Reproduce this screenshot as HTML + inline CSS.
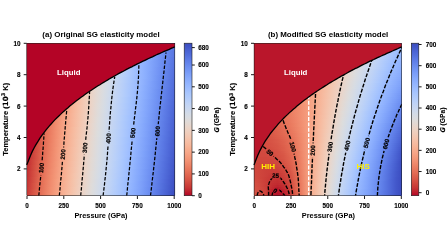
<!DOCTYPE html>
<html><head><meta charset="utf-8"><title>SG elasticity model</title>
<style>html,body{margin:0;padding:0;background:#fff}svg{display:block}</style></head>
<body>
<svg width="448" height="252" viewBox="0 0 448 252">
<defs>
<linearGradient id="ga0" gradientUnits="userSpaceOnUse" x1="26.7" x2="174.9" y1="0" y2="0"><stop offset="0.000" stop-color="#b40426"/><stop offset="0.040" stop-color="#bd1f2d"/><stop offset="0.080" stop-color="#cb3e38"/><stop offset="0.120" stop-color="#d75445"/><stop offset="0.160" stop-color="#e26952"/><stop offset="0.200" stop-color="#ea7b60"/><stop offset="0.240" stop-color="#f08b6e"/><stop offset="0.280" stop-color="#f59c7d"/><stop offset="0.320" stop-color="#f7aa8c"/><stop offset="0.360" stop-color="#f7b99e"/><stop offset="0.400" stop-color="#f4c6af"/><stop offset="0.440" stop-color="#efcfbf"/><stop offset="0.480" stop-color="#e8d6cc"/><stop offset="0.520" stop-color="#e0dbd8"/><stop offset="0.560" stop-color="#d8dce2"/><stop offset="0.600" stop-color="#cfdaea"/><stop offset="0.640" stop-color="#c5d6f2"/><stop offset="0.680" stop-color="#b7cff9"/><stop offset="0.720" stop-color="#a9c6fd"/><stop offset="0.760" stop-color="#9abbff"/><stop offset="0.800" stop-color="#8fb1fe"/><stop offset="0.840" stop-color="#84a7fc"/><stop offset="0.880" stop-color="#799cf8"/><stop offset="0.920" stop-color="#6e90f2"/><stop offset="0.960" stop-color="#6384eb"/><stop offset="1.000" stop-color="#5a78e4"/></linearGradient>
<linearGradient id="ga1" gradientUnits="userSpaceOnUse" x1="26.7" x2="174.9" y1="0" y2="0"><stop offset="0.000" stop-color="#b40426"/><stop offset="0.040" stop-color="#bd1f2d"/><stop offset="0.080" stop-color="#cb3e38"/><stop offset="0.120" stop-color="#d75445"/><stop offset="0.160" stop-color="#e26952"/><stop offset="0.200" stop-color="#ea7b60"/><stop offset="0.240" stop-color="#f18d6f"/><stop offset="0.280" stop-color="#f59c7d"/><stop offset="0.320" stop-color="#f7ac8e"/><stop offset="0.360" stop-color="#f7b99e"/><stop offset="0.400" stop-color="#f4c6af"/><stop offset="0.440" stop-color="#eed0c0"/><stop offset="0.480" stop-color="#e8d6cc"/><stop offset="0.520" stop-color="#e0dbd8"/><stop offset="0.560" stop-color="#d8dce2"/><stop offset="0.600" stop-color="#cfdaea"/><stop offset="0.640" stop-color="#c5d6f2"/><stop offset="0.680" stop-color="#b7cff9"/><stop offset="0.720" stop-color="#a9c6fd"/><stop offset="0.760" stop-color="#9abbff"/><stop offset="0.800" stop-color="#8fb1fe"/><stop offset="0.840" stop-color="#84a7fc"/><stop offset="0.880" stop-color="#799cf8"/><stop offset="0.920" stop-color="#6e90f2"/><stop offset="0.960" stop-color="#6384eb"/><stop offset="1.000" stop-color="#5977e3"/></linearGradient>
<linearGradient id="ga2" gradientUnits="userSpaceOnUse" x1="26.7" x2="174.9" y1="0" y2="0"><stop offset="0.000" stop-color="#b40426"/><stop offset="0.040" stop-color="#bd1f2d"/><stop offset="0.080" stop-color="#cb3e38"/><stop offset="0.120" stop-color="#d75445"/><stop offset="0.160" stop-color="#e26952"/><stop offset="0.200" stop-color="#ea7b60"/><stop offset="0.240" stop-color="#f18d6f"/><stop offset="0.280" stop-color="#f59d7e"/><stop offset="0.320" stop-color="#f7ac8e"/><stop offset="0.360" stop-color="#f7ba9f"/><stop offset="0.400" stop-color="#f4c6af"/><stop offset="0.440" stop-color="#eed0c0"/><stop offset="0.480" stop-color="#e8d6cc"/><stop offset="0.520" stop-color="#e0dbd8"/><stop offset="0.560" stop-color="#d7dce3"/><stop offset="0.600" stop-color="#cedaeb"/><stop offset="0.640" stop-color="#c4d5f3"/><stop offset="0.680" stop-color="#b6cefa"/><stop offset="0.720" stop-color="#a9c6fd"/><stop offset="0.760" stop-color="#9abbff"/><stop offset="0.800" stop-color="#8fb1fe"/><stop offset="0.840" stop-color="#84a7fc"/><stop offset="0.880" stop-color="#799cf8"/><stop offset="0.920" stop-color="#6e90f2"/><stop offset="0.960" stop-color="#6384eb"/><stop offset="1.000" stop-color="#5977e3"/></linearGradient>
<linearGradient id="ga3" gradientUnits="userSpaceOnUse" x1="26.7" x2="174.9" y1="0" y2="0"><stop offset="0.000" stop-color="#b40426"/><stop offset="0.040" stop-color="#bd1f2d"/><stop offset="0.080" stop-color="#cb3e38"/><stop offset="0.120" stop-color="#d75445"/><stop offset="0.160" stop-color="#e36b54"/><stop offset="0.200" stop-color="#ea7b60"/><stop offset="0.240" stop-color="#f18d6f"/><stop offset="0.280" stop-color="#f59d7e"/><stop offset="0.320" stop-color="#f7ac8e"/><stop offset="0.360" stop-color="#f7ba9f"/><stop offset="0.400" stop-color="#f4c6af"/><stop offset="0.440" stop-color="#eed0c0"/><stop offset="0.480" stop-color="#e7d7ce"/><stop offset="0.520" stop-color="#dfdbd9"/><stop offset="0.560" stop-color="#d7dce3"/><stop offset="0.600" stop-color="#cedaeb"/><stop offset="0.640" stop-color="#c4d5f3"/><stop offset="0.680" stop-color="#b6cefa"/><stop offset="0.720" stop-color="#a7c5fe"/><stop offset="0.760" stop-color="#9abbff"/><stop offset="0.800" stop-color="#8fb1fe"/><stop offset="0.840" stop-color="#84a7fc"/><stop offset="0.880" stop-color="#799cf8"/><stop offset="0.920" stop-color="#6c8ff1"/><stop offset="0.960" stop-color="#6384eb"/><stop offset="1.000" stop-color="#5977e3"/></linearGradient>
<linearGradient id="ga4" gradientUnits="userSpaceOnUse" x1="26.7" x2="174.9" y1="0" y2="0"><stop offset="0.000" stop-color="#b40426"/><stop offset="0.040" stop-color="#bd1f2d"/><stop offset="0.080" stop-color="#cc403a"/><stop offset="0.120" stop-color="#d85646"/><stop offset="0.160" stop-color="#e36b54"/><stop offset="0.200" stop-color="#eb7d62"/><stop offset="0.240" stop-color="#f18d6f"/><stop offset="0.280" stop-color="#f59d7e"/><stop offset="0.320" stop-color="#f7ac8e"/><stop offset="0.360" stop-color="#f7ba9f"/><stop offset="0.400" stop-color="#f3c7b1"/><stop offset="0.440" stop-color="#eed0c0"/><stop offset="0.480" stop-color="#e7d7ce"/><stop offset="0.520" stop-color="#dfdbd9"/><stop offset="0.560" stop-color="#d7dce3"/><stop offset="0.600" stop-color="#cedaeb"/><stop offset="0.640" stop-color="#c3d5f4"/><stop offset="0.680" stop-color="#b6cefa"/><stop offset="0.720" stop-color="#a7c5fe"/><stop offset="0.760" stop-color="#9abbff"/><stop offset="0.800" stop-color="#8db0fe"/><stop offset="0.840" stop-color="#82a6fb"/><stop offset="0.880" stop-color="#779af7"/><stop offset="0.920" stop-color="#6c8ff1"/><stop offset="0.960" stop-color="#6282ea"/><stop offset="1.000" stop-color="#5875e1"/></linearGradient>
<linearGradient id="ga5" gradientUnits="userSpaceOnUse" x1="26.7" x2="174.9" y1="0" y2="0"><stop offset="0.000" stop-color="#b40426"/><stop offset="0.040" stop-color="#be242e"/><stop offset="0.080" stop-color="#cc403a"/><stop offset="0.120" stop-color="#d85646"/><stop offset="0.160" stop-color="#e36b54"/><stop offset="0.200" stop-color="#eb7d62"/><stop offset="0.240" stop-color="#f18f71"/><stop offset="0.280" stop-color="#f59f80"/><stop offset="0.320" stop-color="#f7ad90"/><stop offset="0.360" stop-color="#f7ba9f"/><stop offset="0.400" stop-color="#f3c7b1"/><stop offset="0.440" stop-color="#edd1c2"/><stop offset="0.480" stop-color="#e7d7ce"/><stop offset="0.520" stop-color="#dfdbd9"/><stop offset="0.560" stop-color="#d6dce4"/><stop offset="0.600" stop-color="#cdd9ec"/><stop offset="0.640" stop-color="#c3d5f4"/><stop offset="0.680" stop-color="#b5cdfa"/><stop offset="0.720" stop-color="#a7c5fe"/><stop offset="0.760" stop-color="#9abbff"/><stop offset="0.800" stop-color="#8db0fe"/><stop offset="0.840" stop-color="#82a6fb"/><stop offset="0.880" stop-color="#779af7"/><stop offset="0.920" stop-color="#6c8ff1"/><stop offset="0.960" stop-color="#6282ea"/><stop offset="1.000" stop-color="#5875e1"/></linearGradient>
<linearGradient id="ga6" gradientUnits="userSpaceOnUse" x1="26.7" x2="174.9" y1="0" y2="0"><stop offset="0.000" stop-color="#b40426"/><stop offset="0.040" stop-color="#be242e"/><stop offset="0.080" stop-color="#cc403a"/><stop offset="0.120" stop-color="#d85646"/><stop offset="0.160" stop-color="#e36b54"/><stop offset="0.200" stop-color="#eb7d62"/><stop offset="0.240" stop-color="#f18f71"/><stop offset="0.280" stop-color="#f59f80"/><stop offset="0.320" stop-color="#f7ad90"/><stop offset="0.360" stop-color="#f7bca1"/><stop offset="0.400" stop-color="#f3c7b1"/><stop offset="0.440" stop-color="#edd1c2"/><stop offset="0.480" stop-color="#e7d7ce"/><stop offset="0.520" stop-color="#dedcdb"/><stop offset="0.560" stop-color="#d6dce4"/><stop offset="0.600" stop-color="#cdd9ec"/><stop offset="0.640" stop-color="#c1d4f4"/><stop offset="0.680" stop-color="#b5cdfa"/><stop offset="0.720" stop-color="#a7c5fe"/><stop offset="0.760" stop-color="#98b9ff"/><stop offset="0.800" stop-color="#8db0fe"/><stop offset="0.840" stop-color="#82a6fb"/><stop offset="0.880" stop-color="#779af7"/><stop offset="0.920" stop-color="#6c8ff1"/><stop offset="0.960" stop-color="#6282ea"/><stop offset="1.000" stop-color="#5875e1"/></linearGradient>
<linearGradient id="ga7" gradientUnits="userSpaceOnUse" x1="26.7" x2="174.9" y1="0" y2="0"><stop offset="0.000" stop-color="#b40426"/><stop offset="0.040" stop-color="#be242e"/><stop offset="0.080" stop-color="#cc403a"/><stop offset="0.120" stop-color="#d85646"/><stop offset="0.160" stop-color="#e36c55"/><stop offset="0.200" stop-color="#eb7d62"/><stop offset="0.240" stop-color="#f18f71"/><stop offset="0.280" stop-color="#f59f80"/><stop offset="0.320" stop-color="#f7ad90"/><stop offset="0.360" stop-color="#f7bca1"/><stop offset="0.400" stop-color="#f3c8b2"/><stop offset="0.440" stop-color="#edd1c2"/><stop offset="0.480" stop-color="#e6d7cf"/><stop offset="0.520" stop-color="#dedcdb"/><stop offset="0.560" stop-color="#d6dce4"/><stop offset="0.600" stop-color="#ccd9ed"/><stop offset="0.640" stop-color="#c1d4f4"/><stop offset="0.680" stop-color="#b5cdfa"/><stop offset="0.720" stop-color="#a6c4fe"/><stop offset="0.760" stop-color="#98b9ff"/><stop offset="0.800" stop-color="#8db0fe"/><stop offset="0.840" stop-color="#82a6fb"/><stop offset="0.880" stop-color="#779af7"/><stop offset="0.920" stop-color="#6b8df0"/><stop offset="0.960" stop-color="#6180e9"/><stop offset="1.000" stop-color="#5673e0"/></linearGradient>
<linearGradient id="ga8" gradientUnits="userSpaceOnUse" x1="26.7" x2="174.9" y1="0" y2="0"><stop offset="0.000" stop-color="#b40426"/><stop offset="0.040" stop-color="#be242e"/><stop offset="0.080" stop-color="#cc403a"/><stop offset="0.120" stop-color="#d95847"/><stop offset="0.160" stop-color="#e36c55"/><stop offset="0.200" stop-color="#ec7f63"/><stop offset="0.240" stop-color="#f29072"/><stop offset="0.280" stop-color="#f5a081"/><stop offset="0.320" stop-color="#f7af91"/><stop offset="0.360" stop-color="#f7bca1"/><stop offset="0.400" stop-color="#f3c8b2"/><stop offset="0.440" stop-color="#edd1c2"/><stop offset="0.480" stop-color="#e6d7cf"/><stop offset="0.520" stop-color="#dedcdb"/><stop offset="0.560" stop-color="#d5dbe5"/><stop offset="0.600" stop-color="#ccd9ed"/><stop offset="0.640" stop-color="#c0d4f5"/><stop offset="0.680" stop-color="#b3cdfb"/><stop offset="0.720" stop-color="#a6c4fe"/><stop offset="0.760" stop-color="#98b9ff"/><stop offset="0.800" stop-color="#8db0fe"/><stop offset="0.840" stop-color="#82a6fb"/><stop offset="0.880" stop-color="#7699f6"/><stop offset="0.920" stop-color="#6b8df0"/><stop offset="0.960" stop-color="#6180e9"/><stop offset="1.000" stop-color="#5673e0"/></linearGradient>
<linearGradient id="ga9" gradientUnits="userSpaceOnUse" x1="26.7" x2="174.9" y1="0" y2="0"><stop offset="0.000" stop-color="#b40426"/><stop offset="0.040" stop-color="#be242e"/><stop offset="0.080" stop-color="#cd423b"/><stop offset="0.120" stop-color="#d95847"/><stop offset="0.160" stop-color="#e36c55"/><stop offset="0.200" stop-color="#ec7f63"/><stop offset="0.240" stop-color="#f29072"/><stop offset="0.280" stop-color="#f5a081"/><stop offset="0.320" stop-color="#f7af91"/><stop offset="0.360" stop-color="#f6bda2"/><stop offset="0.400" stop-color="#f3c8b2"/><stop offset="0.440" stop-color="#edd2c3"/><stop offset="0.480" stop-color="#e6d7cf"/><stop offset="0.520" stop-color="#dddcdc"/><stop offset="0.560" stop-color="#d5dbe5"/><stop offset="0.600" stop-color="#cbd8ee"/><stop offset="0.640" stop-color="#c0d4f5"/><stop offset="0.680" stop-color="#b3cdfb"/><stop offset="0.720" stop-color="#a6c4fe"/><stop offset="0.760" stop-color="#98b9ff"/><stop offset="0.800" stop-color="#8db0fe"/><stop offset="0.840" stop-color="#81a4fb"/><stop offset="0.880" stop-color="#7699f6"/><stop offset="0.920" stop-color="#6b8df0"/><stop offset="0.960" stop-color="#6180e9"/><stop offset="1.000" stop-color="#5673e0"/></linearGradient>
<linearGradient id="ga10" gradientUnits="userSpaceOnUse" x1="26.7" x2="174.9" y1="0" y2="0"><stop offset="0.000" stop-color="#b40426"/><stop offset="0.040" stop-color="#c0282f"/><stop offset="0.080" stop-color="#cd423b"/><stop offset="0.120" stop-color="#d95847"/><stop offset="0.160" stop-color="#e36c55"/><stop offset="0.200" stop-color="#ec7f63"/><stop offset="0.240" stop-color="#f29072"/><stop offset="0.280" stop-color="#f5a081"/><stop offset="0.320" stop-color="#f7af91"/><stop offset="0.360" stop-color="#f6bda2"/><stop offset="0.400" stop-color="#f3c8b2"/><stop offset="0.440" stop-color="#edd2c3"/><stop offset="0.480" stop-color="#e6d7cf"/><stop offset="0.520" stop-color="#dddcdc"/><stop offset="0.560" stop-color="#d4dbe6"/><stop offset="0.600" stop-color="#cbd8ee"/><stop offset="0.640" stop-color="#bfd3f6"/><stop offset="0.680" stop-color="#b3cdfb"/><stop offset="0.720" stop-color="#a6c4fe"/><stop offset="0.760" stop-color="#98b9ff"/><stop offset="0.800" stop-color="#8db0fe"/><stop offset="0.840" stop-color="#81a4fb"/><stop offset="0.880" stop-color="#7699f6"/><stop offset="0.920" stop-color="#6a8bef"/><stop offset="0.960" stop-color="#5f7fe8"/><stop offset="1.000" stop-color="#5572df"/></linearGradient>
<linearGradient id="ga11" gradientUnits="userSpaceOnUse" x1="26.7" x2="174.9" y1="0" y2="0"><stop offset="0.000" stop-color="#b40426"/><stop offset="0.040" stop-color="#c0282f"/><stop offset="0.080" stop-color="#cd423b"/><stop offset="0.120" stop-color="#d95847"/><stop offset="0.160" stop-color="#e46e56"/><stop offset="0.200" stop-color="#ec7f63"/><stop offset="0.240" stop-color="#f29072"/><stop offset="0.280" stop-color="#f5a081"/><stop offset="0.320" stop-color="#f7b093"/><stop offset="0.360" stop-color="#f6bda2"/><stop offset="0.400" stop-color="#f2c9b4"/><stop offset="0.440" stop-color="#edd2c3"/><stop offset="0.480" stop-color="#e5d8d1"/><stop offset="0.520" stop-color="#dddcdc"/><stop offset="0.560" stop-color="#d4dbe6"/><stop offset="0.600" stop-color="#cad8ef"/><stop offset="0.640" stop-color="#bfd3f6"/><stop offset="0.680" stop-color="#b2ccfb"/><stop offset="0.720" stop-color="#a5c3fe"/><stop offset="0.760" stop-color="#98b9ff"/><stop offset="0.800" stop-color="#8caffe"/><stop offset="0.840" stop-color="#81a4fb"/><stop offset="0.880" stop-color="#7699f6"/><stop offset="0.920" stop-color="#6a8bef"/><stop offset="0.960" stop-color="#5f7fe8"/><stop offset="1.000" stop-color="#5572df"/></linearGradient>
<linearGradient id="ga12" gradientUnits="userSpaceOnUse" x1="26.7" x2="174.9" y1="0" y2="0"><stop offset="0.000" stop-color="#b40426"/><stop offset="0.040" stop-color="#c0282f"/><stop offset="0.080" stop-color="#cd423b"/><stop offset="0.120" stop-color="#da5a49"/><stop offset="0.160" stop-color="#e46e56"/><stop offset="0.200" stop-color="#ec8165"/><stop offset="0.240" stop-color="#f29274"/><stop offset="0.280" stop-color="#f6a283"/><stop offset="0.320" stop-color="#f7b093"/><stop offset="0.360" stop-color="#f6bda2"/><stop offset="0.400" stop-color="#f2c9b4"/><stop offset="0.440" stop-color="#edd2c3"/><stop offset="0.480" stop-color="#e5d8d1"/><stop offset="0.520" stop-color="#dcdddd"/><stop offset="0.560" stop-color="#d4dbe6"/><stop offset="0.600" stop-color="#cad8ef"/><stop offset="0.640" stop-color="#bed2f6"/><stop offset="0.680" stop-color="#b2ccfb"/><stop offset="0.720" stop-color="#a5c3fe"/><stop offset="0.760" stop-color="#98b9ff"/><stop offset="0.800" stop-color="#8caffe"/><stop offset="0.840" stop-color="#81a4fb"/><stop offset="0.880" stop-color="#7597f6"/><stop offset="0.920" stop-color="#6a8bef"/><stop offset="0.960" stop-color="#5f7fe8"/><stop offset="1.000" stop-color="#5470de"/></linearGradient>
<linearGradient id="ga13" gradientUnits="userSpaceOnUse" x1="26.7" x2="174.9" y1="0" y2="0"><stop offset="0.000" stop-color="#b40426"/><stop offset="0.040" stop-color="#c0282f"/><stop offset="0.080" stop-color="#cf453c"/><stop offset="0.120" stop-color="#da5a49"/><stop offset="0.160" stop-color="#e46e56"/><stop offset="0.200" stop-color="#ec8165"/><stop offset="0.240" stop-color="#f29274"/><stop offset="0.280" stop-color="#f6a283"/><stop offset="0.320" stop-color="#f7b093"/><stop offset="0.360" stop-color="#f6bea4"/><stop offset="0.400" stop-color="#f2c9b4"/><stop offset="0.440" stop-color="#edd2c3"/><stop offset="0.480" stop-color="#e5d8d1"/><stop offset="0.520" stop-color="#dcdddd"/><stop offset="0.560" stop-color="#d3dbe7"/><stop offset="0.600" stop-color="#cad8ef"/><stop offset="0.640" stop-color="#bed2f6"/><stop offset="0.680" stop-color="#b2ccfb"/><stop offset="0.720" stop-color="#a5c3fe"/><stop offset="0.760" stop-color="#98b9ff"/><stop offset="0.800" stop-color="#8caffe"/><stop offset="0.840" stop-color="#81a4fb"/><stop offset="0.880" stop-color="#7597f6"/><stop offset="0.920" stop-color="#6a8bef"/><stop offset="0.960" stop-color="#5e7de7"/><stop offset="1.000" stop-color="#5470de"/></linearGradient>
<linearGradient id="ga14" gradientUnits="userSpaceOnUse" x1="26.7" x2="174.9" y1="0" y2="0"><stop offset="0.000" stop-color="#b40426"/><stop offset="0.040" stop-color="#c0282f"/><stop offset="0.080" stop-color="#cf453c"/><stop offset="0.120" stop-color="#da5a49"/><stop offset="0.160" stop-color="#e46e56"/><stop offset="0.200" stop-color="#ec8165"/><stop offset="0.240" stop-color="#f29274"/><stop offset="0.280" stop-color="#f6a283"/><stop offset="0.320" stop-color="#f7b194"/><stop offset="0.360" stop-color="#f6bea4"/><stop offset="0.400" stop-color="#f2c9b4"/><stop offset="0.440" stop-color="#ecd3c5"/><stop offset="0.480" stop-color="#e5d8d1"/><stop offset="0.520" stop-color="#dcdddd"/><stop offset="0.560" stop-color="#d3dbe7"/><stop offset="0.600" stop-color="#c9d7f0"/><stop offset="0.640" stop-color="#bed2f6"/><stop offset="0.680" stop-color="#b1cbfc"/><stop offset="0.720" stop-color="#a5c3fe"/><stop offset="0.760" stop-color="#98b9ff"/><stop offset="0.800" stop-color="#8caffe"/><stop offset="0.840" stop-color="#80a3fa"/><stop offset="0.880" stop-color="#7597f6"/><stop offset="0.920" stop-color="#688aef"/><stop offset="0.960" stop-color="#5e7de7"/><stop offset="1.000" stop-color="#5470de"/></linearGradient>
<linearGradient id="ga15" gradientUnits="userSpaceOnUse" x1="26.7" x2="174.9" y1="0" y2="0"><stop offset="0.000" stop-color="#b40426"/><stop offset="0.040" stop-color="#c12b30"/><stop offset="0.080" stop-color="#cf453c"/><stop offset="0.120" stop-color="#da5a49"/><stop offset="0.160" stop-color="#e57058"/><stop offset="0.200" stop-color="#ed8366"/><stop offset="0.240" stop-color="#f39475"/><stop offset="0.280" stop-color="#f6a385"/><stop offset="0.320" stop-color="#f7b194"/><stop offset="0.360" stop-color="#f6bea4"/><stop offset="0.400" stop-color="#f2cab5"/><stop offset="0.440" stop-color="#ecd3c5"/><stop offset="0.480" stop-color="#e4d9d2"/><stop offset="0.520" stop-color="#dbdcde"/><stop offset="0.560" stop-color="#d2dbe8"/><stop offset="0.600" stop-color="#c9d7f0"/><stop offset="0.640" stop-color="#bcd2f7"/><stop offset="0.680" stop-color="#b1cbfc"/><stop offset="0.720" stop-color="#a5c3fe"/><stop offset="0.760" stop-color="#97b8ff"/><stop offset="0.800" stop-color="#8caffe"/><stop offset="0.840" stop-color="#80a3fa"/><stop offset="0.880" stop-color="#7597f6"/><stop offset="0.920" stop-color="#688aef"/><stop offset="0.960" stop-color="#5e7de7"/><stop offset="1.000" stop-color="#536edd"/></linearGradient>
<linearGradient id="ga16" gradientUnits="userSpaceOnUse" x1="26.7" x2="174.9" y1="0" y2="0"><stop offset="0.000" stop-color="#b40426"/><stop offset="0.040" stop-color="#c12b30"/><stop offset="0.080" stop-color="#cf453c"/><stop offset="0.120" stop-color="#dc5d4a"/><stop offset="0.160" stop-color="#e57058"/><stop offset="0.200" stop-color="#ed8366"/><stop offset="0.240" stop-color="#f39475"/><stop offset="0.280" stop-color="#f6a385"/><stop offset="0.320" stop-color="#f7b194"/><stop offset="0.360" stop-color="#f6bfa6"/><stop offset="0.400" stop-color="#f2cab5"/><stop offset="0.440" stop-color="#ecd3c5"/><stop offset="0.480" stop-color="#e4d9d2"/><stop offset="0.520" stop-color="#dbdcde"/><stop offset="0.560" stop-color="#d2dbe8"/><stop offset="0.600" stop-color="#c7d7f0"/><stop offset="0.640" stop-color="#bcd2f7"/><stop offset="0.680" stop-color="#b1cbfc"/><stop offset="0.720" stop-color="#a3c2fe"/><stop offset="0.760" stop-color="#97b8ff"/><stop offset="0.800" stop-color="#8caffe"/><stop offset="0.840" stop-color="#80a3fa"/><stop offset="0.880" stop-color="#7396f5"/><stop offset="0.920" stop-color="#688aef"/><stop offset="0.960" stop-color="#5d7ce6"/><stop offset="1.000" stop-color="#536edd"/></linearGradient>
<linearGradient id="ga17" gradientUnits="userSpaceOnUse" x1="26.7" x2="174.9" y1="0" y2="0"><stop offset="0.000" stop-color="#b40426"/><stop offset="0.040" stop-color="#c12b30"/><stop offset="0.080" stop-color="#cf453c"/><stop offset="0.120" stop-color="#dc5d4a"/><stop offset="0.160" stop-color="#e57058"/><stop offset="0.200" stop-color="#ed8366"/><stop offset="0.240" stop-color="#f39475"/><stop offset="0.280" stop-color="#f6a385"/><stop offset="0.320" stop-color="#f7b194"/><stop offset="0.360" stop-color="#f6bfa6"/><stop offset="0.400" stop-color="#f2cab5"/><stop offset="0.440" stop-color="#ecd3c5"/><stop offset="0.480" stop-color="#e4d9d2"/><stop offset="0.520" stop-color="#dbdcde"/><stop offset="0.560" stop-color="#d2dbe8"/><stop offset="0.600" stop-color="#c7d7f0"/><stop offset="0.640" stop-color="#bbd1f8"/><stop offset="0.680" stop-color="#afcafc"/><stop offset="0.720" stop-color="#a3c2fe"/><stop offset="0.760" stop-color="#97b8ff"/><stop offset="0.800" stop-color="#8caffe"/><stop offset="0.840" stop-color="#80a3fa"/><stop offset="0.880" stop-color="#7396f5"/><stop offset="0.920" stop-color="#6788ee"/><stop offset="0.960" stop-color="#5d7ce6"/><stop offset="1.000" stop-color="#516ddb"/></linearGradient>
<linearGradient id="ga18" gradientUnits="userSpaceOnUse" x1="26.7" x2="174.9" y1="0" y2="0"><stop offset="0.000" stop-color="#b40426"/><stop offset="0.040" stop-color="#c12b30"/><stop offset="0.080" stop-color="#d0473d"/><stop offset="0.120" stop-color="#dc5d4a"/><stop offset="0.160" stop-color="#e57058"/><stop offset="0.200" stop-color="#ed8366"/><stop offset="0.240" stop-color="#f39475"/><stop offset="0.280" stop-color="#f6a385"/><stop offset="0.320" stop-color="#f7b396"/><stop offset="0.360" stop-color="#f6bfa6"/><stop offset="0.400" stop-color="#f2cab5"/><stop offset="0.440" stop-color="#ecd3c5"/><stop offset="0.480" stop-color="#e3d9d3"/><stop offset="0.520" stop-color="#dadce0"/><stop offset="0.560" stop-color="#d1dae9"/><stop offset="0.600" stop-color="#c6d6f1"/><stop offset="0.640" stop-color="#bbd1f8"/><stop offset="0.680" stop-color="#afcafc"/><stop offset="0.720" stop-color="#a3c2fe"/><stop offset="0.760" stop-color="#97b8ff"/><stop offset="0.800" stop-color="#8badfd"/><stop offset="0.840" stop-color="#80a3fa"/><stop offset="0.880" stop-color="#7396f5"/><stop offset="0.920" stop-color="#6788ee"/><stop offset="0.960" stop-color="#5b7ae5"/><stop offset="1.000" stop-color="#516ddb"/></linearGradient>
<linearGradient id="ga19" gradientUnits="userSpaceOnUse" x1="26.7" x2="174.9" y1="0" y2="0"><stop offset="0.000" stop-color="#b40426"/><stop offset="0.040" stop-color="#c12b30"/><stop offset="0.080" stop-color="#d0473d"/><stop offset="0.120" stop-color="#dc5d4a"/><stop offset="0.160" stop-color="#e67259"/><stop offset="0.200" stop-color="#ee8468"/><stop offset="0.240" stop-color="#f39577"/><stop offset="0.280" stop-color="#f6a586"/><stop offset="0.320" stop-color="#f7b396"/><stop offset="0.360" stop-color="#f6bfa6"/><stop offset="0.400" stop-color="#f2cbb7"/><stop offset="0.440" stop-color="#ebd3c6"/><stop offset="0.480" stop-color="#e3d9d3"/><stop offset="0.520" stop-color="#dadce0"/><stop offset="0.560" stop-color="#d1dae9"/><stop offset="0.600" stop-color="#c6d6f1"/><stop offset="0.640" stop-color="#bbd1f8"/><stop offset="0.680" stop-color="#afcafc"/><stop offset="0.720" stop-color="#a3c2fe"/><stop offset="0.760" stop-color="#97b8ff"/><stop offset="0.800" stop-color="#8badfd"/><stop offset="0.840" stop-color="#7ea1fa"/><stop offset="0.880" stop-color="#7295f4"/><stop offset="0.920" stop-color="#6788ee"/><stop offset="0.960" stop-color="#5b7ae5"/><stop offset="1.000" stop-color="#516ddb"/></linearGradient>
<linearGradient id="ga20" gradientUnits="userSpaceOnUse" x1="26.7" x2="174.9" y1="0" y2="0"><stop offset="0.000" stop-color="#b40426"/><stop offset="0.040" stop-color="#c32e31"/><stop offset="0.080" stop-color="#d0473d"/><stop offset="0.120" stop-color="#dc5d4a"/><stop offset="0.160" stop-color="#e67259"/><stop offset="0.200" stop-color="#ee8468"/><stop offset="0.240" stop-color="#f39577"/><stop offset="0.280" stop-color="#f6a586"/><stop offset="0.320" stop-color="#f7b396"/><stop offset="0.360" stop-color="#f5c0a7"/><stop offset="0.400" stop-color="#f2cbb7"/><stop offset="0.440" stop-color="#ebd3c6"/><stop offset="0.480" stop-color="#e3d9d3"/><stop offset="0.520" stop-color="#dadce0"/><stop offset="0.560" stop-color="#d1dae9"/><stop offset="0.600" stop-color="#c5d6f2"/><stop offset="0.640" stop-color="#bad0f8"/><stop offset="0.680" stop-color="#aec9fc"/><stop offset="0.720" stop-color="#a2c1ff"/><stop offset="0.760" stop-color="#97b8ff"/><stop offset="0.800" stop-color="#8badfd"/><stop offset="0.840" stop-color="#7ea1fa"/><stop offset="0.880" stop-color="#7295f4"/><stop offset="0.920" stop-color="#6687ed"/><stop offset="0.960" stop-color="#5b7ae5"/><stop offset="1.000" stop-color="#506bda"/></linearGradient>
<linearGradient id="ga21" gradientUnits="userSpaceOnUse" x1="26.7" x2="174.9" y1="0" y2="0"><stop offset="0.000" stop-color="#b40426"/><stop offset="0.040" stop-color="#c32e31"/><stop offset="0.080" stop-color="#d0473d"/><stop offset="0.120" stop-color="#dd5f4b"/><stop offset="0.160" stop-color="#e67259"/><stop offset="0.200" stop-color="#ee8468"/><stop offset="0.240" stop-color="#f39577"/><stop offset="0.280" stop-color="#f6a586"/><stop offset="0.320" stop-color="#f7b497"/><stop offset="0.360" stop-color="#f5c0a7"/><stop offset="0.400" stop-color="#f2cbb7"/><stop offset="0.440" stop-color="#ebd3c6"/><stop offset="0.480" stop-color="#e3d9d3"/><stop offset="0.520" stop-color="#d9dce1"/><stop offset="0.560" stop-color="#cfdaea"/><stop offset="0.600" stop-color="#c5d6f2"/><stop offset="0.640" stop-color="#bad0f8"/><stop offset="0.680" stop-color="#aec9fc"/><stop offset="0.720" stop-color="#a2c1ff"/><stop offset="0.760" stop-color="#96b7ff"/><stop offset="0.800" stop-color="#89acfd"/><stop offset="0.840" stop-color="#7ea1fa"/><stop offset="0.880" stop-color="#7295f4"/><stop offset="0.920" stop-color="#6687ed"/><stop offset="0.960" stop-color="#5b7ae5"/><stop offset="1.000" stop-color="#506bda"/></linearGradient>
<linearGradient id="ga22" gradientUnits="userSpaceOnUse" x1="26.7" x2="174.9" y1="0" y2="0"><stop offset="0.000" stop-color="#b40426"/><stop offset="0.040" stop-color="#c32e31"/><stop offset="0.080" stop-color="#d1493f"/><stop offset="0.120" stop-color="#dd5f4b"/><stop offset="0.160" stop-color="#e67259"/><stop offset="0.200" stop-color="#ee8468"/><stop offset="0.240" stop-color="#f39778"/><stop offset="0.280" stop-color="#f7a688"/><stop offset="0.320" stop-color="#f7b497"/><stop offset="0.360" stop-color="#f5c0a7"/><stop offset="0.400" stop-color="#f2cbb7"/><stop offset="0.440" stop-color="#ebd3c6"/><stop offset="0.480" stop-color="#e2dad5"/><stop offset="0.520" stop-color="#d9dce1"/><stop offset="0.560" stop-color="#cfdaea"/><stop offset="0.600" stop-color="#c5d6f2"/><stop offset="0.640" stop-color="#bad0f8"/><stop offset="0.680" stop-color="#aec9fc"/><stop offset="0.720" stop-color="#a2c1ff"/><stop offset="0.760" stop-color="#96b7ff"/><stop offset="0.800" stop-color="#89acfd"/><stop offset="0.840" stop-color="#7da0f9"/><stop offset="0.880" stop-color="#7295f4"/><stop offset="0.920" stop-color="#6687ed"/><stop offset="0.960" stop-color="#5a78e4"/><stop offset="1.000" stop-color="#506bda"/></linearGradient>
<linearGradient id="ga23" gradientUnits="userSpaceOnUse" x1="26.7" x2="174.9" y1="0" y2="0"><stop offset="0.000" stop-color="#b40426"/><stop offset="0.040" stop-color="#c32e31"/><stop offset="0.080" stop-color="#d1493f"/><stop offset="0.120" stop-color="#dd5f4b"/><stop offset="0.160" stop-color="#e7745b"/><stop offset="0.200" stop-color="#ee8669"/><stop offset="0.240" stop-color="#f39778"/><stop offset="0.280" stop-color="#f7a688"/><stop offset="0.320" stop-color="#f7b497"/><stop offset="0.360" stop-color="#f5c0a7"/><stop offset="0.400" stop-color="#f1ccb8"/><stop offset="0.440" stop-color="#ead4c8"/><stop offset="0.480" stop-color="#e2dad5"/><stop offset="0.520" stop-color="#d9dce1"/><stop offset="0.560" stop-color="#cfdaea"/><stop offset="0.600" stop-color="#c4d5f3"/><stop offset="0.640" stop-color="#b9d0f9"/><stop offset="0.680" stop-color="#adc9fd"/><stop offset="0.720" stop-color="#a2c1ff"/><stop offset="0.760" stop-color="#96b7ff"/><stop offset="0.800" stop-color="#89acfd"/><stop offset="0.840" stop-color="#7da0f9"/><stop offset="0.880" stop-color="#7093f3"/><stop offset="0.920" stop-color="#6485ec"/><stop offset="0.960" stop-color="#5a78e4"/><stop offset="1.000" stop-color="#4f69d9"/></linearGradient>
<linearGradient id="ga24" gradientUnits="userSpaceOnUse" x1="26.7" x2="174.9" y1="0" y2="0"><stop offset="0.000" stop-color="#b40426"/><stop offset="0.040" stop-color="#c32e31"/><stop offset="0.080" stop-color="#d1493f"/><stop offset="0.120" stop-color="#dd5f4b"/><stop offset="0.160" stop-color="#e7745b"/><stop offset="0.200" stop-color="#ee8669"/><stop offset="0.240" stop-color="#f39778"/><stop offset="0.280" stop-color="#f7a688"/><stop offset="0.320" stop-color="#f7b599"/><stop offset="0.360" stop-color="#f5c1a9"/><stop offset="0.400" stop-color="#f1ccb8"/><stop offset="0.440" stop-color="#ead4c8"/><stop offset="0.480" stop-color="#e2dad5"/><stop offset="0.520" stop-color="#d9dce1"/><stop offset="0.560" stop-color="#cedaeb"/><stop offset="0.600" stop-color="#c4d5f3"/><stop offset="0.640" stop-color="#b9d0f9"/><stop offset="0.680" stop-color="#adc9fd"/><stop offset="0.720" stop-color="#a1c0ff"/><stop offset="0.760" stop-color="#94b6ff"/><stop offset="0.800" stop-color="#88abfd"/><stop offset="0.840" stop-color="#7da0f9"/><stop offset="0.880" stop-color="#7093f3"/><stop offset="0.920" stop-color="#6485ec"/><stop offset="0.960" stop-color="#5a78e4"/><stop offset="1.000" stop-color="#4f69d9"/></linearGradient>
<linearGradient id="ga25" gradientUnits="userSpaceOnUse" x1="26.7" x2="174.9" y1="0" y2="0"><stop offset="0.000" stop-color="#b40426"/><stop offset="0.040" stop-color="#c43032"/><stop offset="0.080" stop-color="#d1493f"/><stop offset="0.120" stop-color="#de614d"/><stop offset="0.160" stop-color="#e7745b"/><stop offset="0.200" stop-color="#ee8669"/><stop offset="0.240" stop-color="#f39778"/><stop offset="0.280" stop-color="#f7a889"/><stop offset="0.320" stop-color="#f7b599"/><stop offset="0.360" stop-color="#f5c1a9"/><stop offset="0.400" stop-color="#f1ccb8"/><stop offset="0.440" stop-color="#ead4c8"/><stop offset="0.480" stop-color="#e2dad5"/><stop offset="0.520" stop-color="#d8dce2"/><stop offset="0.560" stop-color="#cedaeb"/><stop offset="0.600" stop-color="#c4d5f3"/><stop offset="0.640" stop-color="#b9d0f9"/><stop offset="0.680" stop-color="#adc9fd"/><stop offset="0.720" stop-color="#a1c0ff"/><stop offset="0.760" stop-color="#94b6ff"/><stop offset="0.800" stop-color="#88abfd"/><stop offset="0.840" stop-color="#7b9ff9"/><stop offset="0.880" stop-color="#7093f3"/><stop offset="0.920" stop-color="#6485ec"/><stop offset="0.960" stop-color="#5977e3"/><stop offset="1.000" stop-color="#4f69d9"/></linearGradient>
<linearGradient id="ga26" gradientUnits="userSpaceOnUse" x1="26.7" x2="174.9" y1="0" y2="0"><stop offset="0.000" stop-color="#b40426"/><stop offset="0.040" stop-color="#c43032"/><stop offset="0.080" stop-color="#d1493f"/><stop offset="0.120" stop-color="#de614d"/><stop offset="0.160" stop-color="#e7745b"/><stop offset="0.200" stop-color="#ef886b"/><stop offset="0.240" stop-color="#f4987a"/><stop offset="0.280" stop-color="#f7a889"/><stop offset="0.320" stop-color="#f7b599"/><stop offset="0.360" stop-color="#f5c1a9"/><stop offset="0.400" stop-color="#f1ccb8"/><stop offset="0.440" stop-color="#ead4c8"/><stop offset="0.480" stop-color="#e1dad6"/><stop offset="0.520" stop-color="#d8dce2"/><stop offset="0.560" stop-color="#cedaeb"/><stop offset="0.600" stop-color="#c3d5f4"/><stop offset="0.640" stop-color="#b9d0f9"/><stop offset="0.680" stop-color="#adc9fd"/><stop offset="0.720" stop-color="#a1c0ff"/><stop offset="0.760" stop-color="#94b6ff"/><stop offset="0.800" stop-color="#88abfd"/><stop offset="0.840" stop-color="#7b9ff9"/><stop offset="0.880" stop-color="#6f92f3"/><stop offset="0.920" stop-color="#6384eb"/><stop offset="0.960" stop-color="#5977e3"/><stop offset="1.000" stop-color="#4e68d8"/></linearGradient>
<linearGradient id="ga27" gradientUnits="userSpaceOnUse" x1="26.7" x2="174.9" y1="0" y2="0"><stop offset="0.000" stop-color="#b50927"/><stop offset="0.040" stop-color="#c43032"/><stop offset="0.080" stop-color="#d24b40"/><stop offset="0.120" stop-color="#de614d"/><stop offset="0.160" stop-color="#e8765c"/><stop offset="0.200" stop-color="#ef886b"/><stop offset="0.240" stop-color="#f4987a"/><stop offset="0.280" stop-color="#f7a889"/><stop offset="0.320" stop-color="#f7b599"/><stop offset="0.360" stop-color="#f5c2aa"/><stop offset="0.400" stop-color="#f1cdba"/><stop offset="0.440" stop-color="#ead5c9"/><stop offset="0.480" stop-color="#e1dad6"/><stop offset="0.520" stop-color="#d8dce2"/><stop offset="0.560" stop-color="#cdd9ec"/><stop offset="0.600" stop-color="#c3d5f4"/><stop offset="0.640" stop-color="#b7cff9"/><stop offset="0.680" stop-color="#abc8fd"/><stop offset="0.720" stop-color="#9fbfff"/><stop offset="0.760" stop-color="#93b5fe"/><stop offset="0.800" stop-color="#88abfd"/><stop offset="0.840" stop-color="#7b9ff9"/><stop offset="0.880" stop-color="#6f92f3"/><stop offset="0.920" stop-color="#6384eb"/><stop offset="0.960" stop-color="#5977e3"/><stop offset="1.000" stop-color="#4e68d8"/></linearGradient>
<linearGradient id="ga28" gradientUnits="userSpaceOnUse" x1="26.7" x2="174.9" y1="0" y2="0"><stop offset="0.000" stop-color="#b50927"/><stop offset="0.040" stop-color="#c43032"/><stop offset="0.080" stop-color="#d24b40"/><stop offset="0.120" stop-color="#de614d"/><stop offset="0.160" stop-color="#e8765c"/><stop offset="0.200" stop-color="#ef886b"/><stop offset="0.240" stop-color="#f4987a"/><stop offset="0.280" stop-color="#f7a98b"/><stop offset="0.320" stop-color="#f7b79b"/><stop offset="0.360" stop-color="#f5c2aa"/><stop offset="0.400" stop-color="#f1cdba"/><stop offset="0.440" stop-color="#ead5c9"/><stop offset="0.480" stop-color="#e1dad6"/><stop offset="0.520" stop-color="#d7dce3"/><stop offset="0.560" stop-color="#cdd9ec"/><stop offset="0.600" stop-color="#c3d5f4"/><stop offset="0.640" stop-color="#b7cff9"/><stop offset="0.680" stop-color="#abc8fd"/><stop offset="0.720" stop-color="#9fbfff"/><stop offset="0.760" stop-color="#93b5fe"/><stop offset="0.800" stop-color="#86a9fc"/><stop offset="0.840" stop-color="#7a9df8"/><stop offset="0.880" stop-color="#6f92f3"/><stop offset="0.920" stop-color="#6384eb"/><stop offset="0.960" stop-color="#5875e1"/><stop offset="1.000" stop-color="#4e68d8"/></linearGradient>
<linearGradient id="ga29" gradientUnits="userSpaceOnUse" x1="26.7" x2="174.9" y1="0" y2="0"><stop offset="0.000" stop-color="#b50927"/><stop offset="0.040" stop-color="#c53334"/><stop offset="0.080" stop-color="#d24b40"/><stop offset="0.120" stop-color="#df634e"/><stop offset="0.160" stop-color="#e8765c"/><stop offset="0.200" stop-color="#ef886b"/><stop offset="0.240" stop-color="#f49a7b"/><stop offset="0.280" stop-color="#f7a98b"/><stop offset="0.320" stop-color="#f7b79b"/><stop offset="0.360" stop-color="#f5c2aa"/><stop offset="0.400" stop-color="#f1cdba"/><stop offset="0.440" stop-color="#ead5c9"/><stop offset="0.480" stop-color="#e1dad6"/><stop offset="0.520" stop-color="#d7dce3"/><stop offset="0.560" stop-color="#cdd9ec"/><stop offset="0.600" stop-color="#c3d5f4"/><stop offset="0.640" stop-color="#b7cff9"/><stop offset="0.680" stop-color="#abc8fd"/><stop offset="0.720" stop-color="#9fbfff"/><stop offset="0.760" stop-color="#93b5fe"/><stop offset="0.800" stop-color="#86a9fc"/><stop offset="0.840" stop-color="#7a9df8"/><stop offset="0.880" stop-color="#6e90f2"/><stop offset="0.920" stop-color="#6384eb"/><stop offset="0.960" stop-color="#5875e1"/><stop offset="1.000" stop-color="#4c66d6"/></linearGradient>
<linearGradient id="ga30" gradientUnits="userSpaceOnUse" x1="26.7" x2="174.9" y1="0" y2="0"><stop offset="0.000" stop-color="#b50927"/><stop offset="0.040" stop-color="#c53334"/><stop offset="0.080" stop-color="#d24b40"/><stop offset="0.120" stop-color="#df634e"/><stop offset="0.160" stop-color="#e8765c"/><stop offset="0.200" stop-color="#f08a6c"/><stop offset="0.240" stop-color="#f49a7b"/><stop offset="0.280" stop-color="#f7a98b"/><stop offset="0.320" stop-color="#f7b79b"/><stop offset="0.360" stop-color="#f5c2aa"/><stop offset="0.400" stop-color="#f1cdba"/><stop offset="0.440" stop-color="#ead5c9"/><stop offset="0.480" stop-color="#e0dbd8"/><stop offset="0.520" stop-color="#d7dce3"/><stop offset="0.560" stop-color="#ccd9ed"/><stop offset="0.600" stop-color="#c1d4f4"/><stop offset="0.640" stop-color="#b6cefa"/><stop offset="0.680" stop-color="#aac7fd"/><stop offset="0.720" stop-color="#9ebeff"/><stop offset="0.760" stop-color="#92b4fe"/><stop offset="0.800" stop-color="#86a9fc"/><stop offset="0.840" stop-color="#7a9df8"/><stop offset="0.880" stop-color="#6e90f2"/><stop offset="0.920" stop-color="#6282ea"/><stop offset="0.960" stop-color="#5875e1"/><stop offset="1.000" stop-color="#4c66d6"/></linearGradient>
<linearGradient id="ga31" gradientUnits="userSpaceOnUse" x1="26.7" x2="174.9" y1="0" y2="0"><stop offset="0.000" stop-color="#b50927"/><stop offset="0.040" stop-color="#c53334"/><stop offset="0.080" stop-color="#d44e41"/><stop offset="0.120" stop-color="#df634e"/><stop offset="0.160" stop-color="#e9785d"/><stop offset="0.200" stop-color="#f08a6c"/><stop offset="0.240" stop-color="#f49a7b"/><stop offset="0.280" stop-color="#f7a98b"/><stop offset="0.320" stop-color="#f7b89c"/><stop offset="0.360" stop-color="#f5c4ac"/><stop offset="0.400" stop-color="#f0cdbb"/><stop offset="0.440" stop-color="#ead5c9"/><stop offset="0.480" stop-color="#e0dbd8"/><stop offset="0.520" stop-color="#d6dce4"/><stop offset="0.560" stop-color="#ccd9ed"/><stop offset="0.600" stop-color="#c1d4f4"/><stop offset="0.640" stop-color="#b6cefa"/><stop offset="0.680" stop-color="#aac7fd"/><stop offset="0.720" stop-color="#9ebeff"/><stop offset="0.760" stop-color="#92b4fe"/><stop offset="0.800" stop-color="#85a8fc"/><stop offset="0.840" stop-color="#799cf8"/><stop offset="0.880" stop-color="#6e90f2"/><stop offset="0.920" stop-color="#6282ea"/><stop offset="0.960" stop-color="#5673e0"/><stop offset="1.000" stop-color="#4c66d6"/></linearGradient>
<linearGradient id="ga32" gradientUnits="userSpaceOnUse" x1="26.7" x2="174.9" y1="0" y2="0"><stop offset="0.000" stop-color="#b70d28"/><stop offset="0.040" stop-color="#c53334"/><stop offset="0.080" stop-color="#d44e41"/><stop offset="0.120" stop-color="#df634e"/><stop offset="0.160" stop-color="#e9785d"/><stop offset="0.200" stop-color="#f08a6c"/><stop offset="0.240" stop-color="#f59c7d"/><stop offset="0.280" stop-color="#f7aa8c"/><stop offset="0.320" stop-color="#f7b89c"/><stop offset="0.360" stop-color="#f5c4ac"/><stop offset="0.400" stop-color="#f0cdbb"/><stop offset="0.440" stop-color="#e9d5cb"/><stop offset="0.480" stop-color="#e0dbd8"/><stop offset="0.520" stop-color="#d6dce4"/><stop offset="0.560" stop-color="#ccd9ed"/><stop offset="0.600" stop-color="#c1d4f4"/><stop offset="0.640" stop-color="#b6cefa"/><stop offset="0.680" stop-color="#aac7fd"/><stop offset="0.720" stop-color="#9ebeff"/><stop offset="0.760" stop-color="#92b4fe"/><stop offset="0.800" stop-color="#85a8fc"/><stop offset="0.840" stop-color="#799cf8"/><stop offset="0.880" stop-color="#6c8ff1"/><stop offset="0.920" stop-color="#6282ea"/><stop offset="0.960" stop-color="#5673e0"/><stop offset="1.000" stop-color="#4b64d5"/></linearGradient>
<linearGradient id="ga33" gradientUnits="userSpaceOnUse" x1="26.7" x2="174.9" y1="0" y2="0"><stop offset="0.000" stop-color="#b70d28"/><stop offset="0.040" stop-color="#c53334"/><stop offset="0.080" stop-color="#d44e41"/><stop offset="0.120" stop-color="#e0654f"/><stop offset="0.160" stop-color="#e9785d"/><stop offset="0.200" stop-color="#f08a6c"/><stop offset="0.240" stop-color="#f59c7d"/><stop offset="0.280" stop-color="#f7aa8c"/><stop offset="0.320" stop-color="#f7b89c"/><stop offset="0.360" stop-color="#f5c4ac"/><stop offset="0.400" stop-color="#f0cdbb"/><stop offset="0.440" stop-color="#e9d5cb"/><stop offset="0.480" stop-color="#dfdbd9"/><stop offset="0.520" stop-color="#d6dce4"/><stop offset="0.560" stop-color="#cbd8ee"/><stop offset="0.600" stop-color="#c0d4f5"/><stop offset="0.640" stop-color="#b5cdfa"/><stop offset="0.680" stop-color="#a9c6fd"/><stop offset="0.720" stop-color="#9dbdff"/><stop offset="0.760" stop-color="#92b4fe"/><stop offset="0.800" stop-color="#85a8fc"/><stop offset="0.840" stop-color="#799cf8"/><stop offset="0.880" stop-color="#6c8ff1"/><stop offset="0.920" stop-color="#6180e9"/><stop offset="0.960" stop-color="#5673e0"/><stop offset="1.000" stop-color="#4b64d5"/></linearGradient>
<linearGradient id="ga34" gradientUnits="userSpaceOnUse" x1="26.7" x2="174.9" y1="0" y2="0"><stop offset="0.000" stop-color="#b70d28"/><stop offset="0.040" stop-color="#c73635"/><stop offset="0.080" stop-color="#d44e41"/><stop offset="0.120" stop-color="#e0654f"/><stop offset="0.160" stop-color="#e9785d"/><stop offset="0.200" stop-color="#f08b6e"/><stop offset="0.240" stop-color="#f59c7d"/><stop offset="0.280" stop-color="#f7aa8c"/><stop offset="0.320" stop-color="#f7b89c"/><stop offset="0.360" stop-color="#f5c4ac"/><stop offset="0.400" stop-color="#f0cdbb"/><stop offset="0.440" stop-color="#e9d5cb"/><stop offset="0.480" stop-color="#dfdbd9"/><stop offset="0.520" stop-color="#d6dce4"/><stop offset="0.560" stop-color="#cbd8ee"/><stop offset="0.600" stop-color="#c0d4f5"/><stop offset="0.640" stop-color="#b5cdfa"/><stop offset="0.680" stop-color="#a9c6fd"/><stop offset="0.720" stop-color="#9dbdff"/><stop offset="0.760" stop-color="#90b2fe"/><stop offset="0.800" stop-color="#84a7fc"/><stop offset="0.840" stop-color="#799cf8"/><stop offset="0.880" stop-color="#6c8ff1"/><stop offset="0.920" stop-color="#6180e9"/><stop offset="0.960" stop-color="#5572df"/><stop offset="1.000" stop-color="#4b64d5"/></linearGradient>
<linearGradient id="ga35" gradientUnits="userSpaceOnUse" x1="26.7" x2="174.9" y1="0" y2="0"><stop offset="0.000" stop-color="#b70d28"/><stop offset="0.040" stop-color="#c73635"/><stop offset="0.080" stop-color="#d55042"/><stop offset="0.120" stop-color="#e0654f"/><stop offset="0.160" stop-color="#e97a5f"/><stop offset="0.200" stop-color="#f08b6e"/><stop offset="0.240" stop-color="#f59c7d"/><stop offset="0.280" stop-color="#f7ac8e"/><stop offset="0.320" stop-color="#f7b99e"/><stop offset="0.360" stop-color="#f4c5ad"/><stop offset="0.400" stop-color="#efcebd"/><stop offset="0.440" stop-color="#e9d5cb"/><stop offset="0.480" stop-color="#dfdbd9"/><stop offset="0.520" stop-color="#d5dbe5"/><stop offset="0.560" stop-color="#cbd8ee"/><stop offset="0.600" stop-color="#c0d4f5"/><stop offset="0.640" stop-color="#b5cdfa"/><stop offset="0.680" stop-color="#a9c6fd"/><stop offset="0.720" stop-color="#9dbdff"/><stop offset="0.760" stop-color="#90b2fe"/><stop offset="0.800" stop-color="#84a7fc"/><stop offset="0.840" stop-color="#779af7"/><stop offset="0.880" stop-color="#6b8df0"/><stop offset="0.920" stop-color="#6180e9"/><stop offset="0.960" stop-color="#5572df"/><stop offset="1.000" stop-color="#4a63d3"/></linearGradient>
<linearGradient id="ga36" gradientUnits="userSpaceOnUse" x1="26.7" x2="174.9" y1="0" y2="0"><stop offset="0.000" stop-color="#b70d28"/><stop offset="0.040" stop-color="#c73635"/><stop offset="0.080" stop-color="#d55042"/><stop offset="0.120" stop-color="#e16751"/><stop offset="0.160" stop-color="#e97a5f"/><stop offset="0.200" stop-color="#f08b6e"/><stop offset="0.240" stop-color="#f59d7e"/><stop offset="0.280" stop-color="#f7ac8e"/><stop offset="0.320" stop-color="#f7b99e"/><stop offset="0.360" stop-color="#f4c5ad"/><stop offset="0.400" stop-color="#efcebd"/><stop offset="0.440" stop-color="#e8d6cc"/><stop offset="0.480" stop-color="#dfdbd9"/><stop offset="0.520" stop-color="#d5dbe5"/><stop offset="0.560" stop-color="#cad8ef"/><stop offset="0.600" stop-color="#bfd3f6"/><stop offset="0.640" stop-color="#b3cdfb"/><stop offset="0.680" stop-color="#a7c5fe"/><stop offset="0.720" stop-color="#9bbcff"/><stop offset="0.760" stop-color="#90b2fe"/><stop offset="0.800" stop-color="#84a7fc"/><stop offset="0.840" stop-color="#779af7"/><stop offset="0.880" stop-color="#6b8df0"/><stop offset="0.920" stop-color="#5f7fe8"/><stop offset="0.960" stop-color="#5572df"/><stop offset="1.000" stop-color="#4a63d3"/></linearGradient>
<linearGradient id="ga37" gradientUnits="userSpaceOnUse" x1="26.7" x2="174.9" y1="0" y2="0"><stop offset="0.000" stop-color="#b8122a"/><stop offset="0.040" stop-color="#c73635"/><stop offset="0.080" stop-color="#d55042"/><stop offset="0.120" stop-color="#e16751"/><stop offset="0.160" stop-color="#e97a5f"/><stop offset="0.200" stop-color="#f18d6f"/><stop offset="0.240" stop-color="#f59d7e"/><stop offset="0.280" stop-color="#f7ac8e"/><stop offset="0.320" stop-color="#f7b99e"/><stop offset="0.360" stop-color="#f4c5ad"/><stop offset="0.400" stop-color="#efcebd"/><stop offset="0.440" stop-color="#e8d6cc"/><stop offset="0.480" stop-color="#dedcdb"/><stop offset="0.520" stop-color="#d5dbe5"/><stop offset="0.560" stop-color="#cad8ef"/><stop offset="0.600" stop-color="#bfd3f6"/><stop offset="0.640" stop-color="#b3cdfb"/><stop offset="0.680" stop-color="#a7c5fe"/><stop offset="0.720" stop-color="#9bbcff"/><stop offset="0.760" stop-color="#8fb1fe"/><stop offset="0.800" stop-color="#82a6fb"/><stop offset="0.840" stop-color="#779af7"/><stop offset="0.880" stop-color="#6b8df0"/><stop offset="0.920" stop-color="#5f7fe8"/><stop offset="0.960" stop-color="#5470de"/><stop offset="1.000" stop-color="#4a63d3"/></linearGradient>
<linearGradient id="ga38" gradientUnits="userSpaceOnUse" x1="26.7" x2="174.9" y1="0" y2="0"><stop offset="0.000" stop-color="#b8122a"/><stop offset="0.040" stop-color="#c83836"/><stop offset="0.080" stop-color="#d55042"/><stop offset="0.120" stop-color="#e16751"/><stop offset="0.160" stop-color="#e97a5f"/><stop offset="0.200" stop-color="#f18d6f"/><stop offset="0.240" stop-color="#f59d7e"/><stop offset="0.280" stop-color="#f7ad90"/><stop offset="0.320" stop-color="#f7ba9f"/><stop offset="0.360" stop-color="#f4c5ad"/><stop offset="0.400" stop-color="#efcebd"/><stop offset="0.440" stop-color="#e8d6cc"/><stop offset="0.480" stop-color="#dedcdb"/><stop offset="0.520" stop-color="#d4dbe6"/><stop offset="0.560" stop-color="#cad8ef"/><stop offset="0.600" stop-color="#bfd3f6"/><stop offset="0.640" stop-color="#b3cdfb"/><stop offset="0.680" stop-color="#a7c5fe"/><stop offset="0.720" stop-color="#9bbcff"/><stop offset="0.760" stop-color="#8fb1fe"/><stop offset="0.800" stop-color="#82a6fb"/><stop offset="0.840" stop-color="#7699f6"/><stop offset="0.880" stop-color="#6a8bef"/><stop offset="0.920" stop-color="#5f7fe8"/><stop offset="0.960" stop-color="#5470de"/><stop offset="1.000" stop-color="#4961d2"/></linearGradient>
<linearGradient id="ga39" gradientUnits="userSpaceOnUse" x1="26.7" x2="174.9" y1="0" y2="0"><stop offset="0.000" stop-color="#b8122a"/><stop offset="0.040" stop-color="#c83836"/><stop offset="0.080" stop-color="#d65244"/><stop offset="0.120" stop-color="#e16751"/><stop offset="0.160" stop-color="#ea7b60"/><stop offset="0.200" stop-color="#f18d6f"/><stop offset="0.240" stop-color="#f59f80"/><stop offset="0.280" stop-color="#f7ad90"/><stop offset="0.320" stop-color="#f7ba9f"/><stop offset="0.360" stop-color="#f4c6af"/><stop offset="0.400" stop-color="#efcfbf"/><stop offset="0.440" stop-color="#e8d6cc"/><stop offset="0.480" stop-color="#dedcdb"/><stop offset="0.520" stop-color="#d4dbe6"/><stop offset="0.560" stop-color="#c9d7f0"/><stop offset="0.600" stop-color="#bed2f6"/><stop offset="0.640" stop-color="#b2ccfb"/><stop offset="0.680" stop-color="#a6c4fe"/><stop offset="0.720" stop-color="#9bbcff"/><stop offset="0.760" stop-color="#8fb1fe"/><stop offset="0.800" stop-color="#82a6fb"/><stop offset="0.840" stop-color="#7699f6"/><stop offset="0.880" stop-color="#6a8bef"/><stop offset="0.920" stop-color="#5e7de7"/><stop offset="0.960" stop-color="#5470de"/><stop offset="1.000" stop-color="#4961d2"/></linearGradient>
<linearGradient id="ga40" gradientUnits="userSpaceOnUse" x1="26.7" x2="174.9" y1="0" y2="0"><stop offset="0.000" stop-color="#b8122a"/><stop offset="0.040" stop-color="#c83836"/><stop offset="0.080" stop-color="#d65244"/><stop offset="0.120" stop-color="#e26952"/><stop offset="0.160" stop-color="#ea7b60"/><stop offset="0.200" stop-color="#f18d6f"/><stop offset="0.240" stop-color="#f59f80"/><stop offset="0.280" stop-color="#f7ad90"/><stop offset="0.320" stop-color="#f7ba9f"/><stop offset="0.360" stop-color="#f4c6af"/><stop offset="0.400" stop-color="#efcfbf"/><stop offset="0.440" stop-color="#e7d7ce"/><stop offset="0.480" stop-color="#dddcdc"/><stop offset="0.520" stop-color="#d4dbe6"/><stop offset="0.560" stop-color="#c9d7f0"/><stop offset="0.600" stop-color="#bed2f6"/><stop offset="0.640" stop-color="#b2ccfb"/><stop offset="0.680" stop-color="#a6c4fe"/><stop offset="0.720" stop-color="#9abbff"/><stop offset="0.760" stop-color="#8db0fe"/><stop offset="0.800" stop-color="#81a4fb"/><stop offset="0.840" stop-color="#7699f6"/><stop offset="0.880" stop-color="#6a8bef"/><stop offset="0.920" stop-color="#5e7de7"/><stop offset="0.960" stop-color="#536edd"/><stop offset="1.000" stop-color="#4961d2"/></linearGradient>
<linearGradient id="ga41" gradientUnits="userSpaceOnUse" x1="26.7" x2="174.9" y1="0" y2="0"><stop offset="0.000" stop-color="#b8122a"/><stop offset="0.040" stop-color="#c83836"/><stop offset="0.080" stop-color="#d65244"/><stop offset="0.120" stop-color="#e26952"/><stop offset="0.160" stop-color="#ea7b60"/><stop offset="0.200" stop-color="#f18f71"/><stop offset="0.240" stop-color="#f59f80"/><stop offset="0.280" stop-color="#f7ad90"/><stop offset="0.320" stop-color="#f7ba9f"/><stop offset="0.360" stop-color="#f4c6af"/><stop offset="0.400" stop-color="#efcfbf"/><stop offset="0.440" stop-color="#e7d7ce"/><stop offset="0.480" stop-color="#dddcdc"/><stop offset="0.520" stop-color="#d3dbe7"/><stop offset="0.560" stop-color="#c9d7f0"/><stop offset="0.600" stop-color="#bed2f6"/><stop offset="0.640" stop-color="#b2ccfb"/><stop offset="0.680" stop-color="#a6c4fe"/><stop offset="0.720" stop-color="#9abbff"/><stop offset="0.760" stop-color="#8db0fe"/><stop offset="0.800" stop-color="#81a4fb"/><stop offset="0.840" stop-color="#7597f6"/><stop offset="0.880" stop-color="#688aef"/><stop offset="0.920" stop-color="#5e7de7"/><stop offset="0.960" stop-color="#536edd"/><stop offset="1.000" stop-color="#4961d2"/></linearGradient>
<linearGradient id="ga42" gradientUnits="userSpaceOnUse" x1="26.7" x2="174.9" y1="0" y2="0"><stop offset="0.000" stop-color="#ba162b"/><stop offset="0.040" stop-color="#c83836"/><stop offset="0.080" stop-color="#d65244"/><stop offset="0.120" stop-color="#e26952"/><stop offset="0.160" stop-color="#eb7d62"/><stop offset="0.200" stop-color="#f18f71"/><stop offset="0.240" stop-color="#f5a081"/><stop offset="0.280" stop-color="#f7af91"/><stop offset="0.320" stop-color="#f7bca1"/><stop offset="0.360" stop-color="#f3c7b1"/><stop offset="0.400" stop-color="#eed0c0"/><stop offset="0.440" stop-color="#e7d7ce"/><stop offset="0.480" stop-color="#dddcdc"/><stop offset="0.520" stop-color="#d3dbe7"/><stop offset="0.560" stop-color="#c9d7f0"/><stop offset="0.600" stop-color="#bed2f6"/><stop offset="0.640" stop-color="#b2ccfb"/><stop offset="0.680" stop-color="#a6c4fe"/><stop offset="0.720" stop-color="#9abbff"/><stop offset="0.760" stop-color="#8db0fe"/><stop offset="0.800" stop-color="#81a4fb"/><stop offset="0.840" stop-color="#7597f6"/><stop offset="0.880" stop-color="#688aef"/><stop offset="0.920" stop-color="#5d7ce6"/><stop offset="0.960" stop-color="#536edd"/><stop offset="1.000" stop-color="#485fd1"/></linearGradient>
<linearGradient id="ga43" gradientUnits="userSpaceOnUse" x1="26.7" x2="174.9" y1="0" y2="0"><stop offset="0.000" stop-color="#ba162b"/><stop offset="0.040" stop-color="#ca3b37"/><stop offset="0.080" stop-color="#d75445"/><stop offset="0.120" stop-color="#e26952"/><stop offset="0.160" stop-color="#eb7d62"/><stop offset="0.200" stop-color="#f18f71"/><stop offset="0.240" stop-color="#f5a081"/><stop offset="0.280" stop-color="#f7af91"/><stop offset="0.320" stop-color="#f7bca1"/><stop offset="0.360" stop-color="#f3c7b1"/><stop offset="0.400" stop-color="#eed0c0"/><stop offset="0.440" stop-color="#e6d7cf"/><stop offset="0.480" stop-color="#dddcdc"/><stop offset="0.520" stop-color="#d3dbe7"/><stop offset="0.560" stop-color="#c7d7f0"/><stop offset="0.600" stop-color="#bcd2f7"/><stop offset="0.640" stop-color="#b1cbfc"/><stop offset="0.680" stop-color="#a5c3fe"/><stop offset="0.720" stop-color="#98b9ff"/><stop offset="0.760" stop-color="#8caffe"/><stop offset="0.800" stop-color="#81a4fb"/><stop offset="0.840" stop-color="#7597f6"/><stop offset="0.880" stop-color="#688aef"/><stop offset="0.920" stop-color="#5d7ce6"/><stop offset="0.960" stop-color="#536edd"/><stop offset="1.000" stop-color="#485fd1"/></linearGradient>
<linearGradient id="ga44" gradientUnits="userSpaceOnUse" x1="26.7" x2="174.9" y1="0" y2="0"><stop offset="0.000" stop-color="#ba162b"/><stop offset="0.040" stop-color="#ca3b37"/><stop offset="0.080" stop-color="#d75445"/><stop offset="0.120" stop-color="#e36b54"/><stop offset="0.160" stop-color="#eb7d62"/><stop offset="0.200" stop-color="#f29072"/><stop offset="0.240" stop-color="#f5a081"/><stop offset="0.280" stop-color="#f7af91"/><stop offset="0.320" stop-color="#f7bca1"/><stop offset="0.360" stop-color="#f3c7b1"/><stop offset="0.400" stop-color="#eed0c0"/><stop offset="0.440" stop-color="#e6d7cf"/><stop offset="0.480" stop-color="#dcdddd"/><stop offset="0.520" stop-color="#d3dbe7"/><stop offset="0.560" stop-color="#c7d7f0"/><stop offset="0.600" stop-color="#bcd2f7"/><stop offset="0.640" stop-color="#b1cbfc"/><stop offset="0.680" stop-color="#a5c3fe"/><stop offset="0.720" stop-color="#98b9ff"/><stop offset="0.760" stop-color="#8caffe"/><stop offset="0.800" stop-color="#80a3fa"/><stop offset="0.840" stop-color="#7396f5"/><stop offset="0.880" stop-color="#688aef"/><stop offset="0.920" stop-color="#5d7ce6"/><stop offset="0.960" stop-color="#516ddb"/><stop offset="1.000" stop-color="#485fd1"/></linearGradient>
<linearGradient id="ga45" gradientUnits="userSpaceOnUse" x1="26.7" x2="174.9" y1="0" y2="0"><stop offset="0.000" stop-color="#ba162b"/><stop offset="0.040" stop-color="#ca3b37"/><stop offset="0.080" stop-color="#d75445"/><stop offset="0.120" stop-color="#e36b54"/><stop offset="0.160" stop-color="#eb7d62"/><stop offset="0.200" stop-color="#f29072"/><stop offset="0.240" stop-color="#f5a081"/><stop offset="0.280" stop-color="#f7b093"/><stop offset="0.320" stop-color="#f6bda2"/><stop offset="0.360" stop-color="#f3c8b2"/><stop offset="0.400" stop-color="#edd1c2"/><stop offset="0.440" stop-color="#e6d7cf"/><stop offset="0.480" stop-color="#dcdddd"/><stop offset="0.520" stop-color="#d2dbe8"/><stop offset="0.560" stop-color="#c7d7f0"/><stop offset="0.600" stop-color="#bcd2f7"/><stop offset="0.640" stop-color="#b1cbfc"/><stop offset="0.680" stop-color="#a5c3fe"/><stop offset="0.720" stop-color="#98b9ff"/><stop offset="0.760" stop-color="#8caffe"/><stop offset="0.800" stop-color="#80a3fa"/><stop offset="0.840" stop-color="#7396f5"/><stop offset="0.880" stop-color="#6788ee"/><stop offset="0.920" stop-color="#5d7ce6"/><stop offset="0.960" stop-color="#516ddb"/><stop offset="1.000" stop-color="#465ecf"/></linearGradient>
<linearGradient id="ga46" gradientUnits="userSpaceOnUse" x1="26.7" x2="174.9" y1="0" y2="0"><stop offset="0.000" stop-color="#bb1b2c"/><stop offset="0.040" stop-color="#ca3b37"/><stop offset="0.080" stop-color="#d75445"/><stop offset="0.120" stop-color="#e36b54"/><stop offset="0.160" stop-color="#ec7f63"/><stop offset="0.200" stop-color="#f29072"/><stop offset="0.240" stop-color="#f6a283"/><stop offset="0.280" stop-color="#f7b093"/><stop offset="0.320" stop-color="#f6bda2"/><stop offset="0.360" stop-color="#f3c8b2"/><stop offset="0.400" stop-color="#edd1c2"/><stop offset="0.440" stop-color="#e5d8d1"/><stop offset="0.480" stop-color="#dcdddd"/><stop offset="0.520" stop-color="#d2dbe8"/><stop offset="0.560" stop-color="#c7d7f0"/><stop offset="0.600" stop-color="#bcd2f7"/><stop offset="0.640" stop-color="#b1cbfc"/><stop offset="0.680" stop-color="#a5c3fe"/><stop offset="0.720" stop-color="#97b8ff"/><stop offset="0.760" stop-color="#8caffe"/><stop offset="0.800" stop-color="#80a3fa"/><stop offset="0.840" stop-color="#7396f5"/><stop offset="0.880" stop-color="#6788ee"/><stop offset="0.920" stop-color="#5b7ae5"/><stop offset="0.960" stop-color="#516ddb"/><stop offset="1.000" stop-color="#465ecf"/></linearGradient>
<linearGradient id="ga47" gradientUnits="userSpaceOnUse" x1="26.7" x2="174.9" y1="0" y2="0"><stop offset="0.000" stop-color="#bb1b2c"/><stop offset="0.040" stop-color="#cb3e38"/><stop offset="0.080" stop-color="#d85646"/><stop offset="0.120" stop-color="#e36b54"/><stop offset="0.160" stop-color="#ec7f63"/><stop offset="0.200" stop-color="#f29072"/><stop offset="0.240" stop-color="#f6a283"/><stop offset="0.280" stop-color="#f7b093"/><stop offset="0.320" stop-color="#f6bda2"/><stop offset="0.360" stop-color="#f3c8b2"/><stop offset="0.400" stop-color="#edd1c2"/><stop offset="0.440" stop-color="#e5d8d1"/><stop offset="0.480" stop-color="#dbdcde"/><stop offset="0.520" stop-color="#d2dbe8"/><stop offset="0.560" stop-color="#c6d6f1"/><stop offset="0.600" stop-color="#bbd1f8"/><stop offset="0.640" stop-color="#afcafc"/><stop offset="0.680" stop-color="#a3c2fe"/><stop offset="0.720" stop-color="#97b8ff"/><stop offset="0.760" stop-color="#8badfd"/><stop offset="0.800" stop-color="#7ea1fa"/><stop offset="0.840" stop-color="#7396f5"/><stop offset="0.880" stop-color="#6788ee"/><stop offset="0.920" stop-color="#5b7ae5"/><stop offset="0.960" stop-color="#506bda"/><stop offset="1.000" stop-color="#465ecf"/></linearGradient>
<linearGradient id="ga48" gradientUnits="userSpaceOnUse" x1="26.7" x2="174.9" y1="0" y2="0"><stop offset="0.000" stop-color="#bb1b2c"/><stop offset="0.040" stop-color="#cb3e38"/><stop offset="0.080" stop-color="#d85646"/><stop offset="0.120" stop-color="#e36c55"/><stop offset="0.160" stop-color="#ec7f63"/><stop offset="0.200" stop-color="#f29274"/><stop offset="0.240" stop-color="#f6a283"/><stop offset="0.280" stop-color="#f7b093"/><stop offset="0.320" stop-color="#f6bea4"/><stop offset="0.360" stop-color="#f2c9b4"/><stop offset="0.400" stop-color="#edd2c3"/><stop offset="0.440" stop-color="#e5d8d1"/><stop offset="0.480" stop-color="#dbdcde"/><stop offset="0.520" stop-color="#d2dbe8"/><stop offset="0.560" stop-color="#c6d6f1"/><stop offset="0.600" stop-color="#bbd1f8"/><stop offset="0.640" stop-color="#afcafc"/><stop offset="0.680" stop-color="#a3c2fe"/><stop offset="0.720" stop-color="#97b8ff"/><stop offset="0.760" stop-color="#8badfd"/><stop offset="0.800" stop-color="#7ea1fa"/><stop offset="0.840" stop-color="#7295f4"/><stop offset="0.880" stop-color="#6687ed"/><stop offset="0.920" stop-color="#5b7ae5"/><stop offset="0.960" stop-color="#506bda"/><stop offset="1.000" stop-color="#455cce"/></linearGradient>
<linearGradient id="ga49" gradientUnits="userSpaceOnUse" x1="26.7" x2="174.9" y1="0" y2="0"><stop offset="0.000" stop-color="#bb1b2c"/><stop offset="0.040" stop-color="#cb3e38"/><stop offset="0.080" stop-color="#d85646"/><stop offset="0.120" stop-color="#e36c55"/><stop offset="0.160" stop-color="#ec7f63"/><stop offset="0.200" stop-color="#f29274"/><stop offset="0.240" stop-color="#f6a283"/><stop offset="0.280" stop-color="#f7b194"/><stop offset="0.320" stop-color="#f6bea4"/><stop offset="0.360" stop-color="#f2c9b4"/><stop offset="0.400" stop-color="#edd2c3"/><stop offset="0.440" stop-color="#e4d9d2"/><stop offset="0.480" stop-color="#dbdcde"/><stop offset="0.520" stop-color="#d1dae9"/><stop offset="0.560" stop-color="#c6d6f1"/><stop offset="0.600" stop-color="#bbd1f8"/><stop offset="0.640" stop-color="#afcafc"/><stop offset="0.680" stop-color="#a3c2fe"/><stop offset="0.720" stop-color="#97b8ff"/><stop offset="0.760" stop-color="#8badfd"/><stop offset="0.800" stop-color="#7ea1fa"/><stop offset="0.840" stop-color="#7295f4"/><stop offset="0.880" stop-color="#6687ed"/><stop offset="0.920" stop-color="#5a78e4"/><stop offset="0.960" stop-color="#506bda"/><stop offset="1.000" stop-color="#455cce"/></linearGradient>
<linearGradient id="ga50" gradientUnits="userSpaceOnUse" x1="26.7" x2="174.9" y1="0" y2="0"><stop offset="0.000" stop-color="#bd1f2d"/><stop offset="0.040" stop-color="#cb3e38"/><stop offset="0.080" stop-color="#d85646"/><stop offset="0.120" stop-color="#e36c55"/><stop offset="0.160" stop-color="#ec8165"/><stop offset="0.200" stop-color="#f29274"/><stop offset="0.240" stop-color="#f6a385"/><stop offset="0.280" stop-color="#f7b194"/><stop offset="0.320" stop-color="#f6bea4"/><stop offset="0.360" stop-color="#f2c9b4"/><stop offset="0.400" stop-color="#edd2c3"/><stop offset="0.440" stop-color="#e4d9d2"/><stop offset="0.480" stop-color="#dbdcde"/><stop offset="0.520" stop-color="#d1dae9"/><stop offset="0.560" stop-color="#c6d6f1"/><stop offset="0.600" stop-color="#bbd1f8"/><stop offset="0.640" stop-color="#afcafc"/><stop offset="0.680" stop-color="#a2c1ff"/><stop offset="0.720" stop-color="#96b7ff"/><stop offset="0.760" stop-color="#89acfd"/><stop offset="0.800" stop-color="#7ea1fa"/><stop offset="0.840" stop-color="#7295f4"/><stop offset="0.880" stop-color="#6687ed"/><stop offset="0.920" stop-color="#5a78e4"/><stop offset="0.960" stop-color="#4f69d9"/><stop offset="1.000" stop-color="#455cce"/></linearGradient>
<linearGradient id="ga51" gradientUnits="userSpaceOnUse" x1="26.7" x2="174.9" y1="0" y2="0"><stop offset="0.000" stop-color="#bd1f2d"/><stop offset="0.040" stop-color="#cc403a"/><stop offset="0.080" stop-color="#d95847"/><stop offset="0.120" stop-color="#e36c55"/><stop offset="0.160" stop-color="#ec8165"/><stop offset="0.200" stop-color="#f29274"/><stop offset="0.240" stop-color="#f6a385"/><stop offset="0.280" stop-color="#f7b194"/><stop offset="0.320" stop-color="#f6bea4"/><stop offset="0.360" stop-color="#f2cab5"/><stop offset="0.400" stop-color="#ecd3c5"/><stop offset="0.440" stop-color="#e4d9d2"/><stop offset="0.480" stop-color="#dadce0"/><stop offset="0.520" stop-color="#d1dae9"/><stop offset="0.560" stop-color="#c6d6f1"/><stop offset="0.600" stop-color="#bad0f8"/><stop offset="0.640" stop-color="#aec9fc"/><stop offset="0.680" stop-color="#a2c1ff"/><stop offset="0.720" stop-color="#96b7ff"/><stop offset="0.760" stop-color="#89acfd"/><stop offset="0.800" stop-color="#7da0f9"/><stop offset="0.840" stop-color="#7093f3"/><stop offset="0.880" stop-color="#6485ec"/><stop offset="0.920" stop-color="#5a78e4"/><stop offset="0.960" stop-color="#4f69d9"/><stop offset="1.000" stop-color="#455cce"/></linearGradient>
<linearGradient id="ga52" gradientUnits="userSpaceOnUse" x1="26.7" x2="174.9" y1="0" y2="0"><stop offset="0.000" stop-color="#bd1f2d"/><stop offset="0.040" stop-color="#cc403a"/><stop offset="0.080" stop-color="#d95847"/><stop offset="0.120" stop-color="#e46e56"/><stop offset="0.160" stop-color="#ec8165"/><stop offset="0.200" stop-color="#f39475"/><stop offset="0.240" stop-color="#f6a385"/><stop offset="0.280" stop-color="#f7b396"/><stop offset="0.320" stop-color="#f6bfa6"/><stop offset="0.360" stop-color="#f2cab5"/><stop offset="0.400" stop-color="#ecd3c5"/><stop offset="0.440" stop-color="#e4d9d2"/><stop offset="0.480" stop-color="#dadce0"/><stop offset="0.520" stop-color="#d1dae9"/><stop offset="0.560" stop-color="#c5d6f2"/><stop offset="0.600" stop-color="#bad0f8"/><stop offset="0.640" stop-color="#aec9fc"/><stop offset="0.680" stop-color="#a2c1ff"/><stop offset="0.720" stop-color="#96b7ff"/><stop offset="0.760" stop-color="#89acfd"/><stop offset="0.800" stop-color="#7da0f9"/><stop offset="0.840" stop-color="#7093f3"/><stop offset="0.880" stop-color="#6485ec"/><stop offset="0.920" stop-color="#5a78e4"/><stop offset="0.960" stop-color="#4f69d9"/><stop offset="1.000" stop-color="#445acc"/></linearGradient>
<linearGradient id="ga53" gradientUnits="userSpaceOnUse" x1="26.7" x2="174.9" y1="0" y2="0"><stop offset="0.000" stop-color="#bd1f2d"/><stop offset="0.040" stop-color="#cc403a"/><stop offset="0.080" stop-color="#d95847"/><stop offset="0.120" stop-color="#e46e56"/><stop offset="0.160" stop-color="#ec8165"/><stop offset="0.200" stop-color="#f39475"/><stop offset="0.240" stop-color="#f6a586"/><stop offset="0.280" stop-color="#f7b396"/><stop offset="0.320" stop-color="#f6bfa6"/><stop offset="0.360" stop-color="#f2cab5"/><stop offset="0.400" stop-color="#ecd3c5"/><stop offset="0.440" stop-color="#e3d9d3"/><stop offset="0.480" stop-color="#dadce0"/><stop offset="0.520" stop-color="#cfdaea"/><stop offset="0.560" stop-color="#c5d6f2"/><stop offset="0.600" stop-color="#bad0f8"/><stop offset="0.640" stop-color="#aec9fc"/><stop offset="0.680" stop-color="#a2c1ff"/><stop offset="0.720" stop-color="#94b6ff"/><stop offset="0.760" stop-color="#89acfd"/><stop offset="0.800" stop-color="#7da0f9"/><stop offset="0.840" stop-color="#7093f3"/><stop offset="0.880" stop-color="#6485ec"/><stop offset="0.920" stop-color="#5977e3"/><stop offset="0.960" stop-color="#4f69d9"/><stop offset="1.000" stop-color="#445acc"/></linearGradient>
<linearGradient id="ga54" gradientUnits="userSpaceOnUse" x1="26.7" x2="174.9" y1="0" y2="0"><stop offset="0.000" stop-color="#be242e"/><stop offset="0.040" stop-color="#cc403a"/><stop offset="0.080" stop-color="#d95847"/><stop offset="0.120" stop-color="#e46e56"/><stop offset="0.160" stop-color="#ed8366"/><stop offset="0.200" stop-color="#f39475"/><stop offset="0.240" stop-color="#f6a586"/><stop offset="0.280" stop-color="#f7b396"/><stop offset="0.320" stop-color="#f6bfa6"/><stop offset="0.360" stop-color="#f2cab5"/><stop offset="0.400" stop-color="#ecd3c5"/><stop offset="0.440" stop-color="#e3d9d3"/><stop offset="0.480" stop-color="#dadce0"/><stop offset="0.520" stop-color="#cfdaea"/><stop offset="0.560" stop-color="#c5d6f2"/><stop offset="0.600" stop-color="#bad0f8"/><stop offset="0.640" stop-color="#adc9fd"/><stop offset="0.680" stop-color="#a1c0ff"/><stop offset="0.720" stop-color="#94b6ff"/><stop offset="0.760" stop-color="#88abfd"/><stop offset="0.800" stop-color="#7b9ff9"/><stop offset="0.840" stop-color="#6f92f3"/><stop offset="0.880" stop-color="#6485ec"/><stop offset="0.920" stop-color="#5977e3"/><stop offset="0.960" stop-color="#4e68d8"/><stop offset="1.000" stop-color="#445acc"/></linearGradient>
<linearGradient id="ga55" gradientUnits="userSpaceOnUse" x1="26.7" x2="174.9" y1="0" y2="0"><stop offset="0.000" stop-color="#be242e"/><stop offset="0.040" stop-color="#cd423b"/><stop offset="0.080" stop-color="#da5a49"/><stop offset="0.120" stop-color="#e46e56"/><stop offset="0.160" stop-color="#ed8366"/><stop offset="0.200" stop-color="#f39577"/><stop offset="0.240" stop-color="#f6a586"/><stop offset="0.280" stop-color="#f7b396"/><stop offset="0.320" stop-color="#f5c0a7"/><stop offset="0.360" stop-color="#f2cbb7"/><stop offset="0.400" stop-color="#ebd3c6"/><stop offset="0.440" stop-color="#e3d9d3"/><stop offset="0.480" stop-color="#d9dce1"/><stop offset="0.520" stop-color="#cfdaea"/><stop offset="0.560" stop-color="#c5d6f2"/><stop offset="0.600" stop-color="#b9d0f9"/><stop offset="0.640" stop-color="#adc9fd"/><stop offset="0.680" stop-color="#a1c0ff"/><stop offset="0.720" stop-color="#94b6ff"/><stop offset="0.760" stop-color="#88abfd"/><stop offset="0.800" stop-color="#7b9ff9"/><stop offset="0.840" stop-color="#6f92f3"/><stop offset="0.880" stop-color="#6384eb"/><stop offset="0.920" stop-color="#5977e3"/><stop offset="0.960" stop-color="#4e68d8"/><stop offset="1.000" stop-color="#4358cb"/></linearGradient>
<linearGradient id="ga56" gradientUnits="userSpaceOnUse" x1="26.7" x2="174.9" y1="0" y2="0"><stop offset="0.000" stop-color="#be242e"/><stop offset="0.040" stop-color="#cd423b"/><stop offset="0.080" stop-color="#da5a49"/><stop offset="0.120" stop-color="#e57058"/><stop offset="0.160" stop-color="#ed8366"/><stop offset="0.200" stop-color="#f39577"/><stop offset="0.240" stop-color="#f6a586"/><stop offset="0.280" stop-color="#f7b497"/><stop offset="0.320" stop-color="#f5c0a7"/><stop offset="0.360" stop-color="#f2cbb7"/><stop offset="0.400" stop-color="#ebd3c6"/><stop offset="0.440" stop-color="#e3d9d3"/><stop offset="0.480" stop-color="#d9dce1"/><stop offset="0.520" stop-color="#cfdaea"/><stop offset="0.560" stop-color="#c4d5f3"/><stop offset="0.600" stop-color="#b9d0f9"/><stop offset="0.640" stop-color="#adc9fd"/><stop offset="0.680" stop-color="#a1c0ff"/><stop offset="0.720" stop-color="#94b6ff"/><stop offset="0.760" stop-color="#88abfd"/><stop offset="0.800" stop-color="#7b9ff9"/><stop offset="0.840" stop-color="#6f92f3"/><stop offset="0.880" stop-color="#6384eb"/><stop offset="0.920" stop-color="#5875e1"/><stop offset="0.960" stop-color="#4e68d8"/><stop offset="1.000" stop-color="#4358cb"/></linearGradient>
<linearGradient id="ga57" gradientUnits="userSpaceOnUse" x1="26.7" x2="174.9" y1="0" y2="0"><stop offset="0.000" stop-color="#be242e"/><stop offset="0.040" stop-color="#cd423b"/><stop offset="0.080" stop-color="#da5a49"/><stop offset="0.120" stop-color="#e57058"/><stop offset="0.160" stop-color="#ee8468"/><stop offset="0.200" stop-color="#f39577"/><stop offset="0.240" stop-color="#f7a688"/><stop offset="0.280" stop-color="#f7b497"/><stop offset="0.320" stop-color="#f5c0a7"/><stop offset="0.360" stop-color="#f2cbb7"/><stop offset="0.400" stop-color="#ebd3c6"/><stop offset="0.440" stop-color="#e2dad5"/><stop offset="0.480" stop-color="#d9dce1"/><stop offset="0.520" stop-color="#cfdaea"/><stop offset="0.560" stop-color="#c4d5f3"/><stop offset="0.600" stop-color="#b9d0f9"/><stop offset="0.640" stop-color="#adc9fd"/><stop offset="0.680" stop-color="#9fbfff"/><stop offset="0.720" stop-color="#93b5fe"/><stop offset="0.760" stop-color="#86a9fc"/><stop offset="0.800" stop-color="#7a9df8"/><stop offset="0.840" stop-color="#6f92f3"/><stop offset="0.880" stop-color="#6384eb"/><stop offset="0.920" stop-color="#5875e1"/><stop offset="0.960" stop-color="#4c66d6"/><stop offset="1.000" stop-color="#4358cb"/></linearGradient>
<linearGradient id="ga58" gradientUnits="userSpaceOnUse" x1="26.7" x2="174.9" y1="0" y2="0"><stop offset="0.000" stop-color="#c0282f"/><stop offset="0.040" stop-color="#cf453c"/><stop offset="0.080" stop-color="#da5a49"/><stop offset="0.120" stop-color="#e57058"/><stop offset="0.160" stop-color="#ee8468"/><stop offset="0.200" stop-color="#f39577"/><stop offset="0.240" stop-color="#f7a688"/><stop offset="0.280" stop-color="#f7b497"/><stop offset="0.320" stop-color="#f5c0a7"/><stop offset="0.360" stop-color="#f1ccb8"/><stop offset="0.400" stop-color="#ead4c8"/><stop offset="0.440" stop-color="#e2dad5"/><stop offset="0.480" stop-color="#d9dce1"/><stop offset="0.520" stop-color="#cedaeb"/><stop offset="0.560" stop-color="#c4d5f3"/><stop offset="0.600" stop-color="#b9d0f9"/><stop offset="0.640" stop-color="#abc8fd"/><stop offset="0.680" stop-color="#9fbfff"/><stop offset="0.720" stop-color="#93b5fe"/><stop offset="0.760" stop-color="#86a9fc"/><stop offset="0.800" stop-color="#7a9df8"/><stop offset="0.840" stop-color="#6e90f2"/><stop offset="0.880" stop-color="#6282ea"/><stop offset="0.920" stop-color="#5875e1"/><stop offset="0.960" stop-color="#4c66d6"/><stop offset="1.000" stop-color="#4257c9"/></linearGradient>
<linearGradient id="ga59" gradientUnits="userSpaceOnUse" x1="26.7" x2="174.9" y1="0" y2="0"><stop offset="0.000" stop-color="#c0282f"/><stop offset="0.040" stop-color="#cf453c"/><stop offset="0.080" stop-color="#dc5d4a"/><stop offset="0.120" stop-color="#e67259"/><stop offset="0.160" stop-color="#ee8468"/><stop offset="0.200" stop-color="#f39778"/><stop offset="0.240" stop-color="#f7a688"/><stop offset="0.280" stop-color="#f7b599"/><stop offset="0.320" stop-color="#f5c1a9"/><stop offset="0.360" stop-color="#f1ccb8"/><stop offset="0.400" stop-color="#ead4c8"/><stop offset="0.440" stop-color="#e2dad5"/><stop offset="0.480" stop-color="#d8dce2"/><stop offset="0.520" stop-color="#cedaeb"/><stop offset="0.560" stop-color="#c4d5f3"/><stop offset="0.600" stop-color="#b7cff9"/><stop offset="0.640" stop-color="#abc8fd"/><stop offset="0.680" stop-color="#9fbfff"/><stop offset="0.720" stop-color="#93b5fe"/><stop offset="0.760" stop-color="#86a9fc"/><stop offset="0.800" stop-color="#7a9df8"/><stop offset="0.840" stop-color="#6e90f2"/><stop offset="0.880" stop-color="#6282ea"/><stop offset="0.920" stop-color="#5673e0"/><stop offset="0.960" stop-color="#4c66d6"/><stop offset="1.000" stop-color="#4257c9"/></linearGradient>
<linearGradient id="ga60" gradientUnits="userSpaceOnUse" x1="26.7" x2="174.9" y1="0" y2="0"><stop offset="0.000" stop-color="#c0282f"/><stop offset="0.040" stop-color="#cf453c"/><stop offset="0.080" stop-color="#dc5d4a"/><stop offset="0.120" stop-color="#e67259"/><stop offset="0.160" stop-color="#ee8669"/><stop offset="0.200" stop-color="#f39778"/><stop offset="0.240" stop-color="#f7a889"/><stop offset="0.280" stop-color="#f7b599"/><stop offset="0.320" stop-color="#f5c1a9"/><stop offset="0.360" stop-color="#f1ccb8"/><stop offset="0.400" stop-color="#ead4c8"/><stop offset="0.440" stop-color="#e1dad6"/><stop offset="0.480" stop-color="#d8dce2"/><stop offset="0.520" stop-color="#cedaeb"/><stop offset="0.560" stop-color="#c3d5f4"/><stop offset="0.600" stop-color="#b7cff9"/><stop offset="0.640" stop-color="#abc8fd"/><stop offset="0.680" stop-color="#9ebeff"/><stop offset="0.720" stop-color="#92b4fe"/><stop offset="0.760" stop-color="#85a8fc"/><stop offset="0.800" stop-color="#799cf8"/><stop offset="0.840" stop-color="#6e90f2"/><stop offset="0.880" stop-color="#6282ea"/><stop offset="0.920" stop-color="#5673e0"/><stop offset="0.960" stop-color="#4b64d5"/><stop offset="1.000" stop-color="#4257c9"/></linearGradient>
<linearGradient id="ga61" gradientUnits="userSpaceOnUse" x1="26.7" x2="174.9" y1="0" y2="0"><stop offset="0.000" stop-color="#c12b30"/><stop offset="0.040" stop-color="#d0473d"/><stop offset="0.080" stop-color="#dd5f4b"/><stop offset="0.120" stop-color="#e67259"/><stop offset="0.160" stop-color="#ee8669"/><stop offset="0.200" stop-color="#f39778"/><stop offset="0.240" stop-color="#f7a889"/><stop offset="0.280" stop-color="#f7b599"/><stop offset="0.320" stop-color="#f5c1a9"/><stop offset="0.360" stop-color="#f1cdba"/><stop offset="0.400" stop-color="#ead4c8"/><stop offset="0.440" stop-color="#e1dad6"/><stop offset="0.480" stop-color="#d8dce2"/><stop offset="0.520" stop-color="#cdd9ec"/><stop offset="0.560" stop-color="#c3d5f4"/><stop offset="0.600" stop-color="#b7cff9"/><stop offset="0.640" stop-color="#aac7fd"/><stop offset="0.680" stop-color="#9ebeff"/><stop offset="0.720" stop-color="#92b4fe"/><stop offset="0.760" stop-color="#85a8fc"/><stop offset="0.800" stop-color="#799cf8"/><stop offset="0.840" stop-color="#6c8ff1"/><stop offset="0.880" stop-color="#6180e9"/><stop offset="0.920" stop-color="#5673e0"/><stop offset="0.960" stop-color="#4b64d5"/><stop offset="1.000" stop-color="#4055c8"/></linearGradient>
<linearGradient id="ga62" gradientUnits="userSpaceOnUse" x1="26.7" x2="174.9" y1="0" y2="0"><stop offset="0.000" stop-color="#c12b30"/><stop offset="0.040" stop-color="#d0473d"/><stop offset="0.080" stop-color="#dd5f4b"/><stop offset="0.120" stop-color="#e7745b"/><stop offset="0.160" stop-color="#ee8669"/><stop offset="0.200" stop-color="#f4987a"/><stop offset="0.240" stop-color="#f7a889"/><stop offset="0.280" stop-color="#f7b79b"/><stop offset="0.320" stop-color="#f5c2aa"/><stop offset="0.360" stop-color="#f1cdba"/><stop offset="0.400" stop-color="#ead5c9"/><stop offset="0.440" stop-color="#e1dad6"/><stop offset="0.480" stop-color="#d7dce3"/><stop offset="0.520" stop-color="#cdd9ec"/><stop offset="0.560" stop-color="#c3d5f4"/><stop offset="0.600" stop-color="#b6cefa"/><stop offset="0.640" stop-color="#aac7fd"/><stop offset="0.680" stop-color="#9ebeff"/><stop offset="0.720" stop-color="#92b4fe"/><stop offset="0.760" stop-color="#85a8fc"/><stop offset="0.800" stop-color="#799cf8"/><stop offset="0.840" stop-color="#6c8ff1"/><stop offset="0.880" stop-color="#6180e9"/><stop offset="0.920" stop-color="#5572df"/><stop offset="0.960" stop-color="#4b64d5"/><stop offset="1.000" stop-color="#4055c8"/></linearGradient>
<linearGradient id="ga63" gradientUnits="userSpaceOnUse" x1="26.7" x2="174.9" y1="0" y2="0"><stop offset="0.000" stop-color="#c12b30"/><stop offset="0.040" stop-color="#d0473d"/><stop offset="0.080" stop-color="#dd5f4b"/><stop offset="0.120" stop-color="#e7745b"/><stop offset="0.160" stop-color="#ef886b"/><stop offset="0.200" stop-color="#f4987a"/><stop offset="0.240" stop-color="#f7a98b"/><stop offset="0.280" stop-color="#f7b79b"/><stop offset="0.320" stop-color="#f5c2aa"/><stop offset="0.360" stop-color="#f1cdba"/><stop offset="0.400" stop-color="#ead5c9"/><stop offset="0.440" stop-color="#e1dad6"/><stop offset="0.480" stop-color="#d7dce3"/><stop offset="0.520" stop-color="#cdd9ec"/><stop offset="0.560" stop-color="#c1d4f4"/><stop offset="0.600" stop-color="#b6cefa"/><stop offset="0.640" stop-color="#aac7fd"/><stop offset="0.680" stop-color="#9dbdff"/><stop offset="0.720" stop-color="#90b2fe"/><stop offset="0.760" stop-color="#84a7fc"/><stop offset="0.800" stop-color="#779af7"/><stop offset="0.840" stop-color="#6b8df0"/><stop offset="0.880" stop-color="#6180e9"/><stop offset="0.920" stop-color="#5572df"/><stop offset="0.960" stop-color="#4a63d3"/><stop offset="1.000" stop-color="#4055c8"/></linearGradient>
<linearGradient id="ga64" gradientUnits="userSpaceOnUse" x1="26.7" x2="174.9" y1="0" y2="0"><stop offset="0.000" stop-color="#c32e31"/><stop offset="0.040" stop-color="#d1493f"/><stop offset="0.080" stop-color="#de614d"/><stop offset="0.120" stop-color="#e7745b"/><stop offset="0.160" stop-color="#ef886b"/><stop offset="0.200" stop-color="#f4987a"/><stop offset="0.240" stop-color="#f7a98b"/><stop offset="0.280" stop-color="#f7b79b"/><stop offset="0.320" stop-color="#f5c2aa"/><stop offset="0.360" stop-color="#f1cdba"/><stop offset="0.400" stop-color="#ead5c9"/><stop offset="0.440" stop-color="#e0dbd8"/><stop offset="0.480" stop-color="#d7dce3"/><stop offset="0.520" stop-color="#ccd9ed"/><stop offset="0.560" stop-color="#c1d4f4"/><stop offset="0.600" stop-color="#b6cefa"/><stop offset="0.640" stop-color="#a9c6fd"/><stop offset="0.680" stop-color="#9dbdff"/><stop offset="0.720" stop-color="#90b2fe"/><stop offset="0.760" stop-color="#84a7fc"/><stop offset="0.800" stop-color="#779af7"/><stop offset="0.840" stop-color="#6b8df0"/><stop offset="0.880" stop-color="#5f7fe8"/><stop offset="0.920" stop-color="#5572df"/><stop offset="0.960" stop-color="#4a63d3"/><stop offset="1.000" stop-color="#3f53c6"/></linearGradient>
<linearGradient id="ga65" gradientUnits="userSpaceOnUse" x1="26.7" x2="174.9" y1="0" y2="0"><stop offset="0.000" stop-color="#c32e31"/><stop offset="0.040" stop-color="#d1493f"/><stop offset="0.080" stop-color="#de614d"/><stop offset="0.120" stop-color="#e8765c"/><stop offset="0.160" stop-color="#ef886b"/><stop offset="0.200" stop-color="#f49a7b"/><stop offset="0.240" stop-color="#f7a98b"/><stop offset="0.280" stop-color="#f7b79b"/><stop offset="0.320" stop-color="#f5c4ac"/><stop offset="0.360" stop-color="#f0cdbb"/><stop offset="0.400" stop-color="#e9d5cb"/><stop offset="0.440" stop-color="#e0dbd8"/><stop offset="0.480" stop-color="#d6dce4"/><stop offset="0.520" stop-color="#ccd9ed"/><stop offset="0.560" stop-color="#c1d4f4"/><stop offset="0.600" stop-color="#b5cdfa"/><stop offset="0.640" stop-color="#a9c6fd"/><stop offset="0.680" stop-color="#9dbdff"/><stop offset="0.720" stop-color="#90b2fe"/><stop offset="0.760" stop-color="#84a7fc"/><stop offset="0.800" stop-color="#779af7"/><stop offset="0.840" stop-color="#6b8df0"/><stop offset="0.880" stop-color="#5f7fe8"/><stop offset="0.920" stop-color="#5470de"/><stop offset="0.960" stop-color="#4a63d3"/><stop offset="1.000" stop-color="#3f53c6"/></linearGradient>
<linearGradient id="ga66" gradientUnits="userSpaceOnUse" x1="26.7" x2="174.9" y1="0" y2="0"><stop offset="0.000" stop-color="#c32e31"/><stop offset="0.040" stop-color="#d1493f"/><stop offset="0.080" stop-color="#de614d"/><stop offset="0.120" stop-color="#e8765c"/><stop offset="0.160" stop-color="#f08a6c"/><stop offset="0.200" stop-color="#f49a7b"/><stop offset="0.240" stop-color="#f7aa8c"/><stop offset="0.280" stop-color="#f7b89c"/><stop offset="0.320" stop-color="#f5c4ac"/><stop offset="0.360" stop-color="#f0cdbb"/><stop offset="0.400" stop-color="#e9d5cb"/><stop offset="0.440" stop-color="#e0dbd8"/><stop offset="0.480" stop-color="#d6dce4"/><stop offset="0.520" stop-color="#ccd9ed"/><stop offset="0.560" stop-color="#c0d4f5"/><stop offset="0.600" stop-color="#b5cdfa"/><stop offset="0.640" stop-color="#a9c6fd"/><stop offset="0.680" stop-color="#9dbdff"/><stop offset="0.720" stop-color="#8fb1fe"/><stop offset="0.760" stop-color="#82a6fb"/><stop offset="0.800" stop-color="#7699f6"/><stop offset="0.840" stop-color="#6a8bef"/><stop offset="0.880" stop-color="#5f7fe8"/><stop offset="0.920" stop-color="#5470de"/><stop offset="0.960" stop-color="#4961d2"/><stop offset="1.000" stop-color="#3e51c5"/></linearGradient>
<linearGradient id="ga67" gradientUnits="userSpaceOnUse" x1="26.7" x2="174.9" y1="0" y2="0"><stop offset="0.000" stop-color="#c43032"/><stop offset="0.040" stop-color="#d24b40"/><stop offset="0.080" stop-color="#df634e"/><stop offset="0.120" stop-color="#e8765c"/><stop offset="0.160" stop-color="#f08a6c"/><stop offset="0.200" stop-color="#f49a7b"/><stop offset="0.240" stop-color="#f7aa8c"/><stop offset="0.280" stop-color="#f7b89c"/><stop offset="0.320" stop-color="#f5c4ac"/><stop offset="0.360" stop-color="#f0cdbb"/><stop offset="0.400" stop-color="#e9d5cb"/><stop offset="0.440" stop-color="#dfdbd9"/><stop offset="0.480" stop-color="#d6dce4"/><stop offset="0.520" stop-color="#cbd8ee"/><stop offset="0.560" stop-color="#c0d4f5"/><stop offset="0.600" stop-color="#b5cdfa"/><stop offset="0.640" stop-color="#a7c5fe"/><stop offset="0.680" stop-color="#9bbcff"/><stop offset="0.720" stop-color="#8fb1fe"/><stop offset="0.760" stop-color="#82a6fb"/><stop offset="0.800" stop-color="#7699f6"/><stop offset="0.840" stop-color="#6a8bef"/><stop offset="0.880" stop-color="#5e7de7"/><stop offset="0.920" stop-color="#5470de"/><stop offset="0.960" stop-color="#4961d2"/><stop offset="1.000" stop-color="#3e51c5"/></linearGradient>
<linearGradient id="ga68" gradientUnits="userSpaceOnUse" x1="26.7" x2="174.9" y1="0" y2="0"><stop offset="0.000" stop-color="#c43032"/><stop offset="0.040" stop-color="#d24b40"/><stop offset="0.080" stop-color="#df634e"/><stop offset="0.120" stop-color="#e9785d"/><stop offset="0.160" stop-color="#f08a6c"/><stop offset="0.200" stop-color="#f59c7d"/><stop offset="0.240" stop-color="#f7aa8c"/><stop offset="0.280" stop-color="#f7b89c"/><stop offset="0.320" stop-color="#f4c5ad"/><stop offset="0.360" stop-color="#efcebd"/><stop offset="0.400" stop-color="#e9d5cb"/><stop offset="0.440" stop-color="#dfdbd9"/><stop offset="0.480" stop-color="#d5dbe5"/><stop offset="0.520" stop-color="#cbd8ee"/><stop offset="0.560" stop-color="#c0d4f5"/><stop offset="0.600" stop-color="#b3cdfb"/><stop offset="0.640" stop-color="#a7c5fe"/><stop offset="0.680" stop-color="#9bbcff"/><stop offset="0.720" stop-color="#8fb1fe"/><stop offset="0.760" stop-color="#82a6fb"/><stop offset="0.800" stop-color="#7699f6"/><stop offset="0.840" stop-color="#6a8bef"/><stop offset="0.880" stop-color="#5e7de7"/><stop offset="0.920" stop-color="#536edd"/><stop offset="0.960" stop-color="#485fd1"/><stop offset="1.000" stop-color="#3e51c5"/></linearGradient>
<linearGradient id="ga69" gradientUnits="userSpaceOnUse" x1="26.7" x2="174.9" y1="0" y2="0"><stop offset="0.000" stop-color="#c53334"/><stop offset="0.040" stop-color="#d24b40"/><stop offset="0.080" stop-color="#df634e"/><stop offset="0.120" stop-color="#e9785d"/><stop offset="0.160" stop-color="#f08b6e"/><stop offset="0.200" stop-color="#f59c7d"/><stop offset="0.240" stop-color="#f7ac8e"/><stop offset="0.280" stop-color="#f7b99e"/><stop offset="0.320" stop-color="#f4c5ad"/><stop offset="0.360" stop-color="#efcebd"/><stop offset="0.400" stop-color="#e8d6cc"/><stop offset="0.440" stop-color="#dfdbd9"/><stop offset="0.480" stop-color="#d5dbe5"/><stop offset="0.520" stop-color="#cbd8ee"/><stop offset="0.560" stop-color="#bfd3f6"/><stop offset="0.600" stop-color="#b3cdfb"/><stop offset="0.640" stop-color="#a7c5fe"/><stop offset="0.680" stop-color="#9bbcff"/><stop offset="0.720" stop-color="#8fb1fe"/><stop offset="0.760" stop-color="#81a4fb"/><stop offset="0.800" stop-color="#7597f6"/><stop offset="0.840" stop-color="#688aef"/><stop offset="0.880" stop-color="#5e7de7"/><stop offset="0.920" stop-color="#536edd"/><stop offset="0.960" stop-color="#485fd1"/><stop offset="1.000" stop-color="#3d50c3"/></linearGradient>
<linearGradient id="ga70" gradientUnits="userSpaceOnUse" x1="26.7" x2="174.9" y1="0" y2="0"><stop offset="0.000" stop-color="#c53334"/><stop offset="0.040" stop-color="#d44e41"/><stop offset="0.080" stop-color="#e0654f"/><stop offset="0.120" stop-color="#e9785d"/><stop offset="0.160" stop-color="#f08b6e"/><stop offset="0.200" stop-color="#f59c7d"/><stop offset="0.240" stop-color="#f7ac8e"/><stop offset="0.280" stop-color="#f7b99e"/><stop offset="0.320" stop-color="#f4c5ad"/><stop offset="0.360" stop-color="#efcebd"/><stop offset="0.400" stop-color="#e8d6cc"/><stop offset="0.440" stop-color="#dedcdb"/><stop offset="0.480" stop-color="#d5dbe5"/><stop offset="0.520" stop-color="#cad8ef"/><stop offset="0.560" stop-color="#bfd3f6"/><stop offset="0.600" stop-color="#b3cdfb"/><stop offset="0.640" stop-color="#a6c4fe"/><stop offset="0.680" stop-color="#9abbff"/><stop offset="0.720" stop-color="#8db0fe"/><stop offset="0.760" stop-color="#81a4fb"/><stop offset="0.800" stop-color="#7597f6"/><stop offset="0.840" stop-color="#688aef"/><stop offset="0.880" stop-color="#5d7ce6"/><stop offset="0.920" stop-color="#516ddb"/><stop offset="0.960" stop-color="#485fd1"/><stop offset="1.000" stop-color="#3d50c3"/></linearGradient>
<linearGradient id="ga71" gradientUnits="userSpaceOnUse" x1="26.7" x2="174.9" y1="0" y2="0"><stop offset="0.000" stop-color="#c53334"/><stop offset="0.040" stop-color="#d44e41"/><stop offset="0.080" stop-color="#e0654f"/><stop offset="0.120" stop-color="#e97a5f"/><stop offset="0.160" stop-color="#f08b6e"/><stop offset="0.200" stop-color="#f59d7e"/><stop offset="0.240" stop-color="#f7ac8e"/><stop offset="0.280" stop-color="#f7b99e"/><stop offset="0.320" stop-color="#f4c5ad"/><stop offset="0.360" stop-color="#efcfbf"/><stop offset="0.400" stop-color="#e8d6cc"/><stop offset="0.440" stop-color="#dedcdb"/><stop offset="0.480" stop-color="#d4dbe6"/><stop offset="0.520" stop-color="#cad8ef"/><stop offset="0.560" stop-color="#bfd3f6"/><stop offset="0.600" stop-color="#b2ccfb"/><stop offset="0.640" stop-color="#a6c4fe"/><stop offset="0.680" stop-color="#9abbff"/><stop offset="0.720" stop-color="#8db0fe"/><stop offset="0.760" stop-color="#81a4fb"/><stop offset="0.800" stop-color="#7597f6"/><stop offset="0.840" stop-color="#688aef"/><stop offset="0.880" stop-color="#5d7ce6"/><stop offset="0.920" stop-color="#516ddb"/><stop offset="0.960" stop-color="#465ecf"/><stop offset="1.000" stop-color="#3d50c3"/></linearGradient>
<linearGradient id="ga72" gradientUnits="userSpaceOnUse" x1="26.7" x2="174.9" y1="0" y2="0"><stop offset="0.000" stop-color="#c73635"/><stop offset="0.040" stop-color="#d44e41"/><stop offset="0.080" stop-color="#e0654f"/><stop offset="0.120" stop-color="#e97a5f"/><stop offset="0.160" stop-color="#f18d6f"/><stop offset="0.200" stop-color="#f59d7e"/><stop offset="0.240" stop-color="#f7ad90"/><stop offset="0.280" stop-color="#f7ba9f"/><stop offset="0.320" stop-color="#f4c6af"/><stop offset="0.360" stop-color="#efcfbf"/><stop offset="0.400" stop-color="#e7d7ce"/><stop offset="0.440" stop-color="#dedcdb"/><stop offset="0.480" stop-color="#d4dbe6"/><stop offset="0.520" stop-color="#cad8ef"/><stop offset="0.560" stop-color="#bed2f6"/><stop offset="0.600" stop-color="#b2ccfb"/><stop offset="0.640" stop-color="#a6c4fe"/><stop offset="0.680" stop-color="#9abbff"/><stop offset="0.720" stop-color="#8db0fe"/><stop offset="0.760" stop-color="#81a4fb"/><stop offset="0.800" stop-color="#7396f5"/><stop offset="0.840" stop-color="#6788ee"/><stop offset="0.880" stop-color="#5d7ce6"/><stop offset="0.920" stop-color="#516ddb"/><stop offset="0.960" stop-color="#465ecf"/><stop offset="1.000" stop-color="#3c4ec2"/></linearGradient>
<linearGradient id="ga73" gradientUnits="userSpaceOnUse" x1="26.7" x2="174.9" y1="0" y2="0"><stop offset="0.000" stop-color="#c73635"/><stop offset="0.040" stop-color="#d55042"/><stop offset="0.080" stop-color="#e16751"/><stop offset="0.120" stop-color="#e97a5f"/><stop offset="0.160" stop-color="#f18d6f"/><stop offset="0.200" stop-color="#f59d7e"/><stop offset="0.240" stop-color="#f7ad90"/><stop offset="0.280" stop-color="#f7ba9f"/><stop offset="0.320" stop-color="#f4c6af"/><stop offset="0.360" stop-color="#efcfbf"/><stop offset="0.400" stop-color="#e7d7ce"/><stop offset="0.440" stop-color="#dddcdc"/><stop offset="0.480" stop-color="#d4dbe6"/><stop offset="0.520" stop-color="#c9d7f0"/><stop offset="0.560" stop-color="#bed2f6"/><stop offset="0.600" stop-color="#b2ccfb"/><stop offset="0.640" stop-color="#a6c4fe"/><stop offset="0.680" stop-color="#98b9ff"/><stop offset="0.720" stop-color="#8caffe"/><stop offset="0.760" stop-color="#80a3fa"/><stop offset="0.800" stop-color="#7396f5"/><stop offset="0.840" stop-color="#6788ee"/><stop offset="0.880" stop-color="#5b7ae5"/><stop offset="0.920" stop-color="#506bda"/><stop offset="0.960" stop-color="#465ecf"/><stop offset="1.000" stop-color="#3c4ec2"/></linearGradient>
<linearGradient id="ga74" gradientUnits="userSpaceOnUse" x1="26.7" x2="174.9" y1="0" y2="0"><stop offset="0.000" stop-color="#c73635"/><stop offset="0.040" stop-color="#d55042"/><stop offset="0.080" stop-color="#e16751"/><stop offset="0.120" stop-color="#ea7b60"/><stop offset="0.160" stop-color="#f18d6f"/><stop offset="0.200" stop-color="#f59f80"/><stop offset="0.240" stop-color="#f7ad90"/><stop offset="0.280" stop-color="#f7ba9f"/><stop offset="0.320" stop-color="#f4c6af"/><stop offset="0.360" stop-color="#eed0c0"/><stop offset="0.400" stop-color="#e7d7ce"/><stop offset="0.440" stop-color="#dddcdc"/><stop offset="0.480" stop-color="#d3dbe7"/><stop offset="0.520" stop-color="#c9d7f0"/><stop offset="0.560" stop-color="#bed2f6"/><stop offset="0.600" stop-color="#b1cbfc"/><stop offset="0.640" stop-color="#a5c3fe"/><stop offset="0.680" stop-color="#98b9ff"/><stop offset="0.720" stop-color="#8caffe"/><stop offset="0.760" stop-color="#80a3fa"/><stop offset="0.800" stop-color="#7396f5"/><stop offset="0.840" stop-color="#6788ee"/><stop offset="0.880" stop-color="#5b7ae5"/><stop offset="0.920" stop-color="#506bda"/><stop offset="0.960" stop-color="#455cce"/><stop offset="1.000" stop-color="#3b4cc0"/></linearGradient>
<linearGradient id="ga75" gradientUnits="userSpaceOnUse" x1="26.7" x2="174.9" y1="0" y2="0"><stop offset="0.000" stop-color="#c83836"/><stop offset="0.040" stop-color="#d65244"/><stop offset="0.080" stop-color="#e16751"/><stop offset="0.120" stop-color="#ea7b60"/><stop offset="0.160" stop-color="#f18f71"/><stop offset="0.200" stop-color="#f59f80"/><stop offset="0.240" stop-color="#f7ad90"/><stop offset="0.280" stop-color="#f7bca1"/><stop offset="0.320" stop-color="#f3c7b1"/><stop offset="0.360" stop-color="#eed0c0"/><stop offset="0.400" stop-color="#e6d7cf"/><stop offset="0.440" stop-color="#dddcdc"/><stop offset="0.480" stop-color="#d3dbe7"/><stop offset="0.520" stop-color="#c7d7f0"/><stop offset="0.560" stop-color="#bcd2f7"/><stop offset="0.600" stop-color="#b1cbfc"/><stop offset="0.640" stop-color="#a5c3fe"/><stop offset="0.680" stop-color="#98b9ff"/><stop offset="0.720" stop-color="#8caffe"/><stop offset="0.760" stop-color="#80a3fa"/><stop offset="0.800" stop-color="#7295f4"/><stop offset="0.840" stop-color="#6687ed"/><stop offset="0.880" stop-color="#5b7ae5"/><stop offset="0.920" stop-color="#506bda"/><stop offset="0.960" stop-color="#455cce"/><stop offset="1.000" stop-color="#3b4cc0"/></linearGradient>
<linearGradient id="ga76" gradientUnits="userSpaceOnUse" x1="26.7" x2="174.9" y1="0" y2="0"><stop offset="0.000" stop-color="#c83836"/><stop offset="0.040" stop-color="#d65244"/><stop offset="0.080" stop-color="#e26952"/><stop offset="0.120" stop-color="#ea7b60"/><stop offset="0.160" stop-color="#f18f71"/><stop offset="0.200" stop-color="#f59f80"/><stop offset="0.240" stop-color="#f7af91"/><stop offset="0.280" stop-color="#f7bca1"/><stop offset="0.320" stop-color="#f3c7b1"/><stop offset="0.360" stop-color="#eed0c0"/><stop offset="0.400" stop-color="#e6d7cf"/><stop offset="0.440" stop-color="#dddcdc"/><stop offset="0.480" stop-color="#d3dbe7"/><stop offset="0.520" stop-color="#c7d7f0"/><stop offset="0.560" stop-color="#bcd2f7"/><stop offset="0.600" stop-color="#b1cbfc"/><stop offset="0.640" stop-color="#a5c3fe"/><stop offset="0.680" stop-color="#97b8ff"/><stop offset="0.720" stop-color="#8badfd"/><stop offset="0.760" stop-color="#7ea1fa"/><stop offset="0.800" stop-color="#7295f4"/><stop offset="0.840" stop-color="#6687ed"/><stop offset="0.880" stop-color="#5a78e4"/><stop offset="0.920" stop-color="#4f69d9"/><stop offset="0.960" stop-color="#455cce"/><stop offset="1.000" stop-color="#3b4cc0"/></linearGradient>
<mask id="ma" maskUnits="userSpaceOnUse" x="0" y="0" width="448" height="252"><rect x="0" y="0" width="448" height="252" fill="#fff"/><rect x="34.4" y="165.0" width="14.0" height="6" fill="#000" transform="rotate(-84.6 41.4 168.0)"/><rect x="56.0" y="151.4" width="14.0" height="6" fill="#000" transform="rotate(-85.4 63.0 154.4)"/><rect x="78.0" y="144.8" width="14.0" height="6" fill="#000" transform="rotate(-85.0 85.0 147.8)"/><rect x="101.5" y="135.4" width="14.0" height="6" fill="#000" transform="rotate(-86.0 108.5 138.4)"/><rect x="125.9" y="129.9" width="14.0" height="6" fill="#000" transform="rotate(-84.5 132.9 132.9)"/><rect x="150.5" y="128.2" width="14.0" height="6" fill="#000" transform="rotate(-84.2 157.5 131.2)"/></mask>
<clipPath id="ca"><path d="M26.7,195.7 L26.7,165.1 L28.6,160.3 L30.5,155.6 L32.3,151.4 L34.2,147.7 L36.1,144.4 L38.0,141.3 L39.8,138.4 L41.7,135.7 L43.6,133.1 L45.5,130.7 L47.3,128.3 L49.2,126.1 L51.1,124.0 L53.0,121.9 L54.8,119.9 L56.7,118.0 L58.6,116.2 L60.5,114.4 L62.3,112.6 L64.2,110.9 L66.1,109.3 L68.0,107.7 L69.8,106.1 L71.7,104.6 L73.6,103.0 L75.5,101.6 L77.4,100.1 L79.2,98.7 L81.1,97.3 L83.0,96.0 L84.9,94.6 L86.7,93.3 L88.6,92.0 L90.5,90.7 L92.4,89.5 L94.2,88.3 L96.1,87.0 L98.0,85.8 L99.9,84.7 L101.7,83.5 L103.6,82.4 L105.5,81.2 L107.4,80.1 L109.2,79.0 L111.1,77.9 L113.0,76.9 L114.9,75.8 L116.7,74.7 L118.6,73.7 L120.5,72.7 L122.4,71.7 L124.2,70.7 L126.1,69.7 L128.0,68.7 L129.9,67.7 L131.8,66.8 L133.6,65.8 L135.5,64.9 L137.4,63.9 L139.3,63.0 L141.1,62.1 L143.0,61.2 L144.9,60.3 L146.8,59.4 L148.6,58.5 L150.5,57.6 L152.4,56.8 L154.3,55.9 L156.1,55.0 L158.0,54.2 L159.9,53.4 L161.8,52.5 L163.6,51.7 L165.5,50.9 L167.4,50.1 L169.3,49.3 L171.1,48.4 L173.0,47.7 L174.9,46.9 L174.9,195.7 Z"/></clipPath>
<linearGradient id="gb0" gradientUnits="userSpaceOnUse" x1="254.0" x2="401.8" y1="0" y2="0"><stop offset="0.000" stop-color="#cb3e38"/><stop offset="0.040" stop-color="#d1493f"/><stop offset="0.080" stop-color="#d65244"/><stop offset="0.120" stop-color="#dc5d4a"/><stop offset="0.160" stop-color="#e16751"/><stop offset="0.200" stop-color="#e57058"/><stop offset="0.240" stop-color="#ea7b60"/><stop offset="0.280" stop-color="#ee8468"/><stop offset="0.320" stop-color="#f18f71"/><stop offset="0.360" stop-color="#f4987a"/><stop offset="0.400" stop-color="#f6a283"/><stop offset="0.440" stop-color="#f7ac8e"/><stop offset="0.480" stop-color="#f7b599"/><stop offset="0.520" stop-color="#f6bda2"/><stop offset="0.560" stop-color="#f5c4ac"/><stop offset="0.600" stop-color="#f2cbb7"/><stop offset="0.640" stop-color="#eed0c0"/><stop offset="0.680" stop-color="#e9d5cb"/><stop offset="0.720" stop-color="#e1dad6"/><stop offset="0.760" stop-color="#d9dce1"/><stop offset="0.800" stop-color="#d1dae9"/><stop offset="0.840" stop-color="#c7d7f0"/><stop offset="0.880" stop-color="#bed2f6"/><stop offset="0.920" stop-color="#b2ccfb"/><stop offset="0.960" stop-color="#a7c5fe"/><stop offset="1.000" stop-color="#9dbdff"/></linearGradient>
<linearGradient id="gb1" gradientUnits="userSpaceOnUse" x1="254.0" x2="401.8" y1="0" y2="0"><stop offset="0.000" stop-color="#cb3e38"/><stop offset="0.040" stop-color="#d1493f"/><stop offset="0.080" stop-color="#d75445"/><stop offset="0.120" stop-color="#dc5d4a"/><stop offset="0.160" stop-color="#e16751"/><stop offset="0.200" stop-color="#e67259"/><stop offset="0.240" stop-color="#ea7b60"/><stop offset="0.280" stop-color="#ee8468"/><stop offset="0.320" stop-color="#f18f71"/><stop offset="0.360" stop-color="#f4987a"/><stop offset="0.400" stop-color="#f6a283"/><stop offset="0.440" stop-color="#f7ac8e"/><stop offset="0.480" stop-color="#f7b599"/><stop offset="0.520" stop-color="#f6bda2"/><stop offset="0.560" stop-color="#f4c5ad"/><stop offset="0.600" stop-color="#f2cbb7"/><stop offset="0.640" stop-color="#edd1c2"/><stop offset="0.680" stop-color="#e8d6cc"/><stop offset="0.720" stop-color="#e0dbd8"/><stop offset="0.760" stop-color="#d8dce2"/><stop offset="0.800" stop-color="#cfdaea"/><stop offset="0.840" stop-color="#c6d6f1"/><stop offset="0.880" stop-color="#bcd2f7"/><stop offset="0.920" stop-color="#b1cbfc"/><stop offset="0.960" stop-color="#a6c4fe"/><stop offset="1.000" stop-color="#9bbcff"/></linearGradient>
<linearGradient id="gb2" gradientUnits="userSpaceOnUse" x1="254.0" x2="401.8" y1="0" y2="0"><stop offset="0.000" stop-color="#cc403a"/><stop offset="0.040" stop-color="#d1493f"/><stop offset="0.080" stop-color="#d75445"/><stop offset="0.120" stop-color="#dd5f4b"/><stop offset="0.160" stop-color="#e26952"/><stop offset="0.200" stop-color="#e67259"/><stop offset="0.240" stop-color="#ea7b60"/><stop offset="0.280" stop-color="#ee8669"/><stop offset="0.320" stop-color="#f18f71"/><stop offset="0.360" stop-color="#f4987a"/><stop offset="0.400" stop-color="#f6a385"/><stop offset="0.440" stop-color="#f7ad90"/><stop offset="0.480" stop-color="#f7b599"/><stop offset="0.520" stop-color="#f6bea4"/><stop offset="0.560" stop-color="#f4c5ad"/><stop offset="0.600" stop-color="#f1ccb8"/><stop offset="0.640" stop-color="#edd1c2"/><stop offset="0.680" stop-color="#e7d7ce"/><stop offset="0.720" stop-color="#dfdbd9"/><stop offset="0.760" stop-color="#d7dce3"/><stop offset="0.800" stop-color="#cedaeb"/><stop offset="0.840" stop-color="#c5d6f2"/><stop offset="0.880" stop-color="#bad0f8"/><stop offset="0.920" stop-color="#afcafc"/><stop offset="0.960" stop-color="#a5c3fe"/><stop offset="1.000" stop-color="#9abbff"/></linearGradient>
<linearGradient id="gb3" gradientUnits="userSpaceOnUse" x1="254.0" x2="401.8" y1="0" y2="0"><stop offset="0.000" stop-color="#cc403a"/><stop offset="0.040" stop-color="#d1493f"/><stop offset="0.080" stop-color="#d75445"/><stop offset="0.120" stop-color="#dd5f4b"/><stop offset="0.160" stop-color="#e26952"/><stop offset="0.200" stop-color="#e67259"/><stop offset="0.240" stop-color="#ea7b60"/><stop offset="0.280" stop-color="#ee8669"/><stop offset="0.320" stop-color="#f29072"/><stop offset="0.360" stop-color="#f49a7b"/><stop offset="0.400" stop-color="#f6a385"/><stop offset="0.440" stop-color="#f7ad90"/><stop offset="0.480" stop-color="#f7b599"/><stop offset="0.520" stop-color="#f6bea4"/><stop offset="0.560" stop-color="#f4c6af"/><stop offset="0.600" stop-color="#f1ccb8"/><stop offset="0.640" stop-color="#edd2c3"/><stop offset="0.680" stop-color="#e6d7cf"/><stop offset="0.720" stop-color="#dedcdb"/><stop offset="0.760" stop-color="#d6dce4"/><stop offset="0.800" stop-color="#cdd9ec"/><stop offset="0.840" stop-color="#c4d5f3"/><stop offset="0.880" stop-color="#b9d0f9"/><stop offset="0.920" stop-color="#aec9fc"/><stop offset="0.960" stop-color="#a3c2fe"/><stop offset="1.000" stop-color="#98b9ff"/></linearGradient>
<linearGradient id="gb4" gradientUnits="userSpaceOnUse" x1="254.0" x2="401.8" y1="0" y2="0"><stop offset="0.000" stop-color="#cc403a"/><stop offset="0.040" stop-color="#d24b40"/><stop offset="0.080" stop-color="#d75445"/><stop offset="0.120" stop-color="#dd5f4b"/><stop offset="0.160" stop-color="#e26952"/><stop offset="0.200" stop-color="#e67259"/><stop offset="0.240" stop-color="#ea7b60"/><stop offset="0.280" stop-color="#ee8669"/><stop offset="0.320" stop-color="#f29072"/><stop offset="0.360" stop-color="#f49a7b"/><stop offset="0.400" stop-color="#f6a385"/><stop offset="0.440" stop-color="#f7ad90"/><stop offset="0.480" stop-color="#f7b79b"/><stop offset="0.520" stop-color="#f6bea4"/><stop offset="0.560" stop-color="#f4c6af"/><stop offset="0.600" stop-color="#f1cdba"/><stop offset="0.640" stop-color="#edd2c3"/><stop offset="0.680" stop-color="#e5d8d1"/><stop offset="0.720" stop-color="#dddcdc"/><stop offset="0.760" stop-color="#d5dbe5"/><stop offset="0.800" stop-color="#ccd9ed"/><stop offset="0.840" stop-color="#c3d5f4"/><stop offset="0.880" stop-color="#b7cff9"/><stop offset="0.920" stop-color="#adc9fd"/><stop offset="0.960" stop-color="#a1c0ff"/><stop offset="1.000" stop-color="#97b8ff"/></linearGradient>
<linearGradient id="gb5" gradientUnits="userSpaceOnUse" x1="254.0" x2="401.8" y1="0" y2="0"><stop offset="0.000" stop-color="#cc403a"/><stop offset="0.040" stop-color="#d24b40"/><stop offset="0.080" stop-color="#d75445"/><stop offset="0.120" stop-color="#dd5f4b"/><stop offset="0.160" stop-color="#e26952"/><stop offset="0.200" stop-color="#e67259"/><stop offset="0.240" stop-color="#ea7b60"/><stop offset="0.280" stop-color="#ee8669"/><stop offset="0.320" stop-color="#f29072"/><stop offset="0.360" stop-color="#f49a7b"/><stop offset="0.400" stop-color="#f6a385"/><stop offset="0.440" stop-color="#f7ad90"/><stop offset="0.480" stop-color="#f7b79b"/><stop offset="0.520" stop-color="#f6bfa6"/><stop offset="0.560" stop-color="#f4c6af"/><stop offset="0.600" stop-color="#f1cdba"/><stop offset="0.640" stop-color="#ecd3c5"/><stop offset="0.680" stop-color="#e5d8d1"/><stop offset="0.720" stop-color="#dcdddd"/><stop offset="0.760" stop-color="#d4dbe6"/><stop offset="0.800" stop-color="#cbd8ee"/><stop offset="0.840" stop-color="#c0d4f5"/><stop offset="0.880" stop-color="#b6cefa"/><stop offset="0.920" stop-color="#aac7fd"/><stop offset="0.960" stop-color="#9fbfff"/><stop offset="1.000" stop-color="#96b7ff"/></linearGradient>
<linearGradient id="gb6" gradientUnits="userSpaceOnUse" x1="254.0" x2="401.8" y1="0" y2="0"><stop offset="0.000" stop-color="#cd423b"/><stop offset="0.040" stop-color="#d24b40"/><stop offset="0.080" stop-color="#d85646"/><stop offset="0.120" stop-color="#dd5f4b"/><stop offset="0.160" stop-color="#e26952"/><stop offset="0.200" stop-color="#e67259"/><stop offset="0.240" stop-color="#eb7d62"/><stop offset="0.280" stop-color="#ee8669"/><stop offset="0.320" stop-color="#f29072"/><stop offset="0.360" stop-color="#f49a7b"/><stop offset="0.400" stop-color="#f6a385"/><stop offset="0.440" stop-color="#f7ad90"/><stop offset="0.480" stop-color="#f7b79b"/><stop offset="0.520" stop-color="#f6bfa6"/><stop offset="0.560" stop-color="#f3c7b1"/><stop offset="0.600" stop-color="#f0cdbb"/><stop offset="0.640" stop-color="#ebd3c6"/><stop offset="0.680" stop-color="#e4d9d2"/><stop offset="0.720" stop-color="#dcdddd"/><stop offset="0.760" stop-color="#d3dbe7"/><stop offset="0.800" stop-color="#cad8ef"/><stop offset="0.840" stop-color="#bfd3f6"/><stop offset="0.880" stop-color="#b5cdfa"/><stop offset="0.920" stop-color="#a9c6fd"/><stop offset="0.960" stop-color="#9ebeff"/><stop offset="1.000" stop-color="#94b6ff"/></linearGradient>
<linearGradient id="gb7" gradientUnits="userSpaceOnUse" x1="254.0" x2="401.8" y1="0" y2="0"><stop offset="0.000" stop-color="#cd423b"/><stop offset="0.040" stop-color="#d24b40"/><stop offset="0.080" stop-color="#d85646"/><stop offset="0.120" stop-color="#dd5f4b"/><stop offset="0.160" stop-color="#e26952"/><stop offset="0.200" stop-color="#e67259"/><stop offset="0.240" stop-color="#eb7d62"/><stop offset="0.280" stop-color="#ee8669"/><stop offset="0.320" stop-color="#f29072"/><stop offset="0.360" stop-color="#f49a7b"/><stop offset="0.400" stop-color="#f6a586"/><stop offset="0.440" stop-color="#f7ad90"/><stop offset="0.480" stop-color="#f7b79b"/><stop offset="0.520" stop-color="#f6bfa6"/><stop offset="0.560" stop-color="#f3c7b1"/><stop offset="0.600" stop-color="#f0cdbb"/><stop offset="0.640" stop-color="#ead4c8"/><stop offset="0.680" stop-color="#e3d9d3"/><stop offset="0.720" stop-color="#dbdcde"/><stop offset="0.760" stop-color="#d2dbe8"/><stop offset="0.800" stop-color="#c9d7f0"/><stop offset="0.840" stop-color="#bed2f6"/><stop offset="0.880" stop-color="#b3cdfb"/><stop offset="0.920" stop-color="#a7c5fe"/><stop offset="0.960" stop-color="#9bbcff"/><stop offset="1.000" stop-color="#93b5fe"/></linearGradient>
<linearGradient id="gb8" gradientUnits="userSpaceOnUse" x1="254.0" x2="401.8" y1="0" y2="0"><stop offset="0.000" stop-color="#cd423b"/><stop offset="0.040" stop-color="#d24b40"/><stop offset="0.080" stop-color="#d85646"/><stop offset="0.120" stop-color="#de614d"/><stop offset="0.160" stop-color="#e26952"/><stop offset="0.200" stop-color="#e67259"/><stop offset="0.240" stop-color="#eb7d62"/><stop offset="0.280" stop-color="#ee8669"/><stop offset="0.320" stop-color="#f29072"/><stop offset="0.360" stop-color="#f49a7b"/><stop offset="0.400" stop-color="#f6a586"/><stop offset="0.440" stop-color="#f7af91"/><stop offset="0.480" stop-color="#f7b89c"/><stop offset="0.520" stop-color="#f5c0a7"/><stop offset="0.560" stop-color="#f3c8b2"/><stop offset="0.600" stop-color="#efcebd"/><stop offset="0.640" stop-color="#ead4c8"/><stop offset="0.680" stop-color="#e2dad5"/><stop offset="0.720" stop-color="#dadce0"/><stop offset="0.760" stop-color="#d1dae9"/><stop offset="0.800" stop-color="#c7d7f0"/><stop offset="0.840" stop-color="#bcd2f7"/><stop offset="0.880" stop-color="#b1cbfc"/><stop offset="0.920" stop-color="#a6c4fe"/><stop offset="0.960" stop-color="#9abbff"/><stop offset="1.000" stop-color="#92b4fe"/></linearGradient>
<linearGradient id="gb9" gradientUnits="userSpaceOnUse" x1="254.0" x2="401.8" y1="0" y2="0"><stop offset="0.000" stop-color="#cd423b"/><stop offset="0.040" stop-color="#d44e41"/><stop offset="0.080" stop-color="#d85646"/><stop offset="0.120" stop-color="#de614d"/><stop offset="0.160" stop-color="#e36b54"/><stop offset="0.200" stop-color="#e7745b"/><stop offset="0.240" stop-color="#eb7d62"/><stop offset="0.280" stop-color="#ee8669"/><stop offset="0.320" stop-color="#f29072"/><stop offset="0.360" stop-color="#f49a7b"/><stop offset="0.400" stop-color="#f6a586"/><stop offset="0.440" stop-color="#f7af91"/><stop offset="0.480" stop-color="#f7b89c"/><stop offset="0.520" stop-color="#f5c0a7"/><stop offset="0.560" stop-color="#f3c8b2"/><stop offset="0.600" stop-color="#efcebd"/><stop offset="0.640" stop-color="#ead5c9"/><stop offset="0.680" stop-color="#e1dad6"/><stop offset="0.720" stop-color="#d9dce1"/><stop offset="0.760" stop-color="#cfdaea"/><stop offset="0.800" stop-color="#c6d6f1"/><stop offset="0.840" stop-color="#bbd1f8"/><stop offset="0.880" stop-color="#afcafc"/><stop offset="0.920" stop-color="#a5c3fe"/><stop offset="0.960" stop-color="#98b9ff"/><stop offset="1.000" stop-color="#8fb1fe"/></linearGradient>
<linearGradient id="gb10" gradientUnits="userSpaceOnUse" x1="254.0" x2="401.8" y1="0" y2="0"><stop offset="0.000" stop-color="#cf453c"/><stop offset="0.040" stop-color="#d44e41"/><stop offset="0.080" stop-color="#d85646"/><stop offset="0.120" stop-color="#de614d"/><stop offset="0.160" stop-color="#e36b54"/><stop offset="0.200" stop-color="#e7745b"/><stop offset="0.240" stop-color="#eb7d62"/><stop offset="0.280" stop-color="#ee8669"/><stop offset="0.320" stop-color="#f29072"/><stop offset="0.360" stop-color="#f59c7d"/><stop offset="0.400" stop-color="#f6a586"/><stop offset="0.440" stop-color="#f7af91"/><stop offset="0.480" stop-color="#f7b89c"/><stop offset="0.520" stop-color="#f5c0a7"/><stop offset="0.560" stop-color="#f2c9b4"/><stop offset="0.600" stop-color="#efcfbf"/><stop offset="0.640" stop-color="#e9d5cb"/><stop offset="0.680" stop-color="#e1dad6"/><stop offset="0.720" stop-color="#d8dce2"/><stop offset="0.760" stop-color="#cedaeb"/><stop offset="0.800" stop-color="#c5d6f2"/><stop offset="0.840" stop-color="#bad0f8"/><stop offset="0.880" stop-color="#aec9fc"/><stop offset="0.920" stop-color="#a2c1ff"/><stop offset="0.960" stop-color="#97b8ff"/><stop offset="1.000" stop-color="#8db0fe"/></linearGradient>
<linearGradient id="gb11" gradientUnits="userSpaceOnUse" x1="254.0" x2="401.8" y1="0" y2="0"><stop offset="0.000" stop-color="#cf453c"/><stop offset="0.040" stop-color="#d44e41"/><stop offset="0.080" stop-color="#d85646"/><stop offset="0.120" stop-color="#de614d"/><stop offset="0.160" stop-color="#e36b54"/><stop offset="0.200" stop-color="#e7745b"/><stop offset="0.240" stop-color="#eb7d62"/><stop offset="0.280" stop-color="#ef886b"/><stop offset="0.320" stop-color="#f29072"/><stop offset="0.360" stop-color="#f59c7d"/><stop offset="0.400" stop-color="#f6a586"/><stop offset="0.440" stop-color="#f7af91"/><stop offset="0.480" stop-color="#f7b89c"/><stop offset="0.520" stop-color="#f5c1a9"/><stop offset="0.560" stop-color="#f2c9b4"/><stop offset="0.600" stop-color="#efcfbf"/><stop offset="0.640" stop-color="#e8d6cc"/><stop offset="0.680" stop-color="#e0dbd8"/><stop offset="0.720" stop-color="#d7dce3"/><stop offset="0.760" stop-color="#cdd9ec"/><stop offset="0.800" stop-color="#c4d5f3"/><stop offset="0.840" stop-color="#b9d0f9"/><stop offset="0.880" stop-color="#adc9fd"/><stop offset="0.920" stop-color="#a1c0ff"/><stop offset="0.960" stop-color="#96b7ff"/><stop offset="1.000" stop-color="#8caffe"/></linearGradient>
<linearGradient id="gb12" gradientUnits="userSpaceOnUse" x1="254.0" x2="401.8" y1="0" y2="0"><stop offset="0.000" stop-color="#cf453c"/><stop offset="0.040" stop-color="#d44e41"/><stop offset="0.080" stop-color="#d95847"/><stop offset="0.120" stop-color="#de614d"/><stop offset="0.160" stop-color="#e36b54"/><stop offset="0.200" stop-color="#e7745b"/><stop offset="0.240" stop-color="#eb7d62"/><stop offset="0.280" stop-color="#ef886b"/><stop offset="0.320" stop-color="#f29072"/><stop offset="0.360" stop-color="#f59c7d"/><stop offset="0.400" stop-color="#f6a586"/><stop offset="0.440" stop-color="#f7af91"/><stop offset="0.480" stop-color="#f7b99e"/><stop offset="0.520" stop-color="#f5c1a9"/><stop offset="0.560" stop-color="#f2cab5"/><stop offset="0.600" stop-color="#eed0c0"/><stop offset="0.640" stop-color="#e8d6cc"/><stop offset="0.680" stop-color="#dfdbd9"/><stop offset="0.720" stop-color="#d6dce4"/><stop offset="0.760" stop-color="#ccd9ed"/><stop offset="0.800" stop-color="#c3d5f4"/><stop offset="0.840" stop-color="#b7cff9"/><stop offset="0.880" stop-color="#abc8fd"/><stop offset="0.920" stop-color="#9fbfff"/><stop offset="0.960" stop-color="#94b6ff"/><stop offset="1.000" stop-color="#8badfd"/></linearGradient>
<linearGradient id="gb13" gradientUnits="userSpaceOnUse" x1="254.0" x2="401.8" y1="0" y2="0"><stop offset="0.000" stop-color="#cf453c"/><stop offset="0.040" stop-color="#d44e41"/><stop offset="0.080" stop-color="#d95847"/><stop offset="0.120" stop-color="#de614d"/><stop offset="0.160" stop-color="#e36b54"/><stop offset="0.200" stop-color="#e7745b"/><stop offset="0.240" stop-color="#eb7d62"/><stop offset="0.280" stop-color="#ef886b"/><stop offset="0.320" stop-color="#f29274"/><stop offset="0.360" stop-color="#f59c7d"/><stop offset="0.400" stop-color="#f6a586"/><stop offset="0.440" stop-color="#f7af91"/><stop offset="0.480" stop-color="#f7b99e"/><stop offset="0.520" stop-color="#f5c1a9"/><stop offset="0.560" stop-color="#f2cab5"/><stop offset="0.600" stop-color="#edd1c2"/><stop offset="0.640" stop-color="#e7d7ce"/><stop offset="0.680" stop-color="#dedcdb"/><stop offset="0.720" stop-color="#d5dbe5"/><stop offset="0.760" stop-color="#cbd8ee"/><stop offset="0.800" stop-color="#c0d4f5"/><stop offset="0.840" stop-color="#b5cdfa"/><stop offset="0.880" stop-color="#aac7fd"/><stop offset="0.920" stop-color="#9ebeff"/><stop offset="0.960" stop-color="#93b5fe"/><stop offset="1.000" stop-color="#89acfd"/></linearGradient>
<linearGradient id="gb14" gradientUnits="userSpaceOnUse" x1="254.0" x2="401.8" y1="0" y2="0"><stop offset="0.000" stop-color="#cf453c"/><stop offset="0.040" stop-color="#d55042"/><stop offset="0.080" stop-color="#d95847"/><stop offset="0.120" stop-color="#de614d"/><stop offset="0.160" stop-color="#e36b54"/><stop offset="0.200" stop-color="#e7745b"/><stop offset="0.240" stop-color="#eb7d62"/><stop offset="0.280" stop-color="#ef886b"/><stop offset="0.320" stop-color="#f29274"/><stop offset="0.360" stop-color="#f59c7d"/><stop offset="0.400" stop-color="#f6a586"/><stop offset="0.440" stop-color="#f7b093"/><stop offset="0.480" stop-color="#f7b99e"/><stop offset="0.520" stop-color="#f5c2aa"/><stop offset="0.560" stop-color="#f2cbb7"/><stop offset="0.600" stop-color="#edd1c2"/><stop offset="0.640" stop-color="#e6d7cf"/><stop offset="0.680" stop-color="#dddcdc"/><stop offset="0.720" stop-color="#d4dbe6"/><stop offset="0.760" stop-color="#cad8ef"/><stop offset="0.800" stop-color="#bfd3f6"/><stop offset="0.840" stop-color="#b3cdfb"/><stop offset="0.880" stop-color="#a7c5fe"/><stop offset="0.920" stop-color="#9bbcff"/><stop offset="0.960" stop-color="#92b4fe"/><stop offset="1.000" stop-color="#88abfd"/></linearGradient>
<linearGradient id="gb15" gradientUnits="userSpaceOnUse" x1="254.0" x2="401.8" y1="0" y2="0"><stop offset="0.000" stop-color="#d0473d"/><stop offset="0.040" stop-color="#d55042"/><stop offset="0.080" stop-color="#d95847"/><stop offset="0.120" stop-color="#de614d"/><stop offset="0.160" stop-color="#e36b54"/><stop offset="0.200" stop-color="#e7745b"/><stop offset="0.240" stop-color="#eb7d62"/><stop offset="0.280" stop-color="#ef886b"/><stop offset="0.320" stop-color="#f29274"/><stop offset="0.360" stop-color="#f59c7d"/><stop offset="0.400" stop-color="#f6a586"/><stop offset="0.440" stop-color="#f7b093"/><stop offset="0.480" stop-color="#f7ba9f"/><stop offset="0.520" stop-color="#f5c2aa"/><stop offset="0.560" stop-color="#f2cbb7"/><stop offset="0.600" stop-color="#edd2c3"/><stop offset="0.640" stop-color="#e5d8d1"/><stop offset="0.680" stop-color="#dcdddd"/><stop offset="0.720" stop-color="#d3dbe7"/><stop offset="0.760" stop-color="#c9d7f0"/><stop offset="0.800" stop-color="#bed2f6"/><stop offset="0.840" stop-color="#b2ccfb"/><stop offset="0.880" stop-color="#a6c4fe"/><stop offset="0.920" stop-color="#9abbff"/><stop offset="0.960" stop-color="#90b2fe"/><stop offset="1.000" stop-color="#85a8fc"/></linearGradient>
<linearGradient id="gb16" gradientUnits="userSpaceOnUse" x1="254.0" x2="401.8" y1="0" y2="0"><stop offset="0.000" stop-color="#d0473d"/><stop offset="0.040" stop-color="#d55042"/><stop offset="0.080" stop-color="#d95847"/><stop offset="0.120" stop-color="#df634e"/><stop offset="0.160" stop-color="#e36b54"/><stop offset="0.200" stop-color="#e7745b"/><stop offset="0.240" stop-color="#eb7d62"/><stop offset="0.280" stop-color="#ef886b"/><stop offset="0.320" stop-color="#f29274"/><stop offset="0.360" stop-color="#f59c7d"/><stop offset="0.400" stop-color="#f7a688"/><stop offset="0.440" stop-color="#f7b093"/><stop offset="0.480" stop-color="#f7ba9f"/><stop offset="0.520" stop-color="#f5c4ac"/><stop offset="0.560" stop-color="#f1ccb8"/><stop offset="0.600" stop-color="#edd2c3"/><stop offset="0.640" stop-color="#e5d8d1"/><stop offset="0.680" stop-color="#dcdddd"/><stop offset="0.720" stop-color="#d2dbe8"/><stop offset="0.760" stop-color="#c7d7f0"/><stop offset="0.800" stop-color="#bcd2f7"/><stop offset="0.840" stop-color="#b1cbfc"/><stop offset="0.880" stop-color="#a5c3fe"/><stop offset="0.920" stop-color="#98b9ff"/><stop offset="0.960" stop-color="#8fb1fe"/><stop offset="1.000" stop-color="#84a7fc"/></linearGradient>
<linearGradient id="gb17" gradientUnits="userSpaceOnUse" x1="254.0" x2="401.8" y1="0" y2="0"><stop offset="0.000" stop-color="#d0473d"/><stop offset="0.040" stop-color="#d55042"/><stop offset="0.080" stop-color="#d95847"/><stop offset="0.120" stop-color="#df634e"/><stop offset="0.160" stop-color="#e36b54"/><stop offset="0.200" stop-color="#e7745b"/><stop offset="0.240" stop-color="#eb7d62"/><stop offset="0.280" stop-color="#ef886b"/><stop offset="0.320" stop-color="#f29274"/><stop offset="0.360" stop-color="#f59c7d"/><stop offset="0.400" stop-color="#f7a688"/><stop offset="0.440" stop-color="#f7b093"/><stop offset="0.480" stop-color="#f7ba9f"/><stop offset="0.520" stop-color="#f5c4ac"/><stop offset="0.560" stop-color="#f1ccb8"/><stop offset="0.600" stop-color="#ecd3c5"/><stop offset="0.640" stop-color="#e4d9d2"/><stop offset="0.680" stop-color="#dbdcde"/><stop offset="0.720" stop-color="#d2dbe8"/><stop offset="0.760" stop-color="#c6d6f1"/><stop offset="0.800" stop-color="#bbd1f8"/><stop offset="0.840" stop-color="#afcafc"/><stop offset="0.880" stop-color="#a3c2fe"/><stop offset="0.920" stop-color="#97b8ff"/><stop offset="0.960" stop-color="#8caffe"/><stop offset="1.000" stop-color="#82a6fb"/></linearGradient>
<linearGradient id="gb18" gradientUnits="userSpaceOnUse" x1="254.0" x2="401.8" y1="0" y2="0"><stop offset="0.000" stop-color="#d0473d"/><stop offset="0.040" stop-color="#d55042"/><stop offset="0.080" stop-color="#d95847"/><stop offset="0.120" stop-color="#df634e"/><stop offset="0.160" stop-color="#e36b54"/><stop offset="0.200" stop-color="#e7745b"/><stop offset="0.240" stop-color="#eb7d62"/><stop offset="0.280" stop-color="#ef886b"/><stop offset="0.320" stop-color="#f29274"/><stop offset="0.360" stop-color="#f59c7d"/><stop offset="0.400" stop-color="#f7a688"/><stop offset="0.440" stop-color="#f7b093"/><stop offset="0.480" stop-color="#f7ba9f"/><stop offset="0.520" stop-color="#f5c4ac"/><stop offset="0.560" stop-color="#f1cdba"/><stop offset="0.600" stop-color="#ebd3c6"/><stop offset="0.640" stop-color="#e3d9d3"/><stop offset="0.680" stop-color="#dadce0"/><stop offset="0.720" stop-color="#d1dae9"/><stop offset="0.760" stop-color="#c5d6f2"/><stop offset="0.800" stop-color="#bad0f8"/><stop offset="0.840" stop-color="#aec9fc"/><stop offset="0.880" stop-color="#a1c0ff"/><stop offset="0.920" stop-color="#96b7ff"/><stop offset="0.960" stop-color="#8badfd"/><stop offset="1.000" stop-color="#81a4fb"/></linearGradient>
<linearGradient id="gb19" gradientUnits="userSpaceOnUse" x1="254.0" x2="401.8" y1="0" y2="0"><stop offset="0.000" stop-color="#d0473d"/><stop offset="0.040" stop-color="#d55042"/><stop offset="0.080" stop-color="#d95847"/><stop offset="0.120" stop-color="#df634e"/><stop offset="0.160" stop-color="#e36b54"/><stop offset="0.200" stop-color="#e7745b"/><stop offset="0.240" stop-color="#eb7d62"/><stop offset="0.280" stop-color="#ef886b"/><stop offset="0.320" stop-color="#f29274"/><stop offset="0.360" stop-color="#f59c7d"/><stop offset="0.400" stop-color="#f7a688"/><stop offset="0.440" stop-color="#f7b194"/><stop offset="0.480" stop-color="#f7bca1"/><stop offset="0.520" stop-color="#f4c5ad"/><stop offset="0.560" stop-color="#f1cdba"/><stop offset="0.600" stop-color="#ebd3c6"/><stop offset="0.640" stop-color="#e2dad5"/><stop offset="0.680" stop-color="#d9dce1"/><stop offset="0.720" stop-color="#cfdaea"/><stop offset="0.760" stop-color="#c4d5f3"/><stop offset="0.800" stop-color="#b9d0f9"/><stop offset="0.840" stop-color="#adc9fd"/><stop offset="0.880" stop-color="#9fbfff"/><stop offset="0.920" stop-color="#94b6ff"/><stop offset="0.960" stop-color="#89acfd"/><stop offset="1.000" stop-color="#7ea1fa"/></linearGradient>
<linearGradient id="gb20" gradientUnits="userSpaceOnUse" x1="254.0" x2="401.8" y1="0" y2="0"><stop offset="0.000" stop-color="#d0473d"/><stop offset="0.040" stop-color="#d55042"/><stop offset="0.080" stop-color="#da5a49"/><stop offset="0.120" stop-color="#df634e"/><stop offset="0.160" stop-color="#e36b54"/><stop offset="0.200" stop-color="#e7745b"/><stop offset="0.240" stop-color="#eb7d62"/><stop offset="0.280" stop-color="#ef886b"/><stop offset="0.320" stop-color="#f29274"/><stop offset="0.360" stop-color="#f59c7d"/><stop offset="0.400" stop-color="#f7a688"/><stop offset="0.440" stop-color="#f7b194"/><stop offset="0.480" stop-color="#f7bca1"/><stop offset="0.520" stop-color="#f4c5ad"/><stop offset="0.560" stop-color="#f0cdbb"/><stop offset="0.600" stop-color="#ead4c8"/><stop offset="0.640" stop-color="#e1dad6"/><stop offset="0.680" stop-color="#d8dce2"/><stop offset="0.720" stop-color="#cedaeb"/><stop offset="0.760" stop-color="#c3d5f4"/><stop offset="0.800" stop-color="#b7cff9"/><stop offset="0.840" stop-color="#aac7fd"/><stop offset="0.880" stop-color="#9ebeff"/><stop offset="0.920" stop-color="#93b5fe"/><stop offset="0.960" stop-color="#88abfd"/><stop offset="1.000" stop-color="#7da0f9"/></linearGradient>
<linearGradient id="gb21" gradientUnits="userSpaceOnUse" x1="254.0" x2="401.8" y1="0" y2="0"><stop offset="0.000" stop-color="#d1493f"/><stop offset="0.040" stop-color="#d65244"/><stop offset="0.080" stop-color="#da5a49"/><stop offset="0.120" stop-color="#df634e"/><stop offset="0.160" stop-color="#e36c55"/><stop offset="0.200" stop-color="#e7745b"/><stop offset="0.240" stop-color="#eb7d62"/><stop offset="0.280" stop-color="#ef886b"/><stop offset="0.320" stop-color="#f29274"/><stop offset="0.360" stop-color="#f59c7d"/><stop offset="0.400" stop-color="#f7a688"/><stop offset="0.440" stop-color="#f7b194"/><stop offset="0.480" stop-color="#f7bca1"/><stop offset="0.520" stop-color="#f4c6af"/><stop offset="0.560" stop-color="#f0cdbb"/><stop offset="0.600" stop-color="#ead5c9"/><stop offset="0.640" stop-color="#e1dad6"/><stop offset="0.680" stop-color="#d7dce3"/><stop offset="0.720" stop-color="#cdd9ec"/><stop offset="0.760" stop-color="#c1d4f4"/><stop offset="0.800" stop-color="#b6cefa"/><stop offset="0.840" stop-color="#a9c6fd"/><stop offset="0.880" stop-color="#9dbdff"/><stop offset="0.920" stop-color="#90b2fe"/><stop offset="0.960" stop-color="#86a9fc"/><stop offset="1.000" stop-color="#7b9ff9"/></linearGradient>
<linearGradient id="gb22" gradientUnits="userSpaceOnUse" x1="254.0" x2="401.8" y1="0" y2="0"><stop offset="0.000" stop-color="#d1493f"/><stop offset="0.040" stop-color="#d65244"/><stop offset="0.080" stop-color="#da5a49"/><stop offset="0.120" stop-color="#df634e"/><stop offset="0.160" stop-color="#e36c55"/><stop offset="0.200" stop-color="#e7745b"/><stop offset="0.240" stop-color="#eb7d62"/><stop offset="0.280" stop-color="#ef886b"/><stop offset="0.320" stop-color="#f29274"/><stop offset="0.360" stop-color="#f59c7d"/><stop offset="0.400" stop-color="#f7a688"/><stop offset="0.440" stop-color="#f7b194"/><stop offset="0.480" stop-color="#f6bda2"/><stop offset="0.520" stop-color="#f4c6af"/><stop offset="0.560" stop-color="#efcebd"/><stop offset="0.600" stop-color="#e9d5cb"/><stop offset="0.640" stop-color="#e0dbd8"/><stop offset="0.680" stop-color="#d6dce4"/><stop offset="0.720" stop-color="#ccd9ed"/><stop offset="0.760" stop-color="#c0d4f5"/><stop offset="0.800" stop-color="#b5cdfa"/><stop offset="0.840" stop-color="#a7c5fe"/><stop offset="0.880" stop-color="#9bbcff"/><stop offset="0.920" stop-color="#8fb1fe"/><stop offset="0.960" stop-color="#84a7fc"/><stop offset="1.000" stop-color="#799cf8"/></linearGradient>
<linearGradient id="gb23" gradientUnits="userSpaceOnUse" x1="254.0" x2="401.8" y1="0" y2="0"><stop offset="0.000" stop-color="#d1493f"/><stop offset="0.040" stop-color="#d65244"/><stop offset="0.080" stop-color="#da5a49"/><stop offset="0.120" stop-color="#df634e"/><stop offset="0.160" stop-color="#e36c55"/><stop offset="0.200" stop-color="#e7745b"/><stop offset="0.240" stop-color="#eb7d62"/><stop offset="0.280" stop-color="#ef886b"/><stop offset="0.320" stop-color="#f29274"/><stop offset="0.360" stop-color="#f59c7d"/><stop offset="0.400" stop-color="#f7a688"/><stop offset="0.440" stop-color="#f7b194"/><stop offset="0.480" stop-color="#f6bda2"/><stop offset="0.520" stop-color="#f3c7b1"/><stop offset="0.560" stop-color="#efcebd"/><stop offset="0.600" stop-color="#e9d5cb"/><stop offset="0.640" stop-color="#dfdbd9"/><stop offset="0.680" stop-color="#d5dbe5"/><stop offset="0.720" stop-color="#cbd8ee"/><stop offset="0.760" stop-color="#bfd3f6"/><stop offset="0.800" stop-color="#b3cdfb"/><stop offset="0.840" stop-color="#a6c4fe"/><stop offset="0.880" stop-color="#98b9ff"/><stop offset="0.920" stop-color="#8db0fe"/><stop offset="0.960" stop-color="#82a6fb"/><stop offset="1.000" stop-color="#779af7"/></linearGradient>
<linearGradient id="gb24" gradientUnits="userSpaceOnUse" x1="254.0" x2="401.8" y1="0" y2="0"><stop offset="0.000" stop-color="#d1493f"/><stop offset="0.040" stop-color="#d65244"/><stop offset="0.080" stop-color="#da5a49"/><stop offset="0.120" stop-color="#df634e"/><stop offset="0.160" stop-color="#e36c55"/><stop offset="0.200" stop-color="#e7745b"/><stop offset="0.240" stop-color="#eb7d62"/><stop offset="0.280" stop-color="#ef886b"/><stop offset="0.320" stop-color="#f29274"/><stop offset="0.360" stop-color="#f59c7d"/><stop offset="0.400" stop-color="#f7a688"/><stop offset="0.440" stop-color="#f7b396"/><stop offset="0.480" stop-color="#f6bda2"/><stop offset="0.520" stop-color="#f3c7b1"/><stop offset="0.560" stop-color="#efcfbf"/><stop offset="0.600" stop-color="#e8d6cc"/><stop offset="0.640" stop-color="#dedcdb"/><stop offset="0.680" stop-color="#d4dbe6"/><stop offset="0.720" stop-color="#cad8ef"/><stop offset="0.760" stop-color="#bed2f6"/><stop offset="0.800" stop-color="#b1cbfc"/><stop offset="0.840" stop-color="#a5c3fe"/><stop offset="0.880" stop-color="#97b8ff"/><stop offset="0.920" stop-color="#8caffe"/><stop offset="0.960" stop-color="#81a4fb"/><stop offset="1.000" stop-color="#7597f6"/></linearGradient>
<linearGradient id="gb25" gradientUnits="userSpaceOnUse" x1="254.0" x2="401.8" y1="0" y2="0"><stop offset="0.000" stop-color="#d1493f"/><stop offset="0.040" stop-color="#d65244"/><stop offset="0.080" stop-color="#da5a49"/><stop offset="0.120" stop-color="#df634e"/><stop offset="0.160" stop-color="#e36c55"/><stop offset="0.200" stop-color="#e7745b"/><stop offset="0.240" stop-color="#eb7d62"/><stop offset="0.280" stop-color="#ef886b"/><stop offset="0.320" stop-color="#f29274"/><stop offset="0.360" stop-color="#f59c7d"/><stop offset="0.400" stop-color="#f7a688"/><stop offset="0.440" stop-color="#f7b396"/><stop offset="0.480" stop-color="#f6bea4"/><stop offset="0.520" stop-color="#f3c8b2"/><stop offset="0.560" stop-color="#efcfbf"/><stop offset="0.600" stop-color="#e7d7ce"/><stop offset="0.640" stop-color="#dddcdc"/><stop offset="0.680" stop-color="#d4dbe6"/><stop offset="0.720" stop-color="#c9d7f0"/><stop offset="0.760" stop-color="#bcd2f7"/><stop offset="0.800" stop-color="#afcafc"/><stop offset="0.840" stop-color="#a3c2fe"/><stop offset="0.880" stop-color="#96b7ff"/><stop offset="0.920" stop-color="#8badfd"/><stop offset="0.960" stop-color="#7ea1fa"/><stop offset="1.000" stop-color="#7396f5"/></linearGradient>
<linearGradient id="gb26" gradientUnits="userSpaceOnUse" x1="254.0" x2="401.8" y1="0" y2="0"><stop offset="0.000" stop-color="#d1493f"/><stop offset="0.040" stop-color="#d65244"/><stop offset="0.080" stop-color="#da5a49"/><stop offset="0.120" stop-color="#df634e"/><stop offset="0.160" stop-color="#e36c55"/><stop offset="0.200" stop-color="#e7745b"/><stop offset="0.240" stop-color="#eb7d62"/><stop offset="0.280" stop-color="#ef886b"/><stop offset="0.320" stop-color="#f29274"/><stop offset="0.360" stop-color="#f59c7d"/><stop offset="0.400" stop-color="#f7a889"/><stop offset="0.440" stop-color="#f7b396"/><stop offset="0.480" stop-color="#f6bea4"/><stop offset="0.520" stop-color="#f3c8b2"/><stop offset="0.560" stop-color="#eed0c0"/><stop offset="0.600" stop-color="#e6d7cf"/><stop offset="0.640" stop-color="#dddcdc"/><stop offset="0.680" stop-color="#d3dbe7"/><stop offset="0.720" stop-color="#c7d7f0"/><stop offset="0.760" stop-color="#bbd1f8"/><stop offset="0.800" stop-color="#aec9fc"/><stop offset="0.840" stop-color="#a1c0ff"/><stop offset="0.880" stop-color="#94b6ff"/><stop offset="0.920" stop-color="#89acfd"/><stop offset="0.960" stop-color="#7da0f9"/><stop offset="1.000" stop-color="#7093f3"/></linearGradient>
<linearGradient id="gb27" gradientUnits="userSpaceOnUse" x1="254.0" x2="401.8" y1="0" y2="0"><stop offset="0.000" stop-color="#d1493f"/><stop offset="0.040" stop-color="#d65244"/><stop offset="0.080" stop-color="#da5a49"/><stop offset="0.120" stop-color="#df634e"/><stop offset="0.160" stop-color="#e36c55"/><stop offset="0.200" stop-color="#e7745b"/><stop offset="0.240" stop-color="#eb7d62"/><stop offset="0.280" stop-color="#ef886b"/><stop offset="0.320" stop-color="#f29274"/><stop offset="0.360" stop-color="#f59c7d"/><stop offset="0.400" stop-color="#f7a889"/><stop offset="0.440" stop-color="#f7b396"/><stop offset="0.480" stop-color="#f6bea4"/><stop offset="0.520" stop-color="#f3c8b2"/><stop offset="0.560" stop-color="#edd1c2"/><stop offset="0.600" stop-color="#e6d7cf"/><stop offset="0.640" stop-color="#dcdddd"/><stop offset="0.680" stop-color="#d2dbe8"/><stop offset="0.720" stop-color="#c6d6f1"/><stop offset="0.760" stop-color="#bad0f8"/><stop offset="0.800" stop-color="#adc9fd"/><stop offset="0.840" stop-color="#9fbfff"/><stop offset="0.880" stop-color="#93b5fe"/><stop offset="0.920" stop-color="#86a9fc"/><stop offset="0.960" stop-color="#7b9ff9"/><stop offset="1.000" stop-color="#6f92f3"/></linearGradient>
<linearGradient id="gb28" gradientUnits="userSpaceOnUse" x1="254.0" x2="401.8" y1="0" y2="0"><stop offset="0.000" stop-color="#d24b40"/><stop offset="0.040" stop-color="#d65244"/><stop offset="0.080" stop-color="#da5a49"/><stop offset="0.120" stop-color="#df634e"/><stop offset="0.160" stop-color="#e36c55"/><stop offset="0.200" stop-color="#e7745b"/><stop offset="0.240" stop-color="#eb7d62"/><stop offset="0.280" stop-color="#ef886b"/><stop offset="0.320" stop-color="#f29274"/><stop offset="0.360" stop-color="#f59c7d"/><stop offset="0.400" stop-color="#f7a889"/><stop offset="0.440" stop-color="#f7b497"/><stop offset="0.480" stop-color="#f6bfa6"/><stop offset="0.520" stop-color="#f2c9b4"/><stop offset="0.560" stop-color="#edd1c2"/><stop offset="0.600" stop-color="#e5d8d1"/><stop offset="0.640" stop-color="#dbdcde"/><stop offset="0.680" stop-color="#d1dae9"/><stop offset="0.720" stop-color="#c5d6f2"/><stop offset="0.760" stop-color="#b9d0f9"/><stop offset="0.800" stop-color="#abc8fd"/><stop offset="0.840" stop-color="#9ebeff"/><stop offset="0.880" stop-color="#92b4fe"/><stop offset="0.920" stop-color="#85a8fc"/><stop offset="0.960" stop-color="#799cf8"/><stop offset="1.000" stop-color="#6c8ff1"/></linearGradient>
<linearGradient id="gb29" gradientUnits="userSpaceOnUse" x1="254.0" x2="401.8" y1="0" y2="0"><stop offset="0.000" stop-color="#d24b40"/><stop offset="0.040" stop-color="#d65244"/><stop offset="0.080" stop-color="#da5a49"/><stop offset="0.120" stop-color="#df634e"/><stop offset="0.160" stop-color="#e36c55"/><stop offset="0.200" stop-color="#e7745b"/><stop offset="0.240" stop-color="#eb7d62"/><stop offset="0.280" stop-color="#ef886b"/><stop offset="0.320" stop-color="#f29274"/><stop offset="0.360" stop-color="#f59c7d"/><stop offset="0.400" stop-color="#f7a889"/><stop offset="0.440" stop-color="#f7b497"/><stop offset="0.480" stop-color="#f6bfa6"/><stop offset="0.520" stop-color="#f2c9b4"/><stop offset="0.560" stop-color="#edd2c3"/><stop offset="0.600" stop-color="#e4d9d2"/><stop offset="0.640" stop-color="#dadce0"/><stop offset="0.680" stop-color="#cfdaea"/><stop offset="0.720" stop-color="#c4d5f3"/><stop offset="0.760" stop-color="#b7cff9"/><stop offset="0.800" stop-color="#aac7fd"/><stop offset="0.840" stop-color="#9dbdff"/><stop offset="0.880" stop-color="#90b2fe"/><stop offset="0.920" stop-color="#84a7fc"/><stop offset="0.960" stop-color="#779af7"/><stop offset="1.000" stop-color="#6b8df0"/></linearGradient>
<linearGradient id="gb30" gradientUnits="userSpaceOnUse" x1="254.0" x2="401.8" y1="0" y2="0"><stop offset="0.000" stop-color="#d24b40"/><stop offset="0.040" stop-color="#d65244"/><stop offset="0.080" stop-color="#da5a49"/><stop offset="0.120" stop-color="#df634e"/><stop offset="0.160" stop-color="#e36c55"/><stop offset="0.200" stop-color="#e7745b"/><stop offset="0.240" stop-color="#eb7d62"/><stop offset="0.280" stop-color="#ef886b"/><stop offset="0.320" stop-color="#f29274"/><stop offset="0.360" stop-color="#f59c7d"/><stop offset="0.400" stop-color="#f7a889"/><stop offset="0.440" stop-color="#f7b497"/><stop offset="0.480" stop-color="#f6bfa6"/><stop offset="0.520" stop-color="#f2cab5"/><stop offset="0.560" stop-color="#edd2c3"/><stop offset="0.600" stop-color="#e3d9d3"/><stop offset="0.640" stop-color="#d9dce1"/><stop offset="0.680" stop-color="#cedaeb"/><stop offset="0.720" stop-color="#c3d5f4"/><stop offset="0.760" stop-color="#b6cefa"/><stop offset="0.800" stop-color="#a9c6fd"/><stop offset="0.840" stop-color="#9bbcff"/><stop offset="0.880" stop-color="#8fb1fe"/><stop offset="0.920" stop-color="#81a4fb"/><stop offset="0.960" stop-color="#7597f6"/><stop offset="1.000" stop-color="#688aef"/></linearGradient>
<linearGradient id="gb31" gradientUnits="userSpaceOnUse" x1="254.0" x2="401.8" y1="0" y2="0"><stop offset="0.000" stop-color="#d24b40"/><stop offset="0.040" stop-color="#d65244"/><stop offset="0.080" stop-color="#da5a49"/><stop offset="0.120" stop-color="#df634e"/><stop offset="0.160" stop-color="#e36c55"/><stop offset="0.200" stop-color="#e7745b"/><stop offset="0.240" stop-color="#eb7d62"/><stop offset="0.280" stop-color="#ee8669"/><stop offset="0.320" stop-color="#f29072"/><stop offset="0.360" stop-color="#f59c7d"/><stop offset="0.400" stop-color="#f7a889"/><stop offset="0.440" stop-color="#f7b497"/><stop offset="0.480" stop-color="#f5c0a7"/><stop offset="0.520" stop-color="#f2cab5"/><stop offset="0.560" stop-color="#ecd3c5"/><stop offset="0.600" stop-color="#e3d9d3"/><stop offset="0.640" stop-color="#d8dce2"/><stop offset="0.680" stop-color="#cdd9ec"/><stop offset="0.720" stop-color="#c1d4f4"/><stop offset="0.760" stop-color="#b5cdfa"/><stop offset="0.800" stop-color="#a7c5fe"/><stop offset="0.840" stop-color="#98b9ff"/><stop offset="0.880" stop-color="#8caffe"/><stop offset="0.920" stop-color="#80a3fa"/><stop offset="0.960" stop-color="#7396f5"/><stop offset="1.000" stop-color="#6788ee"/></linearGradient>
<linearGradient id="gb32" gradientUnits="userSpaceOnUse" x1="254.0" x2="401.8" y1="0" y2="0"><stop offset="0.000" stop-color="#d24b40"/><stop offset="0.040" stop-color="#d65244"/><stop offset="0.080" stop-color="#da5a49"/><stop offset="0.120" stop-color="#df634e"/><stop offset="0.160" stop-color="#e36b54"/><stop offset="0.200" stop-color="#e7745b"/><stop offset="0.240" stop-color="#eb7d62"/><stop offset="0.280" stop-color="#ee8669"/><stop offset="0.320" stop-color="#f29072"/><stop offset="0.360" stop-color="#f59c7d"/><stop offset="0.400" stop-color="#f7a889"/><stop offset="0.440" stop-color="#f7b599"/><stop offset="0.480" stop-color="#f5c0a7"/><stop offset="0.520" stop-color="#f2cbb7"/><stop offset="0.560" stop-color="#ebd3c6"/><stop offset="0.600" stop-color="#e2dad5"/><stop offset="0.640" stop-color="#d7dce3"/><stop offset="0.680" stop-color="#ccd9ed"/><stop offset="0.720" stop-color="#c0d4f5"/><stop offset="0.760" stop-color="#b3cdfb"/><stop offset="0.800" stop-color="#a5c3fe"/><stop offset="0.840" stop-color="#97b8ff"/><stop offset="0.880" stop-color="#8badfd"/><stop offset="0.920" stop-color="#7ea1fa"/><stop offset="0.960" stop-color="#7295f4"/><stop offset="1.000" stop-color="#6485ec"/></linearGradient>
<linearGradient id="gb33" gradientUnits="userSpaceOnUse" x1="254.0" x2="401.8" y1="0" y2="0"><stop offset="0.000" stop-color="#d24b40"/><stop offset="0.040" stop-color="#d65244"/><stop offset="0.080" stop-color="#da5a49"/><stop offset="0.120" stop-color="#df634e"/><stop offset="0.160" stop-color="#e36b54"/><stop offset="0.200" stop-color="#e7745b"/><stop offset="0.240" stop-color="#eb7d62"/><stop offset="0.280" stop-color="#ee8669"/><stop offset="0.320" stop-color="#f29072"/><stop offset="0.360" stop-color="#f59c7d"/><stop offset="0.400" stop-color="#f7a889"/><stop offset="0.440" stop-color="#f7b599"/><stop offset="0.480" stop-color="#f5c1a9"/><stop offset="0.520" stop-color="#f2cbb7"/><stop offset="0.560" stop-color="#ebd3c6"/><stop offset="0.600" stop-color="#e1dad6"/><stop offset="0.640" stop-color="#d7dce3"/><stop offset="0.680" stop-color="#cbd8ee"/><stop offset="0.720" stop-color="#bfd3f6"/><stop offset="0.760" stop-color="#b2ccfb"/><stop offset="0.800" stop-color="#a3c2fe"/><stop offset="0.840" stop-color="#96b7ff"/><stop offset="0.880" stop-color="#89acfd"/><stop offset="0.920" stop-color="#7da0f9"/><stop offset="0.960" stop-color="#6f92f3"/><stop offset="1.000" stop-color="#6384eb"/></linearGradient>
<linearGradient id="gb34" gradientUnits="userSpaceOnUse" x1="254.0" x2="401.8" y1="0" y2="0"><stop offset="0.000" stop-color="#d24b40"/><stop offset="0.040" stop-color="#d65244"/><stop offset="0.080" stop-color="#da5a49"/><stop offset="0.120" stop-color="#df634e"/><stop offset="0.160" stop-color="#e36b54"/><stop offset="0.200" stop-color="#e7745b"/><stop offset="0.240" stop-color="#eb7d62"/><stop offset="0.280" stop-color="#ee8669"/><stop offset="0.320" stop-color="#f29072"/><stop offset="0.360" stop-color="#f59c7d"/><stop offset="0.400" stop-color="#f7a889"/><stop offset="0.440" stop-color="#f7b599"/><stop offset="0.480" stop-color="#f5c1a9"/><stop offset="0.520" stop-color="#f1ccb8"/><stop offset="0.560" stop-color="#ead4c8"/><stop offset="0.600" stop-color="#e0dbd8"/><stop offset="0.640" stop-color="#d6dce4"/><stop offset="0.680" stop-color="#cad8ef"/><stop offset="0.720" stop-color="#bed2f6"/><stop offset="0.760" stop-color="#afcafc"/><stop offset="0.800" stop-color="#a2c1ff"/><stop offset="0.840" stop-color="#94b6ff"/><stop offset="0.880" stop-color="#88abfd"/><stop offset="0.920" stop-color="#7a9df8"/><stop offset="0.960" stop-color="#6e90f2"/><stop offset="1.000" stop-color="#6180e9"/></linearGradient>
<linearGradient id="gb35" gradientUnits="userSpaceOnUse" x1="254.0" x2="401.8" y1="0" y2="0"><stop offset="0.000" stop-color="#d24b40"/><stop offset="0.040" stop-color="#d65244"/><stop offset="0.080" stop-color="#da5a49"/><stop offset="0.120" stop-color="#df634e"/><stop offset="0.160" stop-color="#e36b54"/><stop offset="0.200" stop-color="#e7745b"/><stop offset="0.240" stop-color="#ea7b60"/><stop offset="0.280" stop-color="#ee8669"/><stop offset="0.320" stop-color="#f29072"/><stop offset="0.360" stop-color="#f59c7d"/><stop offset="0.400" stop-color="#f7a889"/><stop offset="0.440" stop-color="#f7b599"/><stop offset="0.480" stop-color="#f5c1a9"/><stop offset="0.520" stop-color="#f1ccb8"/><stop offset="0.560" stop-color="#ead5c9"/><stop offset="0.600" stop-color="#e0dbd8"/><stop offset="0.640" stop-color="#d5dbe5"/><stop offset="0.680" stop-color="#c9d7f0"/><stop offset="0.720" stop-color="#bcd2f7"/><stop offset="0.760" stop-color="#aec9fc"/><stop offset="0.800" stop-color="#a1c0ff"/><stop offset="0.840" stop-color="#93b5fe"/><stop offset="0.880" stop-color="#85a8fc"/><stop offset="0.920" stop-color="#799cf8"/><stop offset="0.960" stop-color="#6b8df0"/><stop offset="1.000" stop-color="#5f7fe8"/></linearGradient>
<linearGradient id="gb36" gradientUnits="userSpaceOnUse" x1="254.0" x2="401.8" y1="0" y2="0"><stop offset="0.000" stop-color="#d24b40"/><stop offset="0.040" stop-color="#d65244"/><stop offset="0.080" stop-color="#da5a49"/><stop offset="0.120" stop-color="#de614d"/><stop offset="0.160" stop-color="#e36b54"/><stop offset="0.200" stop-color="#e67259"/><stop offset="0.240" stop-color="#ea7b60"/><stop offset="0.280" stop-color="#ee8669"/><stop offset="0.320" stop-color="#f29072"/><stop offset="0.360" stop-color="#f59c7d"/><stop offset="0.400" stop-color="#f7a98b"/><stop offset="0.440" stop-color="#f7b79b"/><stop offset="0.480" stop-color="#f5c2aa"/><stop offset="0.520" stop-color="#f1cdba"/><stop offset="0.560" stop-color="#ead5c9"/><stop offset="0.600" stop-color="#dfdbd9"/><stop offset="0.640" stop-color="#d4dbe6"/><stop offset="0.680" stop-color="#c7d7f0"/><stop offset="0.720" stop-color="#bbd1f8"/><stop offset="0.760" stop-color="#adc9fd"/><stop offset="0.800" stop-color="#9fbfff"/><stop offset="0.840" stop-color="#92b4fe"/><stop offset="0.880" stop-color="#84a7fc"/><stop offset="0.920" stop-color="#779af7"/><stop offset="0.960" stop-color="#6a8bef"/><stop offset="1.000" stop-color="#5d7ce6"/></linearGradient>
<linearGradient id="gb37" gradientUnits="userSpaceOnUse" x1="254.0" x2="401.8" y1="0" y2="0"><stop offset="0.000" stop-color="#d24b40"/><stop offset="0.040" stop-color="#d65244"/><stop offset="0.080" stop-color="#d95847"/><stop offset="0.120" stop-color="#de614d"/><stop offset="0.160" stop-color="#e26952"/><stop offset="0.200" stop-color="#e67259"/><stop offset="0.240" stop-color="#ea7b60"/><stop offset="0.280" stop-color="#ee8468"/><stop offset="0.320" stop-color="#f29072"/><stop offset="0.360" stop-color="#f59c7d"/><stop offset="0.400" stop-color="#f7a98b"/><stop offset="0.440" stop-color="#f7b79b"/><stop offset="0.480" stop-color="#f5c2aa"/><stop offset="0.520" stop-color="#f0cdbb"/><stop offset="0.560" stop-color="#e9d5cb"/><stop offset="0.600" stop-color="#dedcdb"/><stop offset="0.640" stop-color="#d3dbe7"/><stop offset="0.680" stop-color="#c6d6f1"/><stop offset="0.720" stop-color="#bad0f8"/><stop offset="0.760" stop-color="#abc8fd"/><stop offset="0.800" stop-color="#9ebeff"/><stop offset="0.840" stop-color="#90b2fe"/><stop offset="0.880" stop-color="#82a6fb"/><stop offset="0.920" stop-color="#7597f6"/><stop offset="0.960" stop-color="#6788ee"/><stop offset="1.000" stop-color="#5b7ae5"/></linearGradient>
<linearGradient id="gb38" gradientUnits="userSpaceOnUse" x1="254.0" x2="401.8" y1="0" y2="0"><stop offset="0.000" stop-color="#d24b40"/><stop offset="0.040" stop-color="#d65244"/><stop offset="0.080" stop-color="#d95847"/><stop offset="0.120" stop-color="#de614d"/><stop offset="0.160" stop-color="#e26952"/><stop offset="0.200" stop-color="#e67259"/><stop offset="0.240" stop-color="#e97a5f"/><stop offset="0.280" stop-color="#ee8468"/><stop offset="0.320" stop-color="#f29072"/><stop offset="0.360" stop-color="#f59c7d"/><stop offset="0.400" stop-color="#f7a98b"/><stop offset="0.440" stop-color="#f7b79b"/><stop offset="0.480" stop-color="#f5c4ac"/><stop offset="0.520" stop-color="#f0cdbb"/><stop offset="0.560" stop-color="#e8d6cc"/><stop offset="0.600" stop-color="#dddcdc"/><stop offset="0.640" stop-color="#d2dbe8"/><stop offset="0.680" stop-color="#c5d6f2"/><stop offset="0.720" stop-color="#b9d0f9"/><stop offset="0.760" stop-color="#aac7fd"/><stop offset="0.800" stop-color="#9dbdff"/><stop offset="0.840" stop-color="#8fb1fe"/><stop offset="0.880" stop-color="#81a4fb"/><stop offset="0.920" stop-color="#7396f5"/><stop offset="0.960" stop-color="#6687ed"/><stop offset="1.000" stop-color="#5977e3"/></linearGradient>
<linearGradient id="gb39" gradientUnits="userSpaceOnUse" x1="254.0" x2="401.8" y1="0" y2="0"><stop offset="0.000" stop-color="#d24b40"/><stop offset="0.040" stop-color="#d65244"/><stop offset="0.080" stop-color="#d95847"/><stop offset="0.120" stop-color="#dd5f4b"/><stop offset="0.160" stop-color="#e16751"/><stop offset="0.200" stop-color="#e57058"/><stop offset="0.240" stop-color="#e97a5f"/><stop offset="0.280" stop-color="#ee8468"/><stop offset="0.320" stop-color="#f18f71"/><stop offset="0.360" stop-color="#f59c7d"/><stop offset="0.400" stop-color="#f7a98b"/><stop offset="0.440" stop-color="#f7b79b"/><stop offset="0.480" stop-color="#f5c4ac"/><stop offset="0.520" stop-color="#efcebd"/><stop offset="0.560" stop-color="#e8d6cc"/><stop offset="0.600" stop-color="#dcdddd"/><stop offset="0.640" stop-color="#d1dae9"/><stop offset="0.680" stop-color="#c4d5f3"/><stop offset="0.720" stop-color="#b7cff9"/><stop offset="0.760" stop-color="#a9c6fd"/><stop offset="0.800" stop-color="#9bbcff"/><stop offset="0.840" stop-color="#8db0fe"/><stop offset="0.880" stop-color="#80a3fa"/><stop offset="0.920" stop-color="#7295f4"/><stop offset="0.960" stop-color="#6485ec"/><stop offset="1.000" stop-color="#5875e1"/></linearGradient>
<linearGradient id="gb40" gradientUnits="userSpaceOnUse" x1="254.0" x2="401.8" y1="0" y2="0"><stop offset="0.000" stop-color="#d24b40"/><stop offset="0.040" stop-color="#d55042"/><stop offset="0.080" stop-color="#d95847"/><stop offset="0.120" stop-color="#dd5f4b"/><stop offset="0.160" stop-color="#e16751"/><stop offset="0.200" stop-color="#e46e56"/><stop offset="0.240" stop-color="#e9785d"/><stop offset="0.280" stop-color="#ed8366"/><stop offset="0.320" stop-color="#f18f71"/><stop offset="0.360" stop-color="#f59c7d"/><stop offset="0.400" stop-color="#f7a98b"/><stop offset="0.440" stop-color="#f7b89c"/><stop offset="0.480" stop-color="#f5c4ac"/><stop offset="0.520" stop-color="#efcebd"/><stop offset="0.560" stop-color="#e7d7ce"/><stop offset="0.600" stop-color="#dcdddd"/><stop offset="0.640" stop-color="#cfdaea"/><stop offset="0.680" stop-color="#c3d5f4"/><stop offset="0.720" stop-color="#b6cefa"/><stop offset="0.760" stop-color="#a7c5fe"/><stop offset="0.800" stop-color="#9abbff"/><stop offset="0.840" stop-color="#8badfd"/><stop offset="0.880" stop-color="#7da0f9"/><stop offset="0.920" stop-color="#6f92f3"/><stop offset="0.960" stop-color="#6282ea"/><stop offset="1.000" stop-color="#5572df"/></linearGradient>
<linearGradient id="gb41" gradientUnits="userSpaceOnUse" x1="254.0" x2="401.8" y1="0" y2="0"><stop offset="0.000" stop-color="#d24b40"/><stop offset="0.040" stop-color="#d55042"/><stop offset="0.080" stop-color="#d85646"/><stop offset="0.120" stop-color="#dc5d4a"/><stop offset="0.160" stop-color="#e0654f"/><stop offset="0.200" stop-color="#e46e56"/><stop offset="0.240" stop-color="#e9785d"/><stop offset="0.280" stop-color="#ed8366"/><stop offset="0.320" stop-color="#f18f71"/><stop offset="0.360" stop-color="#f59c7d"/><stop offset="0.400" stop-color="#f7a98b"/><stop offset="0.440" stop-color="#f7b89c"/><stop offset="0.480" stop-color="#f4c5ad"/><stop offset="0.520" stop-color="#efcfbf"/><stop offset="0.560" stop-color="#e6d7cf"/><stop offset="0.600" stop-color="#dbdcde"/><stop offset="0.640" stop-color="#cfdaea"/><stop offset="0.680" stop-color="#c3d5f4"/><stop offset="0.720" stop-color="#b5cdfa"/><stop offset="0.760" stop-color="#a6c4fe"/><stop offset="0.800" stop-color="#97b8ff"/><stop offset="0.840" stop-color="#89acfd"/><stop offset="0.880" stop-color="#7b9ff9"/><stop offset="0.920" stop-color="#6e90f2"/><stop offset="0.960" stop-color="#6180e9"/><stop offset="1.000" stop-color="#5470de"/></linearGradient>
<linearGradient id="gb42" gradientUnits="userSpaceOnUse" x1="254.0" x2="401.8" y1="0" y2="0"><stop offset="0.000" stop-color="#d24b40"/><stop offset="0.040" stop-color="#d55042"/><stop offset="0.080" stop-color="#d85646"/><stop offset="0.120" stop-color="#dc5d4a"/><stop offset="0.160" stop-color="#e0654f"/><stop offset="0.200" stop-color="#e36c55"/><stop offset="0.240" stop-color="#e8765c"/><stop offset="0.280" stop-color="#ec8165"/><stop offset="0.320" stop-color="#f18d6f"/><stop offset="0.360" stop-color="#f59c7d"/><stop offset="0.400" stop-color="#f7a98b"/><stop offset="0.440" stop-color="#f7b89c"/><stop offset="0.480" stop-color="#f4c5ad"/><stop offset="0.520" stop-color="#efcfbf"/><stop offset="0.560" stop-color="#e5d8d1"/><stop offset="0.600" stop-color="#dadce0"/><stop offset="0.640" stop-color="#cedaeb"/><stop offset="0.680" stop-color="#c1d4f4"/><stop offset="0.720" stop-color="#b3cdfb"/><stop offset="0.760" stop-color="#a5c3fe"/><stop offset="0.800" stop-color="#96b7ff"/><stop offset="0.840" stop-color="#88abfd"/><stop offset="0.880" stop-color="#7a9df8"/><stop offset="0.920" stop-color="#6c8ff1"/><stop offset="0.960" stop-color="#5e7de7"/><stop offset="1.000" stop-color="#516ddb"/></linearGradient>
<linearGradient id="gb43" gradientUnits="userSpaceOnUse" x1="254.0" x2="401.8" y1="0" y2="0"><stop offset="0.000" stop-color="#d1493f"/><stop offset="0.040" stop-color="#d55042"/><stop offset="0.080" stop-color="#d75445"/><stop offset="0.120" stop-color="#da5a49"/><stop offset="0.160" stop-color="#df634e"/><stop offset="0.200" stop-color="#e36b54"/><stop offset="0.240" stop-color="#e7745b"/><stop offset="0.280" stop-color="#ec8165"/><stop offset="0.320" stop-color="#f18d6f"/><stop offset="0.360" stop-color="#f59c7d"/><stop offset="0.400" stop-color="#f7aa8c"/><stop offset="0.440" stop-color="#f7b99e"/><stop offset="0.480" stop-color="#f4c6af"/><stop offset="0.520" stop-color="#eed0c0"/><stop offset="0.560" stop-color="#e5d8d1"/><stop offset="0.600" stop-color="#d9dce1"/><stop offset="0.640" stop-color="#cdd9ec"/><stop offset="0.680" stop-color="#c0d4f5"/><stop offset="0.720" stop-color="#b2ccfb"/><stop offset="0.760" stop-color="#a3c2fe"/><stop offset="0.800" stop-color="#94b6ff"/><stop offset="0.840" stop-color="#86a9fc"/><stop offset="0.880" stop-color="#799cf8"/><stop offset="0.920" stop-color="#6a8bef"/><stop offset="0.960" stop-color="#5d7ce6"/><stop offset="1.000" stop-color="#506bda"/></linearGradient>
<linearGradient id="gb44" gradientUnits="userSpaceOnUse" x1="254.0" x2="401.8" y1="0" y2="0"><stop offset="0.000" stop-color="#d1493f"/><stop offset="0.040" stop-color="#d55042"/><stop offset="0.080" stop-color="#d75445"/><stop offset="0.120" stop-color="#da5a49"/><stop offset="0.160" stop-color="#de614d"/><stop offset="0.200" stop-color="#e36b54"/><stop offset="0.240" stop-color="#e7745b"/><stop offset="0.280" stop-color="#ec7f63"/><stop offset="0.320" stop-color="#f18d6f"/><stop offset="0.360" stop-color="#f59c7d"/><stop offset="0.400" stop-color="#f7aa8c"/><stop offset="0.440" stop-color="#f7b99e"/><stop offset="0.480" stop-color="#f4c6af"/><stop offset="0.520" stop-color="#eed0c0"/><stop offset="0.560" stop-color="#e4d9d2"/><stop offset="0.600" stop-color="#d8dce2"/><stop offset="0.640" stop-color="#ccd9ed"/><stop offset="0.680" stop-color="#bfd3f6"/><stop offset="0.720" stop-color="#b1cbfc"/><stop offset="0.760" stop-color="#a2c1ff"/><stop offset="0.800" stop-color="#93b5fe"/><stop offset="0.840" stop-color="#85a8fc"/><stop offset="0.880" stop-color="#779af7"/><stop offset="0.920" stop-color="#688aef"/><stop offset="0.960" stop-color="#5b7ae5"/><stop offset="1.000" stop-color="#4e68d8"/></linearGradient>
<linearGradient id="gb45" gradientUnits="userSpaceOnUse" x1="254.0" x2="401.8" y1="0" y2="0"><stop offset="0.000" stop-color="#d1493f"/><stop offset="0.040" stop-color="#d44e41"/><stop offset="0.080" stop-color="#d75445"/><stop offset="0.120" stop-color="#d95847"/><stop offset="0.160" stop-color="#de614d"/><stop offset="0.200" stop-color="#e26952"/><stop offset="0.240" stop-color="#e67259"/><stop offset="0.280" stop-color="#eb7d62"/><stop offset="0.320" stop-color="#f08b6e"/><stop offset="0.360" stop-color="#f49a7b"/><stop offset="0.400" stop-color="#f7aa8c"/><stop offset="0.440" stop-color="#f7b99e"/><stop offset="0.480" stop-color="#f3c7b1"/><stop offset="0.520" stop-color="#edd1c2"/><stop offset="0.560" stop-color="#e3d9d3"/><stop offset="0.600" stop-color="#d8dce2"/><stop offset="0.640" stop-color="#cbd8ee"/><stop offset="0.680" stop-color="#bed2f6"/><stop offset="0.720" stop-color="#afcafc"/><stop offset="0.760" stop-color="#a1c0ff"/><stop offset="0.800" stop-color="#92b4fe"/><stop offset="0.840" stop-color="#84a7fc"/><stop offset="0.880" stop-color="#7597f6"/><stop offset="0.920" stop-color="#6788ee"/><stop offset="0.960" stop-color="#5977e3"/><stop offset="1.000" stop-color="#4c66d6"/></linearGradient>
<linearGradient id="gb46" gradientUnits="userSpaceOnUse" x1="254.0" x2="401.8" y1="0" y2="0"><stop offset="0.000" stop-color="#d1493f"/><stop offset="0.040" stop-color="#d44e41"/><stop offset="0.080" stop-color="#d65244"/><stop offset="0.120" stop-color="#d95847"/><stop offset="0.160" stop-color="#dd5f4b"/><stop offset="0.200" stop-color="#e16751"/><stop offset="0.240" stop-color="#e57058"/><stop offset="0.280" stop-color="#eb7d62"/><stop offset="0.320" stop-color="#f08b6e"/><stop offset="0.360" stop-color="#f49a7b"/><stop offset="0.400" stop-color="#f7aa8c"/><stop offset="0.440" stop-color="#f7b99e"/><stop offset="0.480" stop-color="#f3c7b1"/><stop offset="0.520" stop-color="#edd2c3"/><stop offset="0.560" stop-color="#e3d9d3"/><stop offset="0.600" stop-color="#d7dce3"/><stop offset="0.640" stop-color="#cad8ef"/><stop offset="0.680" stop-color="#bcd2f7"/><stop offset="0.720" stop-color="#aec9fc"/><stop offset="0.760" stop-color="#9fbfff"/><stop offset="0.800" stop-color="#90b2fe"/><stop offset="0.840" stop-color="#82a6fb"/><stop offset="0.880" stop-color="#7396f5"/><stop offset="0.920" stop-color="#6687ed"/><stop offset="0.960" stop-color="#5875e1"/><stop offset="1.000" stop-color="#4b64d5"/></linearGradient>
<linearGradient id="gb47" gradientUnits="userSpaceOnUse" x1="254.0" x2="401.8" y1="0" y2="0"><stop offset="0.000" stop-color="#d1493f"/><stop offset="0.040" stop-color="#d44e41"/><stop offset="0.080" stop-color="#d65244"/><stop offset="0.120" stop-color="#d85646"/><stop offset="0.160" stop-color="#dc5d4a"/><stop offset="0.200" stop-color="#e0654f"/><stop offset="0.240" stop-color="#e46e56"/><stop offset="0.280" stop-color="#ea7b60"/><stop offset="0.320" stop-color="#f08a6c"/><stop offset="0.360" stop-color="#f49a7b"/><stop offset="0.400" stop-color="#f7aa8c"/><stop offset="0.440" stop-color="#f7ba9f"/><stop offset="0.480" stop-color="#f3c8b2"/><stop offset="0.520" stop-color="#edd2c3"/><stop offset="0.560" stop-color="#e2dad5"/><stop offset="0.600" stop-color="#d6dce4"/><stop offset="0.640" stop-color="#c9d7f0"/><stop offset="0.680" stop-color="#bbd1f8"/><stop offset="0.720" stop-color="#adc9fd"/><stop offset="0.760" stop-color="#9ebeff"/><stop offset="0.800" stop-color="#8fb1fe"/><stop offset="0.840" stop-color="#81a4fb"/><stop offset="0.880" stop-color="#7295f4"/><stop offset="0.920" stop-color="#6485ec"/><stop offset="0.960" stop-color="#5673e0"/><stop offset="1.000" stop-color="#4961d2"/></linearGradient>
<linearGradient id="gb48" gradientUnits="userSpaceOnUse" x1="254.0" x2="401.8" y1="0" y2="0"><stop offset="0.000" stop-color="#d1493f"/><stop offset="0.040" stop-color="#d24b40"/><stop offset="0.080" stop-color="#d55042"/><stop offset="0.120" stop-color="#d75445"/><stop offset="0.160" stop-color="#da5a49"/><stop offset="0.200" stop-color="#df634e"/><stop offset="0.240" stop-color="#e36c55"/><stop offset="0.280" stop-color="#e97a5f"/><stop offset="0.320" stop-color="#f08a6c"/><stop offset="0.360" stop-color="#f49a7b"/><stop offset="0.400" stop-color="#f7aa8c"/><stop offset="0.440" stop-color="#f7ba9f"/><stop offset="0.480" stop-color="#f3c8b2"/><stop offset="0.520" stop-color="#ecd3c5"/><stop offset="0.560" stop-color="#e1dad6"/><stop offset="0.600" stop-color="#d5dbe5"/><stop offset="0.640" stop-color="#c7d7f0"/><stop offset="0.680" stop-color="#bad0f8"/><stop offset="0.720" stop-color="#abc8fd"/><stop offset="0.760" stop-color="#9dbdff"/><stop offset="0.800" stop-color="#8db0fe"/><stop offset="0.840" stop-color="#80a3fa"/><stop offset="0.880" stop-color="#7093f3"/><stop offset="0.920" stop-color="#6282ea"/><stop offset="0.960" stop-color="#5572df"/><stop offset="1.000" stop-color="#485fd1"/></linearGradient>
<linearGradient id="gb49" gradientUnits="userSpaceOnUse" x1="254.0" x2="401.8" y1="0" y2="0"><stop offset="0.000" stop-color="#d1493f"/><stop offset="0.040" stop-color="#d24b40"/><stop offset="0.080" stop-color="#d55042"/><stop offset="0.120" stop-color="#d75445"/><stop offset="0.160" stop-color="#da5a49"/><stop offset="0.200" stop-color="#de614d"/><stop offset="0.240" stop-color="#e36c55"/><stop offset="0.280" stop-color="#e97a5f"/><stop offset="0.320" stop-color="#f08a6c"/><stop offset="0.360" stop-color="#f49a7b"/><stop offset="0.400" stop-color="#f7aa8c"/><stop offset="0.440" stop-color="#f7ba9f"/><stop offset="0.480" stop-color="#f3c8b2"/><stop offset="0.520" stop-color="#ecd3c5"/><stop offset="0.560" stop-color="#e0dbd8"/><stop offset="0.600" stop-color="#d4dbe6"/><stop offset="0.640" stop-color="#c6d6f1"/><stop offset="0.680" stop-color="#b9d0f9"/><stop offset="0.720" stop-color="#aac7fd"/><stop offset="0.760" stop-color="#9bbcff"/><stop offset="0.800" stop-color="#8caffe"/><stop offset="0.840" stop-color="#7da0f9"/><stop offset="0.880" stop-color="#6f92f3"/><stop offset="0.920" stop-color="#6180e9"/><stop offset="0.960" stop-color="#5470de"/><stop offset="1.000" stop-color="#465ecf"/></linearGradient>
<linearGradient id="gb50" gradientUnits="userSpaceOnUse" x1="254.0" x2="401.8" y1="0" y2="0"><stop offset="0.000" stop-color="#d1493f"/><stop offset="0.040" stop-color="#d24b40"/><stop offset="0.080" stop-color="#d44e41"/><stop offset="0.120" stop-color="#d65244"/><stop offset="0.160" stop-color="#d95847"/><stop offset="0.200" stop-color="#de614d"/><stop offset="0.240" stop-color="#e36b54"/><stop offset="0.280" stop-color="#e9785d"/><stop offset="0.320" stop-color="#ef886b"/><stop offset="0.360" stop-color="#f49a7b"/><stop offset="0.400" stop-color="#f7ac8e"/><stop offset="0.440" stop-color="#f7bca1"/><stop offset="0.480" stop-color="#f2c9b4"/><stop offset="0.520" stop-color="#ebd3c6"/><stop offset="0.560" stop-color="#e0dbd8"/><stop offset="0.600" stop-color="#d4dbe6"/><stop offset="0.640" stop-color="#c5d6f2"/><stop offset="0.680" stop-color="#b7cff9"/><stop offset="0.720" stop-color="#a9c6fd"/><stop offset="0.760" stop-color="#9abbff"/><stop offset="0.800" stop-color="#8badfd"/><stop offset="0.840" stop-color="#7b9ff9"/><stop offset="0.880" stop-color="#6e90f2"/><stop offset="0.920" stop-color="#5f7fe8"/><stop offset="0.960" stop-color="#516ddb"/><stop offset="1.000" stop-color="#455cce"/></linearGradient>
<linearGradient id="gb51" gradientUnits="userSpaceOnUse" x1="254.0" x2="401.8" y1="0" y2="0"><stop offset="0.000" stop-color="#d1493f"/><stop offset="0.040" stop-color="#d24b40"/><stop offset="0.080" stop-color="#d44e41"/><stop offset="0.120" stop-color="#d65244"/><stop offset="0.160" stop-color="#d85646"/><stop offset="0.200" stop-color="#dd5f4b"/><stop offset="0.240" stop-color="#e26952"/><stop offset="0.280" stop-color="#e9785d"/><stop offset="0.320" stop-color="#ef886b"/><stop offset="0.360" stop-color="#f49a7b"/><stop offset="0.400" stop-color="#f7ac8e"/><stop offset="0.440" stop-color="#f7bca1"/><stop offset="0.480" stop-color="#f2c9b4"/><stop offset="0.520" stop-color="#ead4c8"/><stop offset="0.560" stop-color="#dfdbd9"/><stop offset="0.600" stop-color="#d3dbe7"/><stop offset="0.640" stop-color="#c5d6f2"/><stop offset="0.680" stop-color="#b6cefa"/><stop offset="0.720" stop-color="#a7c5fe"/><stop offset="0.760" stop-color="#98b9ff"/><stop offset="0.800" stop-color="#89acfd"/><stop offset="0.840" stop-color="#7a9df8"/><stop offset="0.880" stop-color="#6c8ff1"/><stop offset="0.920" stop-color="#5e7de7"/><stop offset="0.960" stop-color="#506bda"/><stop offset="1.000" stop-color="#445acc"/></linearGradient>
<linearGradient id="gb52" gradientUnits="userSpaceOnUse" x1="254.0" x2="401.8" y1="0" y2="0"><stop offset="0.000" stop-color="#d1493f"/><stop offset="0.040" stop-color="#d24b40"/><stop offset="0.080" stop-color="#d24b40"/><stop offset="0.120" stop-color="#d55042"/><stop offset="0.160" stop-color="#d85646"/><stop offset="0.200" stop-color="#dc5d4a"/><stop offset="0.240" stop-color="#e26952"/><stop offset="0.280" stop-color="#e8765c"/><stop offset="0.320" stop-color="#ef886b"/><stop offset="0.360" stop-color="#f49a7b"/><stop offset="0.400" stop-color="#f7ac8e"/><stop offset="0.440" stop-color="#f7bca1"/><stop offset="0.480" stop-color="#f2cab5"/><stop offset="0.520" stop-color="#ead4c8"/><stop offset="0.560" stop-color="#dedcdb"/><stop offset="0.600" stop-color="#d2dbe8"/><stop offset="0.640" stop-color="#c4d5f3"/><stop offset="0.680" stop-color="#b5cdfa"/><stop offset="0.720" stop-color="#a6c4fe"/><stop offset="0.760" stop-color="#97b8ff"/><stop offset="0.800" stop-color="#88abfd"/><stop offset="0.840" stop-color="#799cf8"/><stop offset="0.880" stop-color="#6b8df0"/><stop offset="0.920" stop-color="#5d7ce6"/><stop offset="0.960" stop-color="#4f69d9"/><stop offset="1.000" stop-color="#4257c9"/></linearGradient>
<linearGradient id="gb53" gradientUnits="userSpaceOnUse" x1="254.0" x2="401.8" y1="0" y2="0"><stop offset="0.000" stop-color="#d1493f"/><stop offset="0.040" stop-color="#d1493f"/><stop offset="0.080" stop-color="#d24b40"/><stop offset="0.120" stop-color="#d44e41"/><stop offset="0.160" stop-color="#d75445"/><stop offset="0.200" stop-color="#dc5d4a"/><stop offset="0.240" stop-color="#e16751"/><stop offset="0.280" stop-color="#e8765c"/><stop offset="0.320" stop-color="#ef886b"/><stop offset="0.360" stop-color="#f49a7b"/><stop offset="0.400" stop-color="#f7ac8e"/><stop offset="0.440" stop-color="#f6bda2"/><stop offset="0.480" stop-color="#f2cab5"/><stop offset="0.520" stop-color="#ead5c9"/><stop offset="0.560" stop-color="#dedcdb"/><stop offset="0.600" stop-color="#d1dae9"/><stop offset="0.640" stop-color="#c3d5f4"/><stop offset="0.680" stop-color="#b5cdfa"/><stop offset="0.720" stop-color="#a5c3fe"/><stop offset="0.760" stop-color="#96b7ff"/><stop offset="0.800" stop-color="#86a9fc"/><stop offset="0.840" stop-color="#779af7"/><stop offset="0.880" stop-color="#6a8bef"/><stop offset="0.920" stop-color="#5b7ae5"/><stop offset="0.960" stop-color="#4e68d8"/><stop offset="1.000" stop-color="#4055c8"/></linearGradient>
<linearGradient id="gb54" gradientUnits="userSpaceOnUse" x1="254.0" x2="401.8" y1="0" y2="0"><stop offset="0.000" stop-color="#d1493f"/><stop offset="0.040" stop-color="#d1493f"/><stop offset="0.080" stop-color="#d24b40"/><stop offset="0.120" stop-color="#d44e41"/><stop offset="0.160" stop-color="#d65244"/><stop offset="0.200" stop-color="#da5a49"/><stop offset="0.240" stop-color="#e16751"/><stop offset="0.280" stop-color="#e7745b"/><stop offset="0.320" stop-color="#ee8669"/><stop offset="0.360" stop-color="#f49a7b"/><stop offset="0.400" stop-color="#f7ac8e"/><stop offset="0.440" stop-color="#f6bda2"/><stop offset="0.480" stop-color="#f2cbb7"/><stop offset="0.520" stop-color="#ead5c9"/><stop offset="0.560" stop-color="#dddcdc"/><stop offset="0.600" stop-color="#cfdaea"/><stop offset="0.640" stop-color="#c1d4f4"/><stop offset="0.680" stop-color="#b3cdfb"/><stop offset="0.720" stop-color="#a3c2fe"/><stop offset="0.760" stop-color="#94b6ff"/><stop offset="0.800" stop-color="#85a8fc"/><stop offset="0.840" stop-color="#779af7"/><stop offset="0.880" stop-color="#688aef"/><stop offset="0.920" stop-color="#5a78e4"/><stop offset="0.960" stop-color="#4c66d6"/><stop offset="1.000" stop-color="#3f53c6"/></linearGradient>
<linearGradient id="gb55" gradientUnits="userSpaceOnUse" x1="254.0" x2="401.8" y1="0" y2="0"><stop offset="0.000" stop-color="#d1493f"/><stop offset="0.040" stop-color="#d1493f"/><stop offset="0.080" stop-color="#d1493f"/><stop offset="0.120" stop-color="#d24b40"/><stop offset="0.160" stop-color="#d65244"/><stop offset="0.200" stop-color="#d95847"/><stop offset="0.240" stop-color="#e0654f"/><stop offset="0.280" stop-color="#e7745b"/><stop offset="0.320" stop-color="#ee8669"/><stop offset="0.360" stop-color="#f49a7b"/><stop offset="0.400" stop-color="#f7ad90"/><stop offset="0.440" stop-color="#f6bda2"/><stop offset="0.480" stop-color="#f2cbb7"/><stop offset="0.520" stop-color="#e9d5cb"/><stop offset="0.560" stop-color="#dcdddd"/><stop offset="0.600" stop-color="#cedaeb"/><stop offset="0.640" stop-color="#c0d4f5"/><stop offset="0.680" stop-color="#b2ccfb"/><stop offset="0.720" stop-color="#a2c1ff"/><stop offset="0.760" stop-color="#93b5fe"/><stop offset="0.800" stop-color="#84a7fc"/><stop offset="0.840" stop-color="#7699f6"/><stop offset="0.880" stop-color="#6788ee"/><stop offset="0.920" stop-color="#5977e3"/><stop offset="0.960" stop-color="#4b64d5"/><stop offset="1.000" stop-color="#3e51c5"/></linearGradient>
<linearGradient id="gb56" gradientUnits="userSpaceOnUse" x1="254.0" x2="401.8" y1="0" y2="0"><stop offset="0.000" stop-color="#d0473d"/><stop offset="0.040" stop-color="#d1493f"/><stop offset="0.080" stop-color="#d1493f"/><stop offset="0.120" stop-color="#d24b40"/><stop offset="0.160" stop-color="#d55042"/><stop offset="0.200" stop-color="#d85646"/><stop offset="0.240" stop-color="#df634e"/><stop offset="0.280" stop-color="#e67259"/><stop offset="0.320" stop-color="#ee8669"/><stop offset="0.360" stop-color="#f49a7b"/><stop offset="0.400" stop-color="#f7ad90"/><stop offset="0.440" stop-color="#f6bea4"/><stop offset="0.480" stop-color="#f1ccb8"/><stop offset="0.520" stop-color="#e8d6cc"/><stop offset="0.560" stop-color="#dbdcde"/><stop offset="0.600" stop-color="#cedaeb"/><stop offset="0.640" stop-color="#bfd3f6"/><stop offset="0.680" stop-color="#b1cbfc"/><stop offset="0.720" stop-color="#a1c0ff"/><stop offset="0.760" stop-color="#92b4fe"/><stop offset="0.800" stop-color="#84a7fc"/><stop offset="0.840" stop-color="#7597f6"/><stop offset="0.880" stop-color="#6687ed"/><stop offset="0.920" stop-color="#5875e1"/><stop offset="0.960" stop-color="#4a63d3"/><stop offset="1.000" stop-color="#3e51c5"/></linearGradient>
<linearGradient id="gb57" gradientUnits="userSpaceOnUse" x1="254.0" x2="401.8" y1="0" y2="0"><stop offset="0.000" stop-color="#d0473d"/><stop offset="0.040" stop-color="#d0473d"/><stop offset="0.080" stop-color="#d0473d"/><stop offset="0.120" stop-color="#d1493f"/><stop offset="0.160" stop-color="#d44e41"/><stop offset="0.200" stop-color="#d85646"/><stop offset="0.240" stop-color="#de614d"/><stop offset="0.280" stop-color="#e67259"/><stop offset="0.320" stop-color="#ee8468"/><stop offset="0.360" stop-color="#f49a7b"/><stop offset="0.400" stop-color="#f7ad90"/><stop offset="0.440" stop-color="#f6bea4"/><stop offset="0.480" stop-color="#f1ccb8"/><stop offset="0.520" stop-color="#e8d6cc"/><stop offset="0.560" stop-color="#dbdcde"/><stop offset="0.600" stop-color="#cdd9ec"/><stop offset="0.640" stop-color="#bfd3f6"/><stop offset="0.680" stop-color="#afcafc"/><stop offset="0.720" stop-color="#a1c0ff"/><stop offset="0.760" stop-color="#90b2fe"/><stop offset="0.800" stop-color="#82a6fb"/><stop offset="0.840" stop-color="#7396f5"/><stop offset="0.880" stop-color="#6485ec"/><stop offset="0.920" stop-color="#5673e0"/><stop offset="0.960" stop-color="#4a63d3"/><stop offset="1.000" stop-color="#3d50c3"/></linearGradient>
<linearGradient id="gb58" gradientUnits="userSpaceOnUse" x1="254.0" x2="401.8" y1="0" y2="0"><stop offset="0.000" stop-color="#d0473d"/><stop offset="0.040" stop-color="#d0473d"/><stop offset="0.080" stop-color="#d0473d"/><stop offset="0.120" stop-color="#d0473d"/><stop offset="0.160" stop-color="#d24b40"/><stop offset="0.200" stop-color="#d75445"/><stop offset="0.240" stop-color="#de614d"/><stop offset="0.280" stop-color="#e57058"/><stop offset="0.320" stop-color="#ee8468"/><stop offset="0.360" stop-color="#f49a7b"/><stop offset="0.400" stop-color="#f7ad90"/><stop offset="0.440" stop-color="#f6bea4"/><stop offset="0.480" stop-color="#f1cdba"/><stop offset="0.520" stop-color="#e7d7ce"/><stop offset="0.560" stop-color="#dadce0"/><stop offset="0.600" stop-color="#ccd9ed"/><stop offset="0.640" stop-color="#bed2f6"/><stop offset="0.680" stop-color="#aec9fc"/><stop offset="0.720" stop-color="#9fbfff"/><stop offset="0.760" stop-color="#90b2fe"/><stop offset="0.800" stop-color="#81a4fb"/><stop offset="0.840" stop-color="#7295f4"/><stop offset="0.880" stop-color="#6384eb"/><stop offset="0.920" stop-color="#5673e0"/><stop offset="0.960" stop-color="#4961d2"/><stop offset="1.000" stop-color="#3c4ec2"/></linearGradient>
<linearGradient id="gb59" gradientUnits="userSpaceOnUse" x1="254.0" x2="401.8" y1="0" y2="0"><stop offset="0.000" stop-color="#d0473d"/><stop offset="0.040" stop-color="#d0473d"/><stop offset="0.080" stop-color="#cf453c"/><stop offset="0.120" stop-color="#d0473d"/><stop offset="0.160" stop-color="#d1493f"/><stop offset="0.200" stop-color="#d65244"/><stop offset="0.240" stop-color="#dd5f4b"/><stop offset="0.280" stop-color="#e46e56"/><stop offset="0.320" stop-color="#ee8468"/><stop offset="0.360" stop-color="#f49a7b"/><stop offset="0.400" stop-color="#f7ad90"/><stop offset="0.440" stop-color="#f6bfa6"/><stop offset="0.480" stop-color="#f1cdba"/><stop offset="0.520" stop-color="#e6d7cf"/><stop offset="0.560" stop-color="#d9dce1"/><stop offset="0.600" stop-color="#cbd8ee"/><stop offset="0.640" stop-color="#bcd2f7"/><stop offset="0.680" stop-color="#adc9fd"/><stop offset="0.720" stop-color="#9ebeff"/><stop offset="0.760" stop-color="#8fb1fe"/><stop offset="0.800" stop-color="#80a3fa"/><stop offset="0.840" stop-color="#7093f3"/><stop offset="0.880" stop-color="#6384eb"/><stop offset="0.920" stop-color="#5572df"/><stop offset="0.960" stop-color="#485fd1"/><stop offset="1.000" stop-color="#3b4cc0"/></linearGradient>
<linearGradient id="gb60" gradientUnits="userSpaceOnUse" x1="254.0" x2="401.8" y1="0" y2="0"><stop offset="0.000" stop-color="#d0473d"/><stop offset="0.040" stop-color="#cf453c"/><stop offset="0.080" stop-color="#cf453c"/><stop offset="0.120" stop-color="#cf453c"/><stop offset="0.160" stop-color="#d0473d"/><stop offset="0.200" stop-color="#d55042"/><stop offset="0.240" stop-color="#dc5d4a"/><stop offset="0.280" stop-color="#e46e56"/><stop offset="0.320" stop-color="#ed8366"/><stop offset="0.360" stop-color="#f49a7b"/><stop offset="0.400" stop-color="#f7af91"/><stop offset="0.440" stop-color="#f6bfa6"/><stop offset="0.480" stop-color="#f0cdbb"/><stop offset="0.520" stop-color="#e6d7cf"/><stop offset="0.560" stop-color="#d9dce1"/><stop offset="0.600" stop-color="#cad8ef"/><stop offset="0.640" stop-color="#bbd1f8"/><stop offset="0.680" stop-color="#adc9fd"/><stop offset="0.720" stop-color="#9dbdff"/><stop offset="0.760" stop-color="#8db0fe"/><stop offset="0.800" stop-color="#7ea1fa"/><stop offset="0.840" stop-color="#7093f3"/><stop offset="0.880" stop-color="#6282ea"/><stop offset="0.920" stop-color="#5470de"/><stop offset="0.960" stop-color="#465ecf"/><stop offset="1.000" stop-color="#3b4cc0"/></linearGradient>
<linearGradient id="gb61" gradientUnits="userSpaceOnUse" x1="254.0" x2="401.8" y1="0" y2="0"><stop offset="0.000" stop-color="#d0473d"/><stop offset="0.040" stop-color="#cf453c"/><stop offset="0.080" stop-color="#cd423b"/><stop offset="0.120" stop-color="#cd423b"/><stop offset="0.160" stop-color="#cf453c"/><stop offset="0.200" stop-color="#d44e41"/><stop offset="0.240" stop-color="#da5a49"/><stop offset="0.280" stop-color="#e36c55"/><stop offset="0.320" stop-color="#ed8366"/><stop offset="0.360" stop-color="#f49a7b"/><stop offset="0.400" stop-color="#f7af91"/><stop offset="0.440" stop-color="#f5c0a7"/><stop offset="0.480" stop-color="#f0cdbb"/><stop offset="0.520" stop-color="#e5d8d1"/><stop offset="0.560" stop-color="#d8dce2"/><stop offset="0.600" stop-color="#c9d7f0"/><stop offset="0.640" stop-color="#bbd1f8"/><stop offset="0.680" stop-color="#abc8fd"/><stop offset="0.720" stop-color="#9bbcff"/><stop offset="0.760" stop-color="#8caffe"/><stop offset="0.800" stop-color="#7ea1fa"/><stop offset="0.840" stop-color="#6f92f3"/><stop offset="0.880" stop-color="#6180e9"/><stop offset="0.920" stop-color="#536edd"/><stop offset="0.960" stop-color="#465ecf"/><stop offset="1.000" stop-color="#3b4cc0"/></linearGradient>
<linearGradient id="gb62" gradientUnits="userSpaceOnUse" x1="254.0" x2="401.8" y1="0" y2="0"><stop offset="0.000" stop-color="#d0473d"/><stop offset="0.040" stop-color="#cf453c"/><stop offset="0.080" stop-color="#cd423b"/><stop offset="0.120" stop-color="#cc403a"/><stop offset="0.160" stop-color="#cd423b"/><stop offset="0.200" stop-color="#d1493f"/><stop offset="0.240" stop-color="#d95847"/><stop offset="0.280" stop-color="#e36b54"/><stop offset="0.320" stop-color="#ed8366"/><stop offset="0.360" stop-color="#f49a7b"/><stop offset="0.400" stop-color="#f7af91"/><stop offset="0.440" stop-color="#f5c0a7"/><stop offset="0.480" stop-color="#efcebd"/><stop offset="0.520" stop-color="#e5d8d1"/><stop offset="0.560" stop-color="#d7dce3"/><stop offset="0.600" stop-color="#c9d7f0"/><stop offset="0.640" stop-color="#bad0f8"/><stop offset="0.680" stop-color="#aac7fd"/><stop offset="0.720" stop-color="#9abbff"/><stop offset="0.760" stop-color="#8badfd"/><stop offset="0.800" stop-color="#7da0f9"/><stop offset="0.840" stop-color="#6e90f2"/><stop offset="0.880" stop-color="#6180e9"/><stop offset="0.920" stop-color="#536edd"/><stop offset="0.960" stop-color="#455cce"/><stop offset="1.000" stop-color="#3b4cc0"/></linearGradient>
<linearGradient id="gb63" gradientUnits="userSpaceOnUse" x1="254.0" x2="401.8" y1="0" y2="0"><stop offset="0.000" stop-color="#d0473d"/><stop offset="0.040" stop-color="#cf453c"/><stop offset="0.080" stop-color="#cc403a"/><stop offset="0.120" stop-color="#cb3e38"/><stop offset="0.160" stop-color="#cc403a"/><stop offset="0.200" stop-color="#d0473d"/><stop offset="0.240" stop-color="#d85646"/><stop offset="0.280" stop-color="#e36b54"/><stop offset="0.320" stop-color="#ec8165"/><stop offset="0.360" stop-color="#f49a7b"/><stop offset="0.400" stop-color="#f7af91"/><stop offset="0.440" stop-color="#f5c0a7"/><stop offset="0.480" stop-color="#efcebd"/><stop offset="0.520" stop-color="#e4d9d2"/><stop offset="0.560" stop-color="#d6dce4"/><stop offset="0.600" stop-color="#c7d7f0"/><stop offset="0.640" stop-color="#b9d0f9"/><stop offset="0.680" stop-color="#a9c6fd"/><stop offset="0.720" stop-color="#98b9ff"/><stop offset="0.760" stop-color="#8badfd"/><stop offset="0.800" stop-color="#7b9ff9"/><stop offset="0.840" stop-color="#6e90f2"/><stop offset="0.880" stop-color="#5f7fe8"/><stop offset="0.920" stop-color="#516ddb"/><stop offset="0.960" stop-color="#455cce"/><stop offset="1.000" stop-color="#3b4cc0"/></linearGradient>
<linearGradient id="gb64" gradientUnits="userSpaceOnUse" x1="254.0" x2="401.8" y1="0" y2="0"><stop offset="0.000" stop-color="#d0473d"/><stop offset="0.040" stop-color="#cf453c"/><stop offset="0.080" stop-color="#cc403a"/><stop offset="0.120" stop-color="#cb3e38"/><stop offset="0.160" stop-color="#cb3e38"/><stop offset="0.200" stop-color="#cf453c"/><stop offset="0.240" stop-color="#d65244"/><stop offset="0.280" stop-color="#e26952"/><stop offset="0.320" stop-color="#ec8165"/><stop offset="0.360" stop-color="#f49a7b"/><stop offset="0.400" stop-color="#f7b093"/><stop offset="0.440" stop-color="#f5c1a9"/><stop offset="0.480" stop-color="#efcfbf"/><stop offset="0.520" stop-color="#e3d9d3"/><stop offset="0.560" stop-color="#d6dce4"/><stop offset="0.600" stop-color="#c6d6f1"/><stop offset="0.640" stop-color="#b7cff9"/><stop offset="0.680" stop-color="#a7c5fe"/><stop offset="0.720" stop-color="#98b9ff"/><stop offset="0.760" stop-color="#89acfd"/><stop offset="0.800" stop-color="#7b9ff9"/><stop offset="0.840" stop-color="#6c8ff1"/><stop offset="0.880" stop-color="#5e7de7"/><stop offset="0.920" stop-color="#516ddb"/><stop offset="0.960" stop-color="#445acc"/><stop offset="1.000" stop-color="#3b4cc0"/></linearGradient>
<linearGradient id="gb65" gradientUnits="userSpaceOnUse" x1="254.0" x2="401.8" y1="0" y2="0"><stop offset="0.000" stop-color="#d1493f"/><stop offset="0.040" stop-color="#cf453c"/><stop offset="0.080" stop-color="#cc403a"/><stop offset="0.120" stop-color="#ca3b37"/><stop offset="0.160" stop-color="#c83836"/><stop offset="0.200" stop-color="#cd423b"/><stop offset="0.240" stop-color="#d55042"/><stop offset="0.280" stop-color="#e16751"/><stop offset="0.320" stop-color="#ec8165"/><stop offset="0.360" stop-color="#f49a7b"/><stop offset="0.400" stop-color="#f7b093"/><stop offset="0.440" stop-color="#f5c1a9"/><stop offset="0.480" stop-color="#efcfbf"/><stop offset="0.520" stop-color="#e3d9d3"/><stop offset="0.560" stop-color="#d5dbe5"/><stop offset="0.600" stop-color="#c5d6f2"/><stop offset="0.640" stop-color="#b6cefa"/><stop offset="0.680" stop-color="#a7c5fe"/><stop offset="0.720" stop-color="#97b8ff"/><stop offset="0.760" stop-color="#88abfd"/><stop offset="0.800" stop-color="#7a9df8"/><stop offset="0.840" stop-color="#6b8df0"/><stop offset="0.880" stop-color="#5e7de7"/><stop offset="0.920" stop-color="#506bda"/><stop offset="0.960" stop-color="#445acc"/><stop offset="1.000" stop-color="#3b4cc0"/></linearGradient>
<linearGradient id="gb66" gradientUnits="userSpaceOnUse" x1="254.0" x2="401.8" y1="0" y2="0"><stop offset="0.000" stop-color="#d1493f"/><stop offset="0.040" stop-color="#cf453c"/><stop offset="0.080" stop-color="#cc403a"/><stop offset="0.120" stop-color="#c83836"/><stop offset="0.160" stop-color="#c73635"/><stop offset="0.200" stop-color="#cc403a"/><stop offset="0.240" stop-color="#d44e41"/><stop offset="0.280" stop-color="#e0654f"/><stop offset="0.320" stop-color="#ec7f63"/><stop offset="0.360" stop-color="#f49a7b"/><stop offset="0.400" stop-color="#f7b093"/><stop offset="0.440" stop-color="#f5c1a9"/><stop offset="0.480" stop-color="#eed0c0"/><stop offset="0.520" stop-color="#e2dad5"/><stop offset="0.560" stop-color="#d4dbe6"/><stop offset="0.600" stop-color="#c5d6f2"/><stop offset="0.640" stop-color="#b6cefa"/><stop offset="0.680" stop-color="#a6c4fe"/><stop offset="0.720" stop-color="#96b7ff"/><stop offset="0.760" stop-color="#88abfd"/><stop offset="0.800" stop-color="#799cf8"/><stop offset="0.840" stop-color="#6b8df0"/><stop offset="0.880" stop-color="#5d7ce6"/><stop offset="0.920" stop-color="#506bda"/><stop offset="0.960" stop-color="#445acc"/><stop offset="1.000" stop-color="#3b4cc0"/></linearGradient>
<linearGradient id="gb67" gradientUnits="userSpaceOnUse" x1="254.0" x2="401.8" y1="0" y2="0"><stop offset="0.000" stop-color="#d24b40"/><stop offset="0.040" stop-color="#cf453c"/><stop offset="0.080" stop-color="#cb3e38"/><stop offset="0.120" stop-color="#c83836"/><stop offset="0.160" stop-color="#c53334"/><stop offset="0.200" stop-color="#cb3e38"/><stop offset="0.240" stop-color="#d24b40"/><stop offset="0.280" stop-color="#e0654f"/><stop offset="0.320" stop-color="#ec7f63"/><stop offset="0.360" stop-color="#f49a7b"/><stop offset="0.400" stop-color="#f7b093"/><stop offset="0.440" stop-color="#f5c2aa"/><stop offset="0.480" stop-color="#eed0c0"/><stop offset="0.520" stop-color="#e2dad5"/><stop offset="0.560" stop-color="#d4dbe6"/><stop offset="0.600" stop-color="#c4d5f3"/><stop offset="0.640" stop-color="#b5cdfa"/><stop offset="0.680" stop-color="#a5c3fe"/><stop offset="0.720" stop-color="#96b7ff"/><stop offset="0.760" stop-color="#86a9fc"/><stop offset="0.800" stop-color="#799cf8"/><stop offset="0.840" stop-color="#6a8bef"/><stop offset="0.880" stop-color="#5d7ce6"/><stop offset="0.920" stop-color="#506bda"/><stop offset="0.960" stop-color="#4358cb"/><stop offset="1.000" stop-color="#3b4cc0"/></linearGradient>
<linearGradient id="gb68" gradientUnits="userSpaceOnUse" x1="254.0" x2="401.8" y1="0" y2="0"><stop offset="0.000" stop-color="#d24b40"/><stop offset="0.040" stop-color="#d0473d"/><stop offset="0.080" stop-color="#cb3e38"/><stop offset="0.120" stop-color="#c73635"/><stop offset="0.160" stop-color="#c43032"/><stop offset="0.200" stop-color="#ca3b37"/><stop offset="0.240" stop-color="#d1493f"/><stop offset="0.280" stop-color="#df634e"/><stop offset="0.320" stop-color="#ec7f63"/><stop offset="0.360" stop-color="#f49a7b"/><stop offset="0.400" stop-color="#f7b093"/><stop offset="0.440" stop-color="#f5c2aa"/><stop offset="0.480" stop-color="#edd1c2"/><stop offset="0.520" stop-color="#e1dad6"/><stop offset="0.560" stop-color="#d3dbe7"/><stop offset="0.600" stop-color="#c3d5f4"/><stop offset="0.640" stop-color="#b3cdfb"/><stop offset="0.680" stop-color="#a3c2fe"/><stop offset="0.720" stop-color="#94b6ff"/><stop offset="0.760" stop-color="#86a9fc"/><stop offset="0.800" stop-color="#779af7"/><stop offset="0.840" stop-color="#6a8bef"/><stop offset="0.880" stop-color="#5d7ce6"/><stop offset="0.920" stop-color="#4f69d9"/><stop offset="0.960" stop-color="#4358cb"/><stop offset="1.000" stop-color="#3b4cc0"/></linearGradient>
<linearGradient id="gb69" gradientUnits="userSpaceOnUse" x1="254.0" x2="401.8" y1="0" y2="0"><stop offset="0.000" stop-color="#d44e41"/><stop offset="0.040" stop-color="#d0473d"/><stop offset="0.080" stop-color="#cb3e38"/><stop offset="0.120" stop-color="#c53334"/><stop offset="0.160" stop-color="#c32e31"/><stop offset="0.200" stop-color="#c73635"/><stop offset="0.240" stop-color="#d1493f"/><stop offset="0.280" stop-color="#df634e"/><stop offset="0.320" stop-color="#ec7f63"/><stop offset="0.360" stop-color="#f49a7b"/><stop offset="0.400" stop-color="#f7b194"/><stop offset="0.440" stop-color="#f5c2aa"/><stop offset="0.480" stop-color="#edd1c2"/><stop offset="0.520" stop-color="#e1dad6"/><stop offset="0.560" stop-color="#d2dbe8"/><stop offset="0.600" stop-color="#c3d5f4"/><stop offset="0.640" stop-color="#b3cdfb"/><stop offset="0.680" stop-color="#a3c2fe"/><stop offset="0.720" stop-color="#93b5fe"/><stop offset="0.760" stop-color="#85a8fc"/><stop offset="0.800" stop-color="#779af7"/><stop offset="0.840" stop-color="#6a8bef"/><stop offset="0.880" stop-color="#5b7ae5"/><stop offset="0.920" stop-color="#4f69d9"/><stop offset="0.960" stop-color="#4358cb"/><stop offset="1.000" stop-color="#3b4cc0"/></linearGradient>
<linearGradient id="gb70" gradientUnits="userSpaceOnUse" x1="254.0" x2="401.8" y1="0" y2="0"><stop offset="0.000" stop-color="#d55042"/><stop offset="0.040" stop-color="#d1493f"/><stop offset="0.080" stop-color="#cb3e38"/><stop offset="0.120" stop-color="#c43032"/><stop offset="0.160" stop-color="#c12b30"/><stop offset="0.200" stop-color="#c53334"/><stop offset="0.240" stop-color="#d0473d"/><stop offset="0.280" stop-color="#de614d"/><stop offset="0.320" stop-color="#eb7d62"/><stop offset="0.360" stop-color="#f49a7b"/><stop offset="0.400" stop-color="#f7b194"/><stop offset="0.440" stop-color="#f5c4ac"/><stop offset="0.480" stop-color="#edd2c3"/><stop offset="0.520" stop-color="#e0dbd8"/><stop offset="0.560" stop-color="#d1dae9"/><stop offset="0.600" stop-color="#c1d4f4"/><stop offset="0.640" stop-color="#b2ccfb"/><stop offset="0.680" stop-color="#a2c1ff"/><stop offset="0.720" stop-color="#93b5fe"/><stop offset="0.760" stop-color="#85a8fc"/><stop offset="0.800" stop-color="#7699f6"/><stop offset="0.840" stop-color="#688aef"/><stop offset="0.880" stop-color="#5b7ae5"/><stop offset="0.920" stop-color="#4f69d9"/><stop offset="0.960" stop-color="#4358cb"/><stop offset="1.000" stop-color="#3b4cc0"/></linearGradient>
<linearGradient id="gb71" gradientUnits="userSpaceOnUse" x1="254.0" x2="401.8" y1="0" y2="0"><stop offset="0.000" stop-color="#d55042"/><stop offset="0.040" stop-color="#d1493f"/><stop offset="0.080" stop-color="#cb3e38"/><stop offset="0.120" stop-color="#c32e31"/><stop offset="0.160" stop-color="#be242e"/><stop offset="0.200" stop-color="#c32e31"/><stop offset="0.240" stop-color="#cf453c"/><stop offset="0.280" stop-color="#de614d"/><stop offset="0.320" stop-color="#eb7d62"/><stop offset="0.360" stop-color="#f49a7b"/><stop offset="0.400" stop-color="#f7b194"/><stop offset="0.440" stop-color="#f5c4ac"/><stop offset="0.480" stop-color="#edd2c3"/><stop offset="0.520" stop-color="#dfdbd9"/><stop offset="0.560" stop-color="#d1dae9"/><stop offset="0.600" stop-color="#c0d4f5"/><stop offset="0.640" stop-color="#b1cbfc"/><stop offset="0.680" stop-color="#a1c0ff"/><stop offset="0.720" stop-color="#92b4fe"/><stop offset="0.760" stop-color="#84a7fc"/><stop offset="0.800" stop-color="#7699f6"/><stop offset="0.840" stop-color="#688aef"/><stop offset="0.880" stop-color="#5b7ae5"/><stop offset="0.920" stop-color="#4f69d9"/><stop offset="0.960" stop-color="#4358cb"/><stop offset="1.000" stop-color="#3b4cc0"/></linearGradient>
<linearGradient id="gb72" gradientUnits="userSpaceOnUse" x1="254.0" x2="401.8" y1="0" y2="0"><stop offset="0.000" stop-color="#d65244"/><stop offset="0.040" stop-color="#d24b40"/><stop offset="0.080" stop-color="#cc403a"/><stop offset="0.120" stop-color="#c12b30"/><stop offset="0.160" stop-color="#bb1b2c"/><stop offset="0.200" stop-color="#c12b30"/><stop offset="0.240" stop-color="#cd423b"/><stop offset="0.280" stop-color="#dd5f4b"/><stop offset="0.320" stop-color="#eb7d62"/><stop offset="0.360" stop-color="#f49a7b"/><stop offset="0.400" stop-color="#f7b194"/><stop offset="0.440" stop-color="#f5c4ac"/><stop offset="0.480" stop-color="#edd2c3"/><stop offset="0.520" stop-color="#dfdbd9"/><stop offset="0.560" stop-color="#cfdaea"/><stop offset="0.600" stop-color="#c0d4f5"/><stop offset="0.640" stop-color="#b1cbfc"/><stop offset="0.680" stop-color="#9fbfff"/><stop offset="0.720" stop-color="#92b4fe"/><stop offset="0.760" stop-color="#84a7fc"/><stop offset="0.800" stop-color="#7699f6"/><stop offset="0.840" stop-color="#688aef"/><stop offset="0.880" stop-color="#5b7ae5"/><stop offset="0.920" stop-color="#4f69d9"/><stop offset="0.960" stop-color="#4358cb"/><stop offset="1.000" stop-color="#3b4cc0"/></linearGradient>
<linearGradient id="gb73" gradientUnits="userSpaceOnUse" x1="254.0" x2="401.8" y1="0" y2="0"><stop offset="0.000" stop-color="#d65244"/><stop offset="0.040" stop-color="#d24b40"/><stop offset="0.080" stop-color="#cd423b"/><stop offset="0.120" stop-color="#be242e"/><stop offset="0.160" stop-color="#ba162b"/><stop offset="0.200" stop-color="#be242e"/><stop offset="0.240" stop-color="#cb3e38"/><stop offset="0.280" stop-color="#dd5f4b"/><stop offset="0.320" stop-color="#eb7d62"/><stop offset="0.360" stop-color="#f49a7b"/><stop offset="0.400" stop-color="#f7b396"/><stop offset="0.440" stop-color="#f4c5ad"/><stop offset="0.480" stop-color="#ecd3c5"/><stop offset="0.520" stop-color="#dedcdb"/><stop offset="0.560" stop-color="#cedaeb"/><stop offset="0.600" stop-color="#bfd3f6"/><stop offset="0.640" stop-color="#afcafc"/><stop offset="0.680" stop-color="#9fbfff"/><stop offset="0.720" stop-color="#90b2fe"/><stop offset="0.760" stop-color="#82a6fb"/><stop offset="0.800" stop-color="#7597f6"/><stop offset="0.840" stop-color="#6788ee"/><stop offset="0.880" stop-color="#5b7ae5"/><stop offset="0.920" stop-color="#4f69d9"/><stop offset="0.960" stop-color="#4358cb"/><stop offset="1.000" stop-color="#3b4cc0"/></linearGradient>
<linearGradient id="gb74" gradientUnits="userSpaceOnUse" x1="254.0" x2="401.8" y1="0" y2="0"><stop offset="0.000" stop-color="#d75445"/><stop offset="0.040" stop-color="#d24b40"/><stop offset="0.080" stop-color="#cf453c"/><stop offset="0.120" stop-color="#bd1f2d"/><stop offset="0.160" stop-color="#ba162b"/><stop offset="0.200" stop-color="#bd1f2d"/><stop offset="0.240" stop-color="#ca3b37"/><stop offset="0.280" stop-color="#dc5d4a"/><stop offset="0.320" stop-color="#eb7d62"/><stop offset="0.360" stop-color="#f49a7b"/><stop offset="0.400" stop-color="#f7b396"/><stop offset="0.440" stop-color="#f4c5ad"/><stop offset="0.480" stop-color="#ecd3c5"/><stop offset="0.520" stop-color="#dedcdb"/><stop offset="0.560" stop-color="#cedaeb"/><stop offset="0.600" stop-color="#bed2f6"/><stop offset="0.640" stop-color="#aec9fc"/><stop offset="0.680" stop-color="#9ebeff"/><stop offset="0.720" stop-color="#90b2fe"/><stop offset="0.760" stop-color="#82a6fb"/><stop offset="0.800" stop-color="#7597f6"/><stop offset="0.840" stop-color="#6788ee"/><stop offset="0.880" stop-color="#5a78e4"/><stop offset="0.920" stop-color="#4f69d9"/><stop offset="0.960" stop-color="#4358cb"/><stop offset="1.000" stop-color="#3b4cc0"/></linearGradient>
<linearGradient id="gb75" gradientUnits="userSpaceOnUse" x1="254.0" x2="401.8" y1="0" y2="0"><stop offset="0.000" stop-color="#d75445"/><stop offset="0.040" stop-color="#d24b40"/><stop offset="0.080" stop-color="#cf453c"/><stop offset="0.120" stop-color="#bd1f2d"/><stop offset="0.160" stop-color="#b8122a"/><stop offset="0.200" stop-color="#bb1b2c"/><stop offset="0.240" stop-color="#c83836"/><stop offset="0.280" stop-color="#dc5d4a"/><stop offset="0.320" stop-color="#ea7b60"/><stop offset="0.360" stop-color="#f49a7b"/><stop offset="0.400" stop-color="#f7b396"/><stop offset="0.440" stop-color="#f4c5ad"/><stop offset="0.480" stop-color="#ebd3c6"/><stop offset="0.520" stop-color="#dddcdc"/><stop offset="0.560" stop-color="#cdd9ec"/><stop offset="0.600" stop-color="#bed2f6"/><stop offset="0.640" stop-color="#aec9fc"/><stop offset="0.680" stop-color="#9dbdff"/><stop offset="0.720" stop-color="#8fb1fe"/><stop offset="0.760" stop-color="#81a4fb"/><stop offset="0.800" stop-color="#7597f6"/><stop offset="0.840" stop-color="#6788ee"/><stop offset="0.880" stop-color="#5a78e4"/><stop offset="0.920" stop-color="#4f69d9"/><stop offset="0.960" stop-color="#4358cb"/><stop offset="1.000" stop-color="#3b4cc0"/></linearGradient>
<linearGradient id="gb76" gradientUnits="userSpaceOnUse" x1="254.0" x2="401.8" y1="0" y2="0"><stop offset="0.000" stop-color="#d85646"/><stop offset="0.040" stop-color="#d24b40"/><stop offset="0.080" stop-color="#d0473d"/><stop offset="0.120" stop-color="#bb1b2c"/><stop offset="0.160" stop-color="#b70d28"/><stop offset="0.200" stop-color="#ba162b"/><stop offset="0.240" stop-color="#c73635"/><stop offset="0.280" stop-color="#da5a49"/><stop offset="0.320" stop-color="#ea7b60"/><stop offset="0.360" stop-color="#f49a7b"/><stop offset="0.400" stop-color="#f7b396"/><stop offset="0.440" stop-color="#f4c6af"/><stop offset="0.480" stop-color="#ebd3c6"/><stop offset="0.520" stop-color="#dddcdc"/><stop offset="0.560" stop-color="#ccd9ed"/><stop offset="0.600" stop-color="#bcd2f7"/><stop offset="0.640" stop-color="#adc9fd"/><stop offset="0.680" stop-color="#9dbdff"/><stop offset="0.720" stop-color="#8fb1fe"/><stop offset="0.760" stop-color="#81a4fb"/><stop offset="0.800" stop-color="#7597f6"/><stop offset="0.840" stop-color="#6788ee"/><stop offset="0.880" stop-color="#5a78e4"/><stop offset="0.920" stop-color="#4f69d9"/><stop offset="0.960" stop-color="#4358cb"/><stop offset="1.000" stop-color="#3b4cc0"/></linearGradient>
<mask id="mb" maskUnits="userSpaceOnUse" x="0" y="0" width="448" height="252"><rect x="0" y="0" width="448" height="252" fill="#fff"/><rect x="271.9" y="187.6" width="6.5" height="6" fill="#000" transform="rotate(40.0 275.2 190.6)"/><rect x="270.6" y="172.5" width="10.0" height="6" fill="#000" transform="rotate(3.0 275.6 175.5)"/><rect x="265.0" y="149.7" width="10.0" height="6" fill="#000" transform="rotate(40.0 270.0 152.7)"/><rect x="285.9" y="143.8" width="14.0" height="6" fill="#000" transform="rotate(75.0 292.9 146.8)"/><rect x="305.8" y="147.4" width="14.0" height="6" fill="#000" transform="rotate(-87.4 312.8 150.4)"/><rect x="323.0" y="143.8" width="14.0" height="6" fill="#000" transform="rotate(-81.9 330.0 146.8)"/><rect x="340.2" y="142.8" width="14.0" height="6" fill="#000" transform="rotate(-77.7 347.2 145.8)"/><rect x="359.7" y="139.9" width="14.0" height="6" fill="#000" transform="rotate(-75.0 366.7 142.9)"/><rect x="379.0" y="141.1" width="14.0" height="6" fill="#000" transform="rotate(-73.5 386.0 144.1)"/></mask>
<clipPath id="cb"><path d="M254.0,195.7 L254.0,165.1 L255.9,160.1 L257.7,155.4 L259.6,151.3 L261.5,147.6 L263.4,144.2 L265.2,141.1 L267.1,138.3 L269.0,135.6 L270.8,133.0 L272.7,130.6 L274.6,128.3 L276.5,126.1 L278.3,123.9 L280.2,121.9 L282.1,119.9 L283.9,118.0 L285.8,116.1 L287.7,114.4 L289.5,112.6 L291.4,110.9 L293.3,109.3 L295.2,107.7 L297.0,106.1 L298.9,104.5 L300.8,103.0 L302.6,101.6 L304.5,100.1 L306.4,98.7 L308.3,97.3 L310.1,96.0 L312.0,94.6 L313.9,93.3 L315.7,92.0 L317.6,90.8 L319.5,89.5 L321.4,88.3 L323.2,87.1 L325.1,85.9 L327.0,84.7 L328.8,83.5 L330.7,82.4 L332.6,81.3 L334.4,80.2 L336.3,79.1 L338.2,78.0 L340.1,76.9 L341.9,75.8 L343.8,74.8 L345.7,73.8 L347.5,72.7 L349.4,71.7 L351.3,70.7 L353.2,69.7 L355.0,68.7 L356.9,67.8 L358.8,66.8 L360.6,65.9 L362.5,64.9 L364.4,64.0 L366.3,63.1 L368.1,62.2 L370.0,61.2 L371.9,60.3 L373.7,59.5 L375.6,58.6 L377.5,57.7 L379.3,56.8 L381.2,56.0 L383.1,55.1 L385.0,54.3 L386.8,53.4 L388.7,52.6 L390.6,51.8 L392.4,51.0 L394.3,50.1 L396.2,49.3 L398.1,48.5 L399.9,47.7 L401.8,46.9 L401.8,195.7 Z"/></clipPath>
<linearGradient id="cba" x1="0" x2="0" y1="0" y2="1"><stop offset="0.000" stop-color="#3b4cc0"/><stop offset="0.026" stop-color="#4257c9"/><stop offset="0.051" stop-color="#4a63d3"/><stop offset="0.077" stop-color="#516ddb"/><stop offset="0.103" stop-color="#5a78e4"/><stop offset="0.128" stop-color="#6282ea"/><stop offset="0.154" stop-color="#6b8df0"/><stop offset="0.179" stop-color="#7396f5"/><stop offset="0.205" stop-color="#7da0f9"/><stop offset="0.231" stop-color="#86a9fc"/><stop offset="0.256" stop-color="#8fb1fe"/><stop offset="0.282" stop-color="#98b9ff"/><stop offset="0.308" stop-color="#a1c0ff"/><stop offset="0.333" stop-color="#aac7fd"/><stop offset="0.359" stop-color="#b2ccfb"/><stop offset="0.385" stop-color="#bbd1f8"/><stop offset="0.410" stop-color="#c4d5f3"/><stop offset="0.436" stop-color="#cbd8ee"/><stop offset="0.462" stop-color="#d3dbe7"/><stop offset="0.487" stop-color="#d9dce1"/><stop offset="0.513" stop-color="#e0dbd8"/><stop offset="0.538" stop-color="#e6d7cf"/><stop offset="0.564" stop-color="#ecd3c5"/><stop offset="0.590" stop-color="#f0cdbb"/><stop offset="0.615" stop-color="#f3c7b1"/><stop offset="0.641" stop-color="#f6bfa6"/><stop offset="0.667" stop-color="#f7b89c"/><stop offset="0.692" stop-color="#f7af91"/><stop offset="0.718" stop-color="#f7a688"/><stop offset="0.744" stop-color="#f59c7d"/><stop offset="0.769" stop-color="#f29274"/><stop offset="0.795" stop-color="#ee8669"/><stop offset="0.821" stop-color="#e97a5f"/><stop offset="0.846" stop-color="#e46e56"/><stop offset="0.872" stop-color="#de614d"/><stop offset="0.897" stop-color="#d75445"/><stop offset="0.923" stop-color="#cf453c"/><stop offset="0.949" stop-color="#c73635"/><stop offset="0.974" stop-color="#bd1f2d"/><stop offset="1.000" stop-color="#b40426"/></linearGradient>
<linearGradient id="cbb" x1="0" x2="0" y1="0" y2="1"><stop offset="0.000" stop-color="#3b4cc0"/><stop offset="0.026" stop-color="#4257c9"/><stop offset="0.051" stop-color="#4a63d3"/><stop offset="0.077" stop-color="#516ddb"/><stop offset="0.103" stop-color="#5a78e4"/><stop offset="0.128" stop-color="#6282ea"/><stop offset="0.154" stop-color="#6b8df0"/><stop offset="0.179" stop-color="#7396f5"/><stop offset="0.205" stop-color="#7da0f9"/><stop offset="0.231" stop-color="#86a9fc"/><stop offset="0.256" stop-color="#8fb1fe"/><stop offset="0.282" stop-color="#98b9ff"/><stop offset="0.308" stop-color="#a1c0ff"/><stop offset="0.333" stop-color="#aac7fd"/><stop offset="0.359" stop-color="#b2ccfb"/><stop offset="0.385" stop-color="#bbd1f8"/><stop offset="0.410" stop-color="#c4d5f3"/><stop offset="0.436" stop-color="#cbd8ee"/><stop offset="0.462" stop-color="#d3dbe7"/><stop offset="0.487" stop-color="#d9dce1"/><stop offset="0.513" stop-color="#e0dbd8"/><stop offset="0.538" stop-color="#e6d7cf"/><stop offset="0.564" stop-color="#ecd3c5"/><stop offset="0.590" stop-color="#f0cdbb"/><stop offset="0.615" stop-color="#f3c7b1"/><stop offset="0.641" stop-color="#f6bfa6"/><stop offset="0.667" stop-color="#f7b89c"/><stop offset="0.692" stop-color="#f7af91"/><stop offset="0.718" stop-color="#f7a688"/><stop offset="0.744" stop-color="#f59c7d"/><stop offset="0.769" stop-color="#f29274"/><stop offset="0.795" stop-color="#ee8669"/><stop offset="0.821" stop-color="#e97a5f"/><stop offset="0.846" stop-color="#e46e56"/><stop offset="0.872" stop-color="#de614d"/><stop offset="0.897" stop-color="#d75445"/><stop offset="0.923" stop-color="#cf453c"/><stop offset="0.949" stop-color="#c73635"/><stop offset="0.974" stop-color="#bd1f2d"/><stop offset="1.000" stop-color="#b40426"/></linearGradient>
</defs>
<rect width="448" height="252" fill="#fff"/>
<g>
<g shape-rendering="crispEdges">
<rect x="26.7" y="43" width="148.2" height="2" fill="url(#ga0)"/>
<rect x="26.7" y="45" width="148.2" height="2" fill="url(#ga1)"/>
<rect x="26.7" y="47" width="148.2" height="2" fill="url(#ga2)"/>
<rect x="26.7" y="49" width="148.2" height="2" fill="url(#ga3)"/>
<rect x="26.7" y="51" width="148.2" height="2" fill="url(#ga4)"/>
<rect x="26.7" y="53" width="148.2" height="2" fill="url(#ga5)"/>
<rect x="26.7" y="55" width="148.2" height="2" fill="url(#ga6)"/>
<rect x="26.7" y="57" width="148.2" height="2" fill="url(#ga7)"/>
<rect x="26.7" y="59" width="148.2" height="2" fill="url(#ga8)"/>
<rect x="26.7" y="61" width="148.2" height="2" fill="url(#ga9)"/>
<rect x="26.7" y="63" width="148.2" height="2" fill="url(#ga10)"/>
<rect x="26.7" y="65" width="148.2" height="2" fill="url(#ga11)"/>
<rect x="26.7" y="67" width="148.2" height="2" fill="url(#ga12)"/>
<rect x="26.7" y="69" width="148.2" height="2" fill="url(#ga13)"/>
<rect x="26.7" y="71" width="148.2" height="2" fill="url(#ga14)"/>
<rect x="26.7" y="73" width="148.2" height="2" fill="url(#ga15)"/>
<rect x="26.7" y="75" width="148.2" height="2" fill="url(#ga16)"/>
<rect x="26.7" y="77" width="148.2" height="2" fill="url(#ga17)"/>
<rect x="26.7" y="79" width="148.2" height="2" fill="url(#ga18)"/>
<rect x="26.7" y="81" width="148.2" height="2" fill="url(#ga19)"/>
<rect x="26.7" y="83" width="148.2" height="2" fill="url(#ga20)"/>
<rect x="26.7" y="85" width="148.2" height="2" fill="url(#ga21)"/>
<rect x="26.7" y="87" width="148.2" height="2" fill="url(#ga22)"/>
<rect x="26.7" y="89" width="148.2" height="2" fill="url(#ga23)"/>
<rect x="26.7" y="91" width="148.2" height="2" fill="url(#ga24)"/>
<rect x="26.7" y="93" width="148.2" height="2" fill="url(#ga25)"/>
<rect x="26.7" y="95" width="148.2" height="2" fill="url(#ga26)"/>
<rect x="26.7" y="97" width="148.2" height="2" fill="url(#ga27)"/>
<rect x="26.7" y="99" width="148.2" height="2" fill="url(#ga28)"/>
<rect x="26.7" y="101" width="148.2" height="2" fill="url(#ga29)"/>
<rect x="26.7" y="103" width="148.2" height="2" fill="url(#ga30)"/>
<rect x="26.7" y="105" width="148.2" height="2" fill="url(#ga31)"/>
<rect x="26.7" y="107" width="148.2" height="2" fill="url(#ga32)"/>
<rect x="26.7" y="109" width="148.2" height="2" fill="url(#ga33)"/>
<rect x="26.7" y="111" width="148.2" height="2" fill="url(#ga34)"/>
<rect x="26.7" y="113" width="148.2" height="2" fill="url(#ga35)"/>
<rect x="26.7" y="115" width="148.2" height="2" fill="url(#ga36)"/>
<rect x="26.7" y="117" width="148.2" height="2" fill="url(#ga37)"/>
<rect x="26.7" y="119" width="148.2" height="2" fill="url(#ga38)"/>
<rect x="26.7" y="121" width="148.2" height="2" fill="url(#ga39)"/>
<rect x="26.7" y="123" width="148.2" height="2" fill="url(#ga40)"/>
<rect x="26.7" y="125" width="148.2" height="2" fill="url(#ga41)"/>
<rect x="26.7" y="127" width="148.2" height="2" fill="url(#ga42)"/>
<rect x="26.7" y="129" width="148.2" height="2" fill="url(#ga43)"/>
<rect x="26.7" y="131" width="148.2" height="2" fill="url(#ga44)"/>
<rect x="26.7" y="133" width="148.2" height="2" fill="url(#ga45)"/>
<rect x="26.7" y="135" width="148.2" height="2" fill="url(#ga46)"/>
<rect x="26.7" y="137" width="148.2" height="2" fill="url(#ga47)"/>
<rect x="26.7" y="139" width="148.2" height="2" fill="url(#ga48)"/>
<rect x="26.7" y="141" width="148.2" height="2" fill="url(#ga49)"/>
<rect x="26.7" y="143" width="148.2" height="2" fill="url(#ga50)"/>
<rect x="26.7" y="145" width="148.2" height="2" fill="url(#ga51)"/>
<rect x="26.7" y="147" width="148.2" height="2" fill="url(#ga52)"/>
<rect x="26.7" y="149" width="148.2" height="2" fill="url(#ga53)"/>
<rect x="26.7" y="151" width="148.2" height="2" fill="url(#ga54)"/>
<rect x="26.7" y="153" width="148.2" height="2" fill="url(#ga55)"/>
<rect x="26.7" y="155" width="148.2" height="2" fill="url(#ga56)"/>
<rect x="26.7" y="157" width="148.2" height="2" fill="url(#ga57)"/>
<rect x="26.7" y="159" width="148.2" height="2" fill="url(#ga58)"/>
<rect x="26.7" y="161" width="148.2" height="2" fill="url(#ga59)"/>
<rect x="26.7" y="163" width="148.2" height="2" fill="url(#ga60)"/>
<rect x="26.7" y="165" width="148.2" height="2" fill="url(#ga61)"/>
<rect x="26.7" y="167" width="148.2" height="2" fill="url(#ga62)"/>
<rect x="26.7" y="169" width="148.2" height="2" fill="url(#ga63)"/>
<rect x="26.7" y="171" width="148.2" height="2" fill="url(#ga64)"/>
<rect x="26.7" y="173" width="148.2" height="2" fill="url(#ga65)"/>
<rect x="26.7" y="175" width="148.2" height="2" fill="url(#ga66)"/>
<rect x="26.7" y="177" width="148.2" height="2" fill="url(#ga67)"/>
<rect x="26.7" y="179" width="148.2" height="2" fill="url(#ga68)"/>
<rect x="26.7" y="181" width="148.2" height="2" fill="url(#ga69)"/>
<rect x="26.7" y="183" width="148.2" height="2" fill="url(#ga70)"/>
<rect x="26.7" y="185" width="148.2" height="2" fill="url(#ga71)"/>
<rect x="26.7" y="187" width="148.2" height="2" fill="url(#ga72)"/>
<rect x="26.7" y="189" width="148.2" height="2" fill="url(#ga73)"/>
<rect x="26.7" y="191" width="148.2" height="2" fill="url(#ga74)"/>
<rect x="26.7" y="193" width="148.2" height="2" fill="url(#ga75)"/>
<rect x="26.7" y="195" width="148.2" height="1" fill="url(#ga76)"/>
</g>
<path d="M26.7,43.2 L26.7,165.1 L28.6,160.3 L30.5,155.6 L32.3,151.4 L34.2,147.7 L36.1,144.4 L38.0,141.3 L39.8,138.4 L41.7,135.7 L43.6,133.1 L45.5,130.7 L47.3,128.3 L49.2,126.1 L51.1,124.0 L53.0,121.9 L54.8,119.9 L56.7,118.0 L58.6,116.2 L60.5,114.4 L62.3,112.6 L64.2,110.9 L66.1,109.3 L68.0,107.7 L69.8,106.1 L71.7,104.6 L73.6,103.0 L75.5,101.6 L77.4,100.1 L79.2,98.7 L81.1,97.3 L83.0,96.0 L84.9,94.6 L86.7,93.3 L88.6,92.0 L90.5,90.7 L92.4,89.5 L94.2,88.3 L96.1,87.0 L98.0,85.8 L99.9,84.7 L101.7,83.5 L103.6,82.4 L105.5,81.2 L107.4,80.1 L109.2,79.0 L111.1,77.9 L113.0,76.9 L114.9,75.8 L116.7,74.7 L118.6,73.7 L120.5,72.7 L122.4,71.7 L124.2,70.7 L126.1,69.7 L128.0,68.7 L129.9,67.7 L131.8,66.8 L133.6,65.8 L135.5,64.9 L137.4,63.9 L139.3,63.0 L141.1,62.1 L143.0,61.2 L144.9,60.3 L146.8,59.4 L148.6,58.5 L150.5,57.6 L152.4,56.8 L154.3,55.9 L156.1,55.0 L158.0,54.2 L159.9,53.4 L161.8,52.5 L163.6,51.7 L165.5,50.9 L167.4,50.1 L169.3,49.3 L171.1,48.4 L173.0,47.7 L174.9,46.9 L174.9,43.2 Z" fill="#b40426"/>
<g clip-path="url(#ca)"><g mask="url(#ma)" fill="none" stroke="#000" stroke-width="1.25" stroke-dasharray="3.5 1.6">
<path d="M38.8,195.7 L39.0,193.6 L39.2,191.4 L39.4,189.3 L39.6,187.1 L39.8,185.0 L40.1,182.8 L40.3,180.7 L40.5,178.5 L40.7,176.4 L40.9,174.2 L41.1,172.1 L41.3,169.9 L41.5,167.8 L41.7,165.7 L41.9,163.5 L42.1,161.4 L42.2,159.2 L42.4,157.1 L42.6,154.9 L42.7,152.8 L42.9,150.6 L43.1,148.5 L43.2,146.3 L43.4,144.2 L43.5,142.0 L43.7,139.9 L43.8,137.7 L44.0,135.6 L44.1,133.4"/>
<path d="M59.3,195.7 L59.6,192.7 L59.9,189.8 L60.2,186.8 L60.4,183.8 L60.7,180.8 L61.0,177.9 L61.3,174.9 L61.6,171.9 L61.8,169.0 L62.1,166.0 L62.3,163.0 L62.6,160.0 L62.8,157.1 L63.1,154.1 L63.3,151.1 L63.6,148.2 L63.8,145.2 L64.0,142.2 L64.2,139.2 L64.5,136.3 L64.7,133.3 L65.0,130.3 L65.2,127.3 L65.5,124.4 L65.7,121.4 L66.0,118.4 L66.3,115.4 L66.5,112.5 L66.8,109.5"/>
<path d="M80.7,195.7 L81.0,192.1 L81.4,188.6 L81.7,185.0 L82.0,181.4 L82.3,177.8 L82.7,174.3 L83.0,170.7 L83.3,167.1 L83.6,163.6 L83.9,160.0 L84.2,156.4 L84.5,152.8 L84.8,149.3 L85.1,145.7 L85.5,142.1 L85.8,138.6 L86.2,135.0 L86.6,131.4 L87.0,127.9 L87.3,124.3 L87.7,120.7 L88.0,117.2 L88.3,113.6 L88.5,110.0 L88.8,106.4 L89.0,102.8 L89.2,99.3 L89.4,95.7 L89.6,92.1"/>
<path d="M103.1,195.7 L103.6,191.6 L104.1,187.5 L104.6,183.4 L105.0,179.3 L105.5,175.2 L105.9,171.1 L106.3,167.0 L106.7,162.9 L107.1,158.8 L107.4,154.7 L107.7,150.5 L108.0,146.4 L108.3,142.3 L108.6,138.2 L108.9,134.1 L109.1,130.0 L109.4,125.8 L109.7,121.7 L110.0,117.6 L110.3,113.5 L110.7,109.4 L111.1,105.3 L111.5,101.1 L111.9,97.0 L112.4,92.9 L112.9,88.8 L113.5,84.8 L114.1,80.7 L114.8,76.6"/>
<path d="M126.7,195.7 L127.2,191.1 L127.6,186.6 L128.1,182.0 L128.6,177.4 L129.0,172.9 L129.5,168.3 L129.9,163.7 L130.4,159.2 L130.8,154.6 L131.2,150.0 L131.7,145.5 L132.1,140.9 L132.5,136.3 L133.0,131.8 L133.4,127.2 L133.9,122.6 L134.4,118.1 L135.0,113.5 L135.5,108.9 L136.1,104.4 L136.6,99.8 L137.1,95.3 L137.5,90.7 L137.9,86.1 L138.2,81.5 L138.5,77.0 L138.6,72.4 L138.8,67.8 L138.9,63.2"/>
<path d="M150.5,195.7 L151.1,190.8 L151.7,185.8 L152.2,180.9 L152.8,176.0 L153.4,171.0 L153.9,166.1 L154.5,161.2 L155.0,156.2 L155.5,151.3 L156.0,146.3 L156.5,141.4 L157.0,136.5 L157.5,131.5 L158.0,126.6 L158.5,121.6 L159.0,116.7 L159.5,111.7 L160.0,106.8 L160.6,101.9 L161.1,96.9 L161.7,92.0 L162.2,87.1 L162.8,82.1 L163.3,77.2 L163.9,72.3 L164.4,67.3 L164.9,62.4 L165.5,57.4 L166.0,52.5"/>
</g></g>
<path d="M26.7,165.1 L28.6,160.3 L30.5,155.6 L32.3,151.4 L34.2,147.7 L36.1,144.4 L38.0,141.3 L39.8,138.4 L41.7,135.7 L43.6,133.1 L45.5,130.7 L47.3,128.3 L49.2,126.1 L51.1,124.0 L53.0,121.9 L54.8,119.9 L56.7,118.0 L58.6,116.2 L60.5,114.4 L62.3,112.6 L64.2,110.9 L66.1,109.3 L68.0,107.7 L69.8,106.1 L71.7,104.6 L73.6,103.0 L75.5,101.6 L77.4,100.1 L79.2,98.7 L81.1,97.3 L83.0,96.0 L84.9,94.6 L86.7,93.3 L88.6,92.0 L90.5,90.7 L92.4,89.5 L94.2,88.3 L96.1,87.0 L98.0,85.8 L99.9,84.7 L101.7,83.5 L103.6,82.4 L105.5,81.2 L107.4,80.1 L109.2,79.0 L111.1,77.9 L113.0,76.9 L114.9,75.8 L116.7,74.7 L118.6,73.7 L120.5,72.7 L122.4,71.7 L124.2,70.7 L126.1,69.7 L128.0,68.7 L129.9,67.7 L131.8,66.8 L133.6,65.8 L135.5,64.9 L137.4,63.9 L139.3,63.0 L141.1,62.1 L143.0,61.2 L144.9,60.3 L146.8,59.4 L148.6,58.5 L150.5,57.6 L152.4,56.8 L154.3,55.9 L156.1,55.0 L158.0,54.2 L159.9,53.4 L161.8,52.5 L163.6,51.7 L165.5,50.9 L167.4,50.1 L169.3,49.3 L171.1,48.4 L173.0,47.7 L174.9,46.9" fill="none" stroke="#000" stroke-width="1.3"/>
<text x="41.4" y="170.2" font-size="6.2" text-anchor="middle" stroke="#000" stroke-width="0.2" font-family="Liberation Sans, Arial, Helvetica, sans-serif" font-weight="bold" transform="rotate(-84.6 41.4 168.0)">100</text>
<text x="63.0" y="156.6" font-size="6.2" text-anchor="middle" stroke="#000" stroke-width="0.2" font-family="Liberation Sans, Arial, Helvetica, sans-serif" font-weight="bold" transform="rotate(-85.4 63.0 154.4)">200</text>
<text x="85.0" y="150.0" font-size="6.2" text-anchor="middle" stroke="#000" stroke-width="0.2" font-family="Liberation Sans, Arial, Helvetica, sans-serif" font-weight="bold" transform="rotate(-85.0 85.0 147.8)">300</text>
<text x="108.5" y="140.6" font-size="6.2" text-anchor="middle" stroke="#000" stroke-width="0.2" font-family="Liberation Sans, Arial, Helvetica, sans-serif" font-weight="bold" transform="rotate(-86.0 108.5 138.4)">400</text>
<text x="132.9" y="135.1" font-size="6.2" text-anchor="middle" stroke="#000" stroke-width="0.2" font-family="Liberation Sans, Arial, Helvetica, sans-serif" font-weight="bold" transform="rotate(-84.5 132.9 132.9)">500</text>
<text x="157.5" y="133.4" font-size="6.2" text-anchor="middle" stroke="#000" stroke-width="0.2" font-family="Liberation Sans, Arial, Helvetica, sans-serif" font-weight="bold" transform="rotate(-84.2 157.5 131.2)">600</text>
<rect x="26.8" y="43.3" width="148.0" height="152.4" fill="none" stroke="#1a1a1a" stroke-width="0.55"/>
<path d="M27.00,196.0 v3" stroke="#000" stroke-width="0.9"/>
<text x="27.00" y="207.6" font-size="6.35" text-anchor="middle" stroke="#000" stroke-width="0.12" font-family="Liberation Sans, Arial, Helvetica, sans-serif" font-weight="bold">0</text>
<path d="M63.80,196.0 v3" stroke="#000" stroke-width="0.9"/>
<text x="63.80" y="207.6" font-size="6.35" text-anchor="middle" stroke="#000" stroke-width="0.12" font-family="Liberation Sans, Arial, Helvetica, sans-serif" font-weight="bold">250</text>
<path d="M100.60,196.0 v3" stroke="#000" stroke-width="0.9"/>
<text x="100.60" y="207.6" font-size="6.35" text-anchor="middle" stroke="#000" stroke-width="0.12" font-family="Liberation Sans, Arial, Helvetica, sans-serif" font-weight="bold">500</text>
<path d="M137.40,196.0 v3" stroke="#000" stroke-width="0.9"/>
<text x="137.40" y="207.6" font-size="6.35" text-anchor="middle" stroke="#000" stroke-width="0.12" font-family="Liberation Sans, Arial, Helvetica, sans-serif" font-weight="bold">750</text>
<path d="M174.20,196.0 v3" stroke="#000" stroke-width="0.9"/>
<text x="174.20" y="207.6" font-size="6.35" text-anchor="middle" stroke="#000" stroke-width="0.12" font-family="Liberation Sans, Arial, Helvetica, sans-serif" font-weight="bold">1000</text>
<path d="M26.7,168.90 h-3" stroke="#000" stroke-width="0.9"/>
<text x="20.5" y="171.40" font-size="6.35" text-anchor="end" stroke="#000" stroke-width="0.12" font-family="Liberation Sans, Arial, Helvetica, sans-serif" font-weight="bold">2</text>
<path d="M26.7,137.50 h-3" stroke="#000" stroke-width="0.9"/>
<text x="20.5" y="140.00" font-size="6.35" text-anchor="end" stroke="#000" stroke-width="0.12" font-family="Liberation Sans, Arial, Helvetica, sans-serif" font-weight="bold">4</text>
<path d="M26.7,106.10 h-3" stroke="#000" stroke-width="0.9"/>
<text x="20.5" y="108.60" font-size="6.35" text-anchor="end" stroke="#000" stroke-width="0.12" font-family="Liberation Sans, Arial, Helvetica, sans-serif" font-weight="bold">6</text>
<path d="M26.7,74.70 h-3" stroke="#000" stroke-width="0.9"/>
<text x="20.5" y="77.20" font-size="6.35" text-anchor="end" stroke="#000" stroke-width="0.12" font-family="Liberation Sans, Arial, Helvetica, sans-serif" font-weight="bold">8</text>
<path d="M26.7,43.30 h-3" stroke="#000" stroke-width="0.9"/>
<text x="20.5" y="45.80" font-size="6.35" text-anchor="end" stroke="#000" stroke-width="0.12" font-family="Liberation Sans, Arial, Helvetica, sans-serif" font-weight="bold">10</text>
<text x="101.0" y="218.3" font-size="7.35" text-anchor="middle" font-family="Liberation Sans, Arial, Helvetica, sans-serif" font-weight="bold">Pressure (GPa)</text>
<text x="101.0" y="37.3" font-size="7.95" text-anchor="middle" font-family="Liberation Sans, Arial, Helvetica, sans-serif" font-weight="bold">(a) Original SG elasticity model</text>
<text transform="translate(8.0 119.3) rotate(-90)" font-size="7.5" text-anchor="middle" stroke="#000" stroke-width="0.12" font-family="Liberation Sans, Arial, Helvetica, sans-serif" font-weight="bold">Temperature (<tspan font-family="DejaVu Sans, sans-serif" font-size="7.2">10</tspan><tspan font-family="DejaVu Sans, sans-serif" font-size="5.0" dy="-2.6">3</tspan><tspan dy="2.6"> K)</tspan></text>
</g>
<text x="68.8" y="75.4" font-size="7.8" text-anchor="middle" fill="#fff" font-family="Liberation Sans, Arial, Helvetica, sans-serif" font-weight="bold">Liquid</text>
<rect x="184.2" y="43.2" width="7.8" height="152.5" fill="url(#cba)" stroke="#1a1a1a" stroke-width="0.6"/>
<path d="M192.0,195.70 h2.8" stroke="#000" stroke-width="0.9"/>
<text x="198.3" y="197.95" font-size="6.35" stroke="#000" stroke-width="0.12" font-family="Liberation Sans, Arial, Helvetica, sans-serif" font-weight="bold">0</text>
<path d="M192.0,173.92 h2.8" stroke="#000" stroke-width="0.9"/>
<text x="198.3" y="176.17" font-size="6.35" stroke="#000" stroke-width="0.12" font-family="Liberation Sans, Arial, Helvetica, sans-serif" font-weight="bold">100</text>
<path d="M192.0,152.14 h2.8" stroke="#000" stroke-width="0.9"/>
<text x="198.3" y="154.39" font-size="6.35" stroke="#000" stroke-width="0.12" font-family="Liberation Sans, Arial, Helvetica, sans-serif" font-weight="bold">200</text>
<path d="M192.0,130.36 h2.8" stroke="#000" stroke-width="0.9"/>
<text x="198.3" y="132.61" font-size="6.35" stroke="#000" stroke-width="0.12" font-family="Liberation Sans, Arial, Helvetica, sans-serif" font-weight="bold">300</text>
<path d="M192.0,108.58 h2.8" stroke="#000" stroke-width="0.9"/>
<text x="198.3" y="110.83" font-size="6.35" stroke="#000" stroke-width="0.12" font-family="Liberation Sans, Arial, Helvetica, sans-serif" font-weight="bold">400</text>
<path d="M192.0,86.80 h2.8" stroke="#000" stroke-width="0.9"/>
<text x="198.3" y="89.05" font-size="6.35" stroke="#000" stroke-width="0.12" font-family="Liberation Sans, Arial, Helvetica, sans-serif" font-weight="bold">500</text>
<path d="M192.0,65.02 h2.8" stroke="#000" stroke-width="0.9"/>
<text x="198.3" y="67.27" font-size="6.35" stroke="#000" stroke-width="0.12" font-family="Liberation Sans, Arial, Helvetica, sans-serif" font-weight="bold">600</text>
<path d="M192.0,47.60 h2.8" stroke="#000" stroke-width="0.9"/>
<text x="198.3" y="49.85" font-size="6.35" stroke="#000" stroke-width="0.12" font-family="Liberation Sans, Arial, Helvetica, sans-serif" font-weight="bold">680</text>
<text transform="translate(218.6 120.0) rotate(-90)" font-size="6.75" text-anchor="middle" stroke="#000" stroke-width="0.1" font-family="Liberation Sans, Arial, Helvetica, sans-serif" font-weight="bold"><tspan font-family="DejaVu Sans, sans-serif" font-style="italic" font-size="6.5">G</tspan> (GPa)</text>
<g>
<g shape-rendering="crispEdges">
<rect x="254.0" y="43" width="147.8" height="2" fill="url(#gb0)"/>
<rect x="254.0" y="45" width="147.8" height="2" fill="url(#gb1)"/>
<rect x="254.0" y="47" width="147.8" height="2" fill="url(#gb2)"/>
<rect x="254.0" y="49" width="147.8" height="2" fill="url(#gb3)"/>
<rect x="254.0" y="51" width="147.8" height="2" fill="url(#gb4)"/>
<rect x="254.0" y="53" width="147.8" height="2" fill="url(#gb5)"/>
<rect x="254.0" y="55" width="147.8" height="2" fill="url(#gb6)"/>
<rect x="254.0" y="57" width="147.8" height="2" fill="url(#gb7)"/>
<rect x="254.0" y="59" width="147.8" height="2" fill="url(#gb8)"/>
<rect x="254.0" y="61" width="147.8" height="2" fill="url(#gb9)"/>
<rect x="254.0" y="63" width="147.8" height="2" fill="url(#gb10)"/>
<rect x="254.0" y="65" width="147.8" height="2" fill="url(#gb11)"/>
<rect x="254.0" y="67" width="147.8" height="2" fill="url(#gb12)"/>
<rect x="254.0" y="69" width="147.8" height="2" fill="url(#gb13)"/>
<rect x="254.0" y="71" width="147.8" height="2" fill="url(#gb14)"/>
<rect x="254.0" y="73" width="147.8" height="2" fill="url(#gb15)"/>
<rect x="254.0" y="75" width="147.8" height="2" fill="url(#gb16)"/>
<rect x="254.0" y="77" width="147.8" height="2" fill="url(#gb17)"/>
<rect x="254.0" y="79" width="147.8" height="2" fill="url(#gb18)"/>
<rect x="254.0" y="81" width="147.8" height="2" fill="url(#gb19)"/>
<rect x="254.0" y="83" width="147.8" height="2" fill="url(#gb20)"/>
<rect x="254.0" y="85" width="147.8" height="2" fill="url(#gb21)"/>
<rect x="254.0" y="87" width="147.8" height="2" fill="url(#gb22)"/>
<rect x="254.0" y="89" width="147.8" height="2" fill="url(#gb23)"/>
<rect x="254.0" y="91" width="147.8" height="2" fill="url(#gb24)"/>
<rect x="254.0" y="93" width="147.8" height="2" fill="url(#gb25)"/>
<rect x="254.0" y="95" width="147.8" height="2" fill="url(#gb26)"/>
<rect x="254.0" y="97" width="147.8" height="2" fill="url(#gb27)"/>
<rect x="254.0" y="99" width="147.8" height="2" fill="url(#gb28)"/>
<rect x="254.0" y="101" width="147.8" height="2" fill="url(#gb29)"/>
<rect x="254.0" y="103" width="147.8" height="2" fill="url(#gb30)"/>
<rect x="254.0" y="105" width="147.8" height="2" fill="url(#gb31)"/>
<rect x="254.0" y="107" width="147.8" height="2" fill="url(#gb32)"/>
<rect x="254.0" y="109" width="147.8" height="2" fill="url(#gb33)"/>
<rect x="254.0" y="111" width="147.8" height="2" fill="url(#gb34)"/>
<rect x="254.0" y="113" width="147.8" height="2" fill="url(#gb35)"/>
<rect x="254.0" y="115" width="147.8" height="2" fill="url(#gb36)"/>
<rect x="254.0" y="117" width="147.8" height="2" fill="url(#gb37)"/>
<rect x="254.0" y="119" width="147.8" height="2" fill="url(#gb38)"/>
<rect x="254.0" y="121" width="147.8" height="2" fill="url(#gb39)"/>
<rect x="254.0" y="123" width="147.8" height="2" fill="url(#gb40)"/>
<rect x="254.0" y="125" width="147.8" height="2" fill="url(#gb41)"/>
<rect x="254.0" y="127" width="147.8" height="2" fill="url(#gb42)"/>
<rect x="254.0" y="129" width="147.8" height="2" fill="url(#gb43)"/>
<rect x="254.0" y="131" width="147.8" height="2" fill="url(#gb44)"/>
<rect x="254.0" y="133" width="147.8" height="2" fill="url(#gb45)"/>
<rect x="254.0" y="135" width="147.8" height="2" fill="url(#gb46)"/>
<rect x="254.0" y="137" width="147.8" height="2" fill="url(#gb47)"/>
<rect x="254.0" y="139" width="147.8" height="2" fill="url(#gb48)"/>
<rect x="254.0" y="141" width="147.8" height="2" fill="url(#gb49)"/>
<rect x="254.0" y="143" width="147.8" height="2" fill="url(#gb50)"/>
<rect x="254.0" y="145" width="147.8" height="2" fill="url(#gb51)"/>
<rect x="254.0" y="147" width="147.8" height="2" fill="url(#gb52)"/>
<rect x="254.0" y="149" width="147.8" height="2" fill="url(#gb53)"/>
<rect x="254.0" y="151" width="147.8" height="2" fill="url(#gb54)"/>
<rect x="254.0" y="153" width="147.8" height="2" fill="url(#gb55)"/>
<rect x="254.0" y="155" width="147.8" height="2" fill="url(#gb56)"/>
<rect x="254.0" y="157" width="147.8" height="2" fill="url(#gb57)"/>
<rect x="254.0" y="159" width="147.8" height="2" fill="url(#gb58)"/>
<rect x="254.0" y="161" width="147.8" height="2" fill="url(#gb59)"/>
<rect x="254.0" y="163" width="147.8" height="2" fill="url(#gb60)"/>
<rect x="254.0" y="165" width="147.8" height="2" fill="url(#gb61)"/>
<rect x="254.0" y="167" width="147.8" height="2" fill="url(#gb62)"/>
<rect x="254.0" y="169" width="147.8" height="2" fill="url(#gb63)"/>
<rect x="254.0" y="171" width="147.8" height="2" fill="url(#gb64)"/>
<rect x="254.0" y="173" width="147.8" height="2" fill="url(#gb65)"/>
<rect x="254.0" y="175" width="147.8" height="2" fill="url(#gb66)"/>
<rect x="254.0" y="177" width="147.8" height="2" fill="url(#gb67)"/>
<rect x="254.0" y="179" width="147.8" height="2" fill="url(#gb68)"/>
<rect x="254.0" y="181" width="147.8" height="2" fill="url(#gb69)"/>
<rect x="254.0" y="183" width="147.8" height="2" fill="url(#gb70)"/>
<rect x="254.0" y="185" width="147.8" height="2" fill="url(#gb71)"/>
<rect x="254.0" y="187" width="147.8" height="2" fill="url(#gb72)"/>
<rect x="254.0" y="189" width="147.8" height="2" fill="url(#gb73)"/>
<rect x="254.0" y="191" width="147.8" height="2" fill="url(#gb74)"/>
<rect x="254.0" y="193" width="147.8" height="2" fill="url(#gb75)"/>
<rect x="254.0" y="195" width="147.8" height="1" fill="url(#gb76)"/>
</g>
<path d="M254.0,43.2 L254.0,165.1 L255.9,160.1 L257.7,155.4 L259.6,151.3 L261.5,147.6 L263.4,144.2 L265.2,141.1 L267.1,138.3 L269.0,135.6 L270.8,133.0 L272.7,130.6 L274.6,128.3 L276.5,126.1 L278.3,123.9 L280.2,121.9 L282.1,119.9 L283.9,118.0 L285.8,116.1 L287.7,114.4 L289.5,112.6 L291.4,110.9 L293.3,109.3 L295.2,107.7 L297.0,106.1 L298.9,104.5 L300.8,103.0 L302.6,101.6 L304.5,100.1 L306.4,98.7 L308.3,97.3 L310.1,96.0 L312.0,94.6 L313.9,93.3 L315.7,92.0 L317.6,90.8 L319.5,89.5 L321.4,88.3 L323.2,87.1 L325.1,85.9 L327.0,84.7 L328.8,83.5 L330.7,82.4 L332.6,81.3 L334.4,80.2 L336.3,79.1 L338.2,78.0 L340.1,76.9 L341.9,75.8 L343.8,74.8 L345.7,73.8 L347.5,72.7 L349.4,71.7 L351.3,70.7 L353.2,69.7 L355.0,68.7 L356.9,67.8 L358.8,66.8 L360.6,65.9 L362.5,64.9 L364.4,64.0 L366.3,63.1 L368.1,62.2 L370.0,61.2 L371.9,60.3 L373.7,59.5 L375.6,58.6 L377.5,57.7 L379.3,56.8 L381.2,56.0 L383.1,55.1 L385.0,54.3 L386.8,53.4 L388.7,52.6 L390.6,51.8 L392.4,51.0 L394.3,50.1 L396.2,49.3 L398.1,48.5 L399.9,47.7 L401.8,46.9 L401.8,43.2 Z" fill="#ba162b"/>
<g clip-path="url(#cb)"><g mask="url(#mb)" fill="none" stroke="#000" stroke-width="1.4" stroke-dasharray="3.9 1.5">
<path d="M272.0,195.7 L272.1,195.3 L272.1,194.9 L272.2,194.5 L272.3,194.2 L272.4,193.8 L272.5,193.4 L272.6,193.0 L272.8,192.7 L272.9,192.3 L273.1,192.0 L273.3,191.6 L273.5,191.3 L273.8,191.0 L274.1,190.7 L274.3,190.4 L274.7,190.1 L275.0,189.9 L275.3,189.7 L275.7,189.6 L276.1,189.5 L276.4,189.4 L276.8,189.4 L277.2,189.4 L277.6,189.5 L278.0,189.6 L278.4,189.7 L278.8,189.9 L279.1,190.1 L279.5,190.3 L279.8,190.5 L280.1,190.7 L280.4,190.9 L280.7,191.2 L281.0,191.5 L281.3,191.7 L281.5,192.0 L281.8,192.3 L282.1,192.6 L282.3,192.9 L282.6,193.1 L282.9,193.4 L283.1,193.7 L283.4,194.0 L283.7,194.3 L283.9,194.6 L284.2,194.8 L284.5,195.1 L284.7,195.4 L285.0,195.7"/>
<path d="M268.6,195.7 L268.6,194.7 L268.6,193.7 L268.6,192.7 L268.6,191.7 L268.6,190.8 L268.5,189.8 L268.4,188.8 L268.3,187.8 L268.3,186.8 L268.4,185.8 L268.5,184.8 L268.8,183.9 L269.1,182.9 L269.5,182.0 L270.0,181.1 L270.5,180.3 L271.0,179.5 L271.6,178.7 L272.2,177.9 L272.9,177.1 L273.6,176.5 L274.5,176.0 L275.5,175.7 L276.4,175.6 L277.4,175.9 L278.3,176.4 L279.1,177.0 L279.9,177.6 L280.6,178.3 L281.3,179.0 L281.9,179.8 L282.5,180.6 L283.1,181.4 L283.7,182.2 L284.2,183.0 L284.8,183.8 L285.3,184.7 L285.8,185.5 L286.3,186.4 L286.7,187.3 L287.2,188.1 L287.6,189.1 L287.9,190.0 L288.3,190.9 L288.6,191.9 L288.8,192.8 L289.1,193.8 L289.3,194.7 L289.5,195.7"/>
<path d="M257.2,195.7 L257.2,195.5 L257.3,195.2 L257.3,195.0 L257.3,194.7 L257.4,194.5 L257.4,194.3 L257.5,194.0 L257.5,193.8 L257.6,193.5 L257.7,193.3 L257.8,193.0 L257.9,192.8 L258.0,192.5 L258.2,192.3 L258.3,192.1 L258.5,191.8 L258.6,191.6 L258.8,191.5 L259.0,191.3 L259.2,191.2 L259.4,191.1 L259.7,191.0 L259.9,191.0 L260.1,191.0 L260.4,191.1 L260.6,191.2 L260.9,191.3 L261.1,191.4 L261.3,191.5 L261.5,191.7 L261.7,191.9 L261.9,192.0 L262.1,192.2 L262.2,192.4 L262.4,192.6 L262.5,192.8 L262.7,193.0 L262.8,193.2 L262.9,193.4 L263.0,193.7 L263.1,193.9 L263.3,194.1 L263.4,194.3 L263.5,194.6 L263.6,194.8 L263.7,195.0 L263.8,195.2 L263.9,195.5 L264.0,195.7"/>
<path d="M263.2,146.4 L264.1,147.2 L265.0,148.0 L265.9,148.8 L266.8,149.7 L267.7,150.5 L268.6,151.3 L269.5,152.2 L270.3,153.0 L271.2,153.9 L272.0,154.8 L272.9,155.6 L273.8,156.5 L274.7,157.3 L275.6,158.1 L276.5,158.9 L277.4,159.7 L278.4,160.5 L279.2,161.3 L280.1,162.2 L280.9,163.1 L281.6,164.1 L282.3,165.1 L283.1,166.1 L283.8,167.1 L284.5,168.0 L285.2,169.0 L285.9,170.0 L286.5,171.1 L287.1,172.1 L287.7,173.2 L288.2,174.3 L288.7,175.5 L289.1,176.6 L289.4,177.8 L289.7,178.9 L290.0,180.1 L290.3,181.3 L290.6,182.5 L290.8,183.7 L291.1,184.9 L291.3,186.1 L291.6,187.3 L291.8,188.5 L292.0,189.7 L292.2,190.9 L292.4,192.1 L292.5,193.3 L292.7,194.5 L292.8,195.7"/>
<path d="M283.0,120.3 L283.6,121.8 L284.1,123.3 L284.7,124.7 L285.3,126.2 L285.9,127.7 L286.4,129.2 L287.1,130.6 L287.7,132.1 L288.3,133.5 L289.0,135.0 L289.7,136.4 L290.3,137.9 L290.9,139.3 L291.5,140.8 L291.9,142.3 L292.3,143.9 L292.6,145.4 L292.9,147.0 L293.2,148.6 L293.5,150.1 L293.7,151.7 L294.0,153.3 L294.3,154.8 L294.6,156.4 L294.9,157.9 L295.3,159.5 L295.6,161.0 L295.9,162.6 L296.2,164.1 L296.4,165.7 L296.6,167.3 L296.9,168.9 L297.1,170.4 L297.4,172.0 L297.6,173.6 L297.8,175.1 L298.0,176.7 L298.2,178.3 L298.3,179.9 L298.4,181.4 L298.5,183.0 L298.6,184.6 L298.7,186.2 L298.8,187.8 L298.8,189.4 L298.9,191.0 L299.0,192.5 L299.1,194.1 L299.2,195.7"/>
<path d="M315.8,88.6 L315.7,91.3 L315.5,94.1 L315.4,96.8 L315.3,99.6 L315.1,102.3 L315.0,105.1 L314.8,107.8 L314.7,110.6 L314.6,113.3 L314.4,116.1 L314.3,118.8 L314.1,121.6 L314.0,124.3 L313.9,127.0 L313.7,129.8 L313.6,132.5 L313.5,135.3 L313.4,138.0 L313.2,140.8 L313.1,143.5 L313.0,146.3 L312.9,149.0 L312.7,151.8 L312.6,154.5 L312.5,157.3 L312.4,160.0 L312.3,162.7 L312.1,165.5 L312.0,168.2 L311.9,171.0 L311.8,173.7 L311.7,176.5 L311.6,179.2 L311.5,182.0 L311.4,184.7 L311.2,187.5 L311.1,190.2 L311.0,193.0 L310.9,195.7"/>
<path d="M344.2,71.8 L343.5,75.0 L342.8,78.2 L342.0,81.3 L341.3,84.5 L340.6,87.7 L339.9,90.9 L339.3,94.0 L338.6,97.2 L338.0,100.4 L337.3,103.6 L336.7,106.7 L336.1,109.9 L335.5,113.1 L334.9,116.3 L334.4,119.5 L333.8,122.6 L333.3,125.8 L332.8,129.0 L332.2,132.2 L331.7,135.3 L331.2,138.5 L330.8,141.7 L330.3,144.9 L329.8,148.0 L329.4,151.2 L329.0,154.4 L328.6,157.6 L328.2,160.8 L327.8,163.9 L327.4,167.1 L327.0,170.3 L326.7,173.5 L326.3,176.6 L326.0,179.8 L325.7,183.0 L325.4,186.2 L325.1,189.3 L324.8,192.5 L324.6,195.7"/>
<path d="M372.6,58.1 L371.3,61.6 L370.1,65.2 L368.9,68.7 L367.7,72.2 L366.5,75.7 L365.3,79.3 L364.2,82.8 L363.1,86.3 L362.0,89.9 L360.9,93.4 L359.8,96.9 L358.8,100.4 L357.8,104.0 L356.8,107.5 L355.8,111.0 L354.8,114.6 L353.9,118.1 L353.0,121.6 L352.1,125.1 L351.2,128.7 L350.3,132.2 L349.5,135.7 L348.7,139.2 L347.9,142.8 L347.1,146.3 L346.4,149.8 L345.6,153.4 L344.9,156.9 L344.2,160.4 L343.5,163.9 L342.9,167.5 L342.3,171.0 L341.6,174.5 L341.0,178.1 L340.5,181.6 L339.9,185.1 L339.4,188.6 L338.9,192.2 L338.4,195.7"/>
<path d="M403.0,45.0 L401.2,48.9 L399.4,52.7 L397.7,56.6 L395.9,60.5 L394.2,64.3 L392.6,68.2 L390.9,72.0 L389.3,75.9 L387.8,79.8 L386.2,83.6 L384.7,87.5 L383.3,91.4 L381.8,95.2 L380.4,99.1 L379.0,103.0 L377.7,106.8 L376.4,110.7 L375.1,114.6 L373.8,118.4 L372.6,122.3 L371.4,126.1 L370.3,130.0 L369.2,133.9 L368.1,137.7 L367.0,141.6 L366.0,145.5 L365.0,149.3 L364.0,153.2 L363.1,157.1 L362.2,160.9 L361.3,164.8 L360.5,168.7 L359.7,172.5 L358.9,176.4 L358.2,180.2 L357.5,184.1 L356.8,188.0 L356.1,191.8 L355.5,195.7"/>
<path d="M404.3,99.3 L403.1,101.8 L401.8,104.2 L400.6,106.7 L399.4,109.2 L398.3,111.7 L397.1,114.1 L396.1,116.6 L395.0,119.1 L394.0,121.5 L393.0,124.0 L392.0,126.5 L391.1,129.0 L390.2,131.4 L389.3,133.9 L388.4,136.4 L387.6,138.8 L386.9,141.3 L386.1,143.8 L385.4,146.3 L384.7,148.7 L384.0,151.2 L383.4,153.7 L382.8,156.2 L382.2,158.6 L381.7,161.1 L381.2,163.6 L380.7,166.0 L380.3,168.5 L379.9,171.0 L379.5,173.5 L379.1,175.9 L378.8,178.4 L378.5,180.9 L378.3,183.3 L378.0,185.8 L377.8,188.3 L377.7,190.8 L377.5,193.2 L377.4,195.7"/>
</g><path d="M308.7,90 V195.7" stroke="#fff" stroke-width="1.4" stroke-dasharray="3.9 1.5" fill="none"/></g>
<path d="M254.0,165.1 L255.9,160.1 L257.7,155.4 L259.6,151.3 L261.5,147.6 L263.4,144.2 L265.2,141.1 L267.1,138.3 L269.0,135.6 L270.8,133.0 L272.7,130.6 L274.6,128.3 L276.5,126.1 L278.3,123.9 L280.2,121.9 L282.1,119.9 L283.9,118.0 L285.8,116.1 L287.7,114.4 L289.5,112.6 L291.4,110.9 L293.3,109.3 L295.2,107.7 L297.0,106.1 L298.9,104.5 L300.8,103.0 L302.6,101.6 L304.5,100.1 L306.4,98.7 L308.3,97.3 L310.1,96.0 L312.0,94.6 L313.9,93.3 L315.7,92.0 L317.6,90.8 L319.5,89.5 L321.4,88.3 L323.2,87.1 L325.1,85.9 L327.0,84.7 L328.8,83.5 L330.7,82.4 L332.6,81.3 L334.4,80.2 L336.3,79.1 L338.2,78.0 L340.1,76.9 L341.9,75.8 L343.8,74.8 L345.7,73.8 L347.5,72.7 L349.4,71.7 L351.3,70.7 L353.2,69.7 L355.0,68.7 L356.9,67.8 L358.8,66.8 L360.6,65.9 L362.5,64.9 L364.4,64.0 L366.3,63.1 L368.1,62.2 L370.0,61.2 L371.9,60.3 L373.7,59.5 L375.6,58.6 L377.5,57.7 L379.3,56.8 L381.2,56.0 L383.1,55.1 L385.0,54.3 L386.8,53.4 L388.7,52.6 L390.6,51.8 L392.4,51.0 L394.3,50.1 L396.2,49.3 L398.1,48.5 L399.9,47.7 L401.8,46.9" fill="none" stroke="#000" stroke-width="1.3"/>
<text x="275.2" y="192.8" font-size="6.2" text-anchor="middle" stroke="#000" stroke-width="0.2" font-family="Liberation Sans, Arial, Helvetica, sans-serif" font-weight="bold" transform="rotate(40.0 275.2 190.6)">0</text>
<text x="275.6" y="177.7" font-size="6.2" text-anchor="middle" stroke="#000" stroke-width="0.2" font-family="Liberation Sans, Arial, Helvetica, sans-serif" font-weight="bold" transform="rotate(3.0 275.6 175.5)">25</text>
<text x="270.0" y="154.9" font-size="6.2" text-anchor="middle" stroke="#000" stroke-width="0.2" font-family="Liberation Sans, Arial, Helvetica, sans-serif" font-weight="bold" transform="rotate(40.0 270.0 152.7)">50</text>
<text x="292.9" y="149.0" font-size="6.2" text-anchor="middle" stroke="#000" stroke-width="0.2" font-family="Liberation Sans, Arial, Helvetica, sans-serif" font-weight="bold" transform="rotate(75.0 292.9 146.8)">100</text>
<text x="312.8" y="152.6" font-size="6.2" text-anchor="middle" stroke="#000" stroke-width="0.2" font-family="Liberation Sans, Arial, Helvetica, sans-serif" font-weight="bold" transform="rotate(-87.4 312.8 150.4)">200</text>
<text x="330.0" y="149.0" font-size="6.2" text-anchor="middle" stroke="#000" stroke-width="0.2" font-family="Liberation Sans, Arial, Helvetica, sans-serif" font-weight="bold" transform="rotate(-81.9 330.0 146.8)">300</text>
<text x="347.2" y="148.0" font-size="6.2" text-anchor="middle" stroke="#000" stroke-width="0.2" font-family="Liberation Sans, Arial, Helvetica, sans-serif" font-weight="bold" transform="rotate(-77.7 347.2 145.8)">400</text>
<text x="366.7" y="145.1" font-size="6.2" text-anchor="middle" stroke="#000" stroke-width="0.2" font-family="Liberation Sans, Arial, Helvetica, sans-serif" font-weight="bold" transform="rotate(-75.0 366.7 142.9)">500</text>
<text x="386.0" y="146.3" font-size="6.2" text-anchor="middle" stroke="#000" stroke-width="0.2" font-family="Liberation Sans, Arial, Helvetica, sans-serif" font-weight="bold" transform="rotate(-73.5 386.0 144.1)">600</text>
<rect x="254.1" y="43.3" width="147.6" height="152.4" fill="none" stroke="#1a1a1a" stroke-width="0.55"/>
<path d="M254.20,196.0 v3" stroke="#000" stroke-width="0.9"/>
<text x="254.20" y="207.6" font-size="6.35" text-anchor="middle" stroke="#000" stroke-width="0.12" font-family="Liberation Sans, Arial, Helvetica, sans-serif" font-weight="bold">0</text>
<path d="M290.98,196.0 v3" stroke="#000" stroke-width="0.9"/>
<text x="290.98" y="207.6" font-size="6.35" text-anchor="middle" stroke="#000" stroke-width="0.12" font-family="Liberation Sans, Arial, Helvetica, sans-serif" font-weight="bold">250</text>
<path d="M327.75,196.0 v3" stroke="#000" stroke-width="0.9"/>
<text x="327.75" y="207.6" font-size="6.35" text-anchor="middle" stroke="#000" stroke-width="0.12" font-family="Liberation Sans, Arial, Helvetica, sans-serif" font-weight="bold">500</text>
<path d="M364.52,196.0 v3" stroke="#000" stroke-width="0.9"/>
<text x="364.52" y="207.6" font-size="6.35" text-anchor="middle" stroke="#000" stroke-width="0.12" font-family="Liberation Sans, Arial, Helvetica, sans-serif" font-weight="bold">750</text>
<path d="M401.30,196.0 v3" stroke="#000" stroke-width="0.9"/>
<text x="401.30" y="207.6" font-size="6.35" text-anchor="middle" stroke="#000" stroke-width="0.12" font-family="Liberation Sans, Arial, Helvetica, sans-serif" font-weight="bold">1000</text>
<path d="M254.0,168.90 h-3" stroke="#000" stroke-width="0.9"/>
<text x="247.8" y="171.40" font-size="6.35" text-anchor="end" stroke="#000" stroke-width="0.12" font-family="Liberation Sans, Arial, Helvetica, sans-serif" font-weight="bold">2</text>
<path d="M254.0,137.50 h-3" stroke="#000" stroke-width="0.9"/>
<text x="247.8" y="140.00" font-size="6.35" text-anchor="end" stroke="#000" stroke-width="0.12" font-family="Liberation Sans, Arial, Helvetica, sans-serif" font-weight="bold">4</text>
<path d="M254.0,106.10 h-3" stroke="#000" stroke-width="0.9"/>
<text x="247.8" y="108.60" font-size="6.35" text-anchor="end" stroke="#000" stroke-width="0.12" font-family="Liberation Sans, Arial, Helvetica, sans-serif" font-weight="bold">6</text>
<path d="M254.0,74.70 h-3" stroke="#000" stroke-width="0.9"/>
<text x="247.8" y="77.20" font-size="6.35" text-anchor="end" stroke="#000" stroke-width="0.12" font-family="Liberation Sans, Arial, Helvetica, sans-serif" font-weight="bold">8</text>
<path d="M254.0,43.30 h-3" stroke="#000" stroke-width="0.9"/>
<text x="247.8" y="45.80" font-size="6.35" text-anchor="end" stroke="#000" stroke-width="0.12" font-family="Liberation Sans, Arial, Helvetica, sans-serif" font-weight="bold">10</text>
<text x="328.4" y="218.3" font-size="7.35" text-anchor="middle" font-family="Liberation Sans, Arial, Helvetica, sans-serif" font-weight="bold">Pressure (GPa)</text>
<text x="328.1" y="37.3" font-size="7.95" text-anchor="middle" font-family="Liberation Sans, Arial, Helvetica, sans-serif" font-weight="bold">(b) Modified SG elasticity model</text>
<text transform="translate(235.3 119.3) rotate(-90)" font-size="7.5" text-anchor="middle" stroke="#000" stroke-width="0.12" font-family="Liberation Sans, Arial, Helvetica, sans-serif" font-weight="bold">Temperature (<tspan font-family="DejaVu Sans, sans-serif" font-size="7.2">10</tspan><tspan font-family="DejaVu Sans, sans-serif" font-size="5.0" dy="-2.6">3</tspan><tspan dy="2.6"> K)</tspan></text>
</g>
<text x="295.7" y="75.3" font-size="7.8" text-anchor="middle" fill="#fff" font-family="Liberation Sans, Arial, Helvetica, sans-serif" font-weight="bold">Liquid</text>
<text x="268.2" y="169.2" font-size="8.0" text-anchor="middle" fill="#fff000" font-family="Liberation Sans, Arial, Helvetica, sans-serif" font-weight="bold">HIH</text>
<text x="363.2" y="169.4" font-size="8.0" text-anchor="middle" fill="#fff000" font-family="Liberation Sans, Arial, Helvetica, sans-serif" font-weight="bold">HIS</text>
<rect x="411.3" y="43.2" width="7.5" height="152.5" fill="url(#cbb)" stroke="#1a1a1a" stroke-width="0.6"/>
<path d="M418.8,192.70 h2.8" stroke="#000" stroke-width="0.9"/>
<text x="425.8" y="194.95" font-size="6.35" stroke="#000" stroke-width="0.12" font-family="Liberation Sans, Arial, Helvetica, sans-serif" font-weight="bold">0</text>
<path d="M418.8,171.53 h2.8" stroke="#000" stroke-width="0.9"/>
<text x="425.8" y="173.78" font-size="6.35" stroke="#000" stroke-width="0.12" font-family="Liberation Sans, Arial, Helvetica, sans-serif" font-weight="bold">100</text>
<path d="M418.8,150.36 h2.8" stroke="#000" stroke-width="0.9"/>
<text x="425.8" y="152.61" font-size="6.35" stroke="#000" stroke-width="0.12" font-family="Liberation Sans, Arial, Helvetica, sans-serif" font-weight="bold">200</text>
<path d="M418.8,129.19 h2.8" stroke="#000" stroke-width="0.9"/>
<text x="425.8" y="131.44" font-size="6.35" stroke="#000" stroke-width="0.12" font-family="Liberation Sans, Arial, Helvetica, sans-serif" font-weight="bold">300</text>
<path d="M418.8,108.02 h2.8" stroke="#000" stroke-width="0.9"/>
<text x="425.8" y="110.27" font-size="6.35" stroke="#000" stroke-width="0.12" font-family="Liberation Sans, Arial, Helvetica, sans-serif" font-weight="bold">400</text>
<path d="M418.8,86.85 h2.8" stroke="#000" stroke-width="0.9"/>
<text x="425.8" y="89.10" font-size="6.35" stroke="#000" stroke-width="0.12" font-family="Liberation Sans, Arial, Helvetica, sans-serif" font-weight="bold">500</text>
<path d="M418.8,65.68 h2.8" stroke="#000" stroke-width="0.9"/>
<text x="425.8" y="67.93" font-size="6.35" stroke="#000" stroke-width="0.12" font-family="Liberation Sans, Arial, Helvetica, sans-serif" font-weight="bold">600</text>
<path d="M418.8,44.51 h2.8" stroke="#000" stroke-width="0.9"/>
<text x="425.8" y="46.76" font-size="6.35" stroke="#000" stroke-width="0.12" font-family="Liberation Sans, Arial, Helvetica, sans-serif" font-weight="bold">700</text>
<text transform="translate(445.4 120.0) rotate(-90)" font-size="6.75" text-anchor="middle" stroke="#000" stroke-width="0.1" font-family="Liberation Sans, Arial, Helvetica, sans-serif" font-weight="bold"><tspan font-family="DejaVu Sans, sans-serif" font-style="italic" font-size="6.5">G</tspan> (GPa)</text>
</svg>
</body></html>
